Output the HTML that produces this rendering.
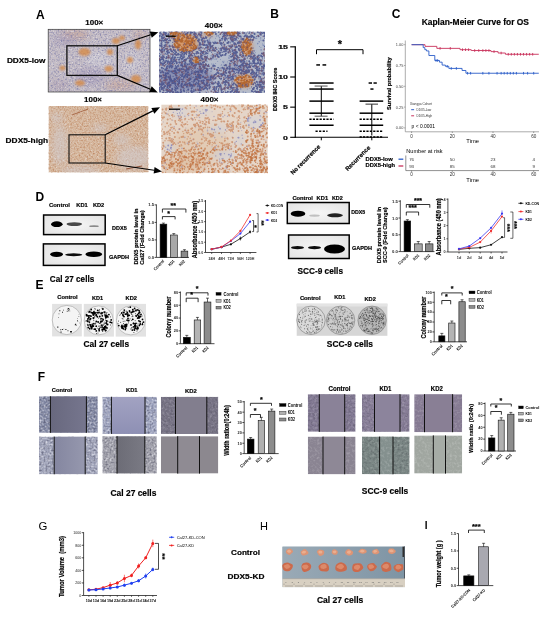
<!DOCTYPE html><html><head><meta charset="utf-8"><style>html,body{margin:0;padding:0;background:#fff;overflow:hidden}svg{display:block;font-family:"Liberation Sans",Arial,sans-serif}</style></head><body><svg width="550" height="617" viewBox="0 0 550 617"><defs><filter id="b05" x="-50%" y="-50%" width="200%" height="200%"><feGaussianBlur stdDeviation="0.5"/></filter><filter id="b1" x="-50%" y="-50%" width="200%" height="200%"><feGaussianBlur stdDeviation="1"/></filter><filter id="b2" x="-50%" y="-50%" width="200%" height="200%"><feGaussianBlur stdDeviation="2"/></filter><filter id="b3" x="-50%" y="-50%" width="200%" height="200%"><feGaussianBlur stdDeviation="3"/></filter><filter id="b07" x="-50%" y="-50%" width="200%" height="200%"><feGaussianBlur stdDeviation="0.7"/></filter><filter id="b04" x="-50%" y="-50%" width="200%" height="200%"><feGaussianBlur stdDeviation="0.4"/></filter><clipPath id="cA1"><rect x="48.2" y="29.3" width="101.8" height="62.7"/></clipPath><filter id="sA1p" x="0" y="0" width="100%" height="100%" color-interpolation-filters="sRGB"><feTurbulence type="fractalNoise" baseFrequency="0.62" numOctaves="2" seed="3"/><feColorMatrix type="matrix" values="0 0 0 0 0.46 0 0 0 0 0.46 0 0 0 0 0.65 1.8 0 0 0 -0.83"/></filter><filter id="sA1w" x="0" y="0" width="100%" height="100%" color-interpolation-filters="sRGB"><feTurbulence type="fractalNoise" baseFrequency="0.55" numOctaves="2" seed="8"/><feColorMatrix type="matrix" values="0 0 0 0 0.93 0 0 0 0 0.92 0 0 0 0 0.94 2.4 0 0 0 -1.39"/></filter><filter id="sA1o" x="0" y="0" width="100%" height="100%" color-interpolation-filters="sRGB"><feTurbulence type="fractalNoise" baseFrequency="0.6" numOctaves="2" seed="5"/><feColorMatrix type="matrix" values="0 0 0 0 0.77 0 0 0 0 0.51 0 0 0 0 0.33 2.2 0 0 0 -0.99"/></filter><mask id="mA1" maskUnits="userSpaceOnUse" x="48.2" y="29.3" width="101.8" height="62.7"><ellipse cx="84.5" cy="52" rx="6" ry="4" fill="#fff" filter="url(#b1)"/><ellipse cx="116" cy="41" rx="4" ry="3" fill="#fff" filter="url(#b1)"/><ellipse cx="122" cy="38" rx="3" ry="2.5" fill="#fff" filter="url(#b1)"/><ellipse cx="138" cy="44.5" rx="3" ry="5" fill="#fff" filter="url(#b1)"/><ellipse cx="110" cy="52" rx="3" ry="3" fill="#fff" filter="url(#b1)"/><ellipse cx="62.5" cy="68" rx="3" ry="2.5" fill="#fff" filter="url(#b1)"/><ellipse cx="108.7" cy="68.7" rx="4" ry="3" fill="#fff" filter="url(#b1)"/><ellipse cx="80" cy="83" rx="5" ry="3" fill="#fff" filter="url(#b1)"/><ellipse cx="136" cy="79" rx="5" ry="4" fill="#fff" filter="url(#b1)"/><ellipse cx="130" cy="60" rx="3" ry="3" fill="#fff" filter="url(#b1)"/></mask><clipPath id="cA2"><rect x="159" y="31.4" width="106" height="61.6"/></clipPath><mask id="mA2" maskUnits="userSpaceOnUse" x="159" y="31.4" width="106" height="61.6"><ellipse cx="186" cy="43" rx="12" ry="8.5" fill="#fff" filter="url(#b2)"/><ellipse cx="177" cy="35" rx="7" ry="3" fill="#fff" filter="url(#b2)"/><ellipse cx="208" cy="34" rx="5" ry="2.5" fill="#fff" filter="url(#b2)"/><ellipse cx="232" cy="33" rx="5" ry="2.5" fill="#fff" filter="url(#b2)"/><ellipse cx="247" cy="47" rx="5.5" ry="8.5" fill="#fff" filter="url(#b2)"/><ellipse cx="244" cy="81" rx="9.5" ry="6.5" fill="#fff" filter="url(#b2)"/><ellipse cx="196" cy="60" rx="3.5" ry="2.5" fill="#fff" filter="url(#b2)"/></mask><clipPath id="cA3"><rect x="48.5" y="106" width="99.9" height="66.6"/></clipPath><filter id="sA3o" x="0" y="0" width="100%" height="100%" color-interpolation-filters="sRGB"><feTurbulence type="fractalNoise" baseFrequency="0.62" numOctaves="2" seed="21"/><feColorMatrix type="matrix" values="0 0 0 0 0.73 0 0 0 0 0.5 0 0 0 0 0.35 1.8 0 0 0 -0.76"/></filter><filter id="sA3w" x="0" y="0" width="100%" height="100%" color-interpolation-filters="sRGB"><feTurbulence type="fractalNoise" baseFrequency="0.55" numOctaves="2" seed="22"/><feColorMatrix type="matrix" values="0 0 0 0 0.93 0 0 0 0 0.91 0 0 0 0 0.91 2.2 0 0 0 -1.28"/></filter><mask id="mA3" maskUnits="userSpaceOnUse" x="48.5" y="106" width="99.9" height="66.6"><ellipse cx="60" cy="145" rx="8" ry="20" fill="#fff" filter="url(#b3)"/><ellipse cx="134" cy="158" rx="18" ry="12" fill="#fff" filter="url(#b3)"/><ellipse cx="122" cy="140" rx="8" ry="6" fill="#fff" filter="url(#b3)"/><ellipse cx="80" cy="171" rx="20" ry="5" fill="#fff" filter="url(#b3)"/><ellipse cx="100" cy="128" rx="8" ry="4" fill="#fff" filter="url(#b3)"/><ellipse cx="57" cy="118" rx="6" ry="6" fill="#fff" filter="url(#b3)"/></mask><clipPath id="cA4"><rect x="161.2" y="104.4" width="106.6" height="68.8"/></clipPath><mask id="mA4" maskUnits="userSpaceOnUse" x="161.2" y="104.4" width="106.6" height="68.8"><ellipse cx="180" cy="112" rx="9" ry="4" fill="#fff" filter="url(#b3)"/><ellipse cx="218" cy="129" rx="9" ry="4" fill="#fff" filter="url(#b3)"/><ellipse cx="255" cy="122" rx="9" ry="6" fill="#fff" filter="url(#b3)"/><ellipse cx="224" cy="155" rx="12" ry="5" fill="#fff" filter="url(#b3)"/><ellipse cx="170" cy="148" rx="6" ry="4" fill="#fff" filter="url(#b3)"/><ellipse cx="205" cy="112" rx="6" ry="3" fill="#fff" filter="url(#b3)"/><ellipse cx="240" cy="140" rx="4" ry="6" fill="#fff" filter="url(#b3)"/></mask><radialGradient id="gBlot" cx="0.5" cy="0.5" r="0.7"><stop offset="0" stop-color="#f6f6f6"/><stop offset="1" stop-color="#e2e2e2"/></radialGradient><filter id="nW" x="0" y="0" width="100%" height="100%" color-interpolation-filters="sRGB"><feTurbulence type="fractalNoise" baseFrequency="0.5" numOctaves="2" seed="31"/><feColorMatrix type="matrix" values="0 0 0 0 0.98 0 0 0 0 0.98 0 0 0 0 1 1.6 0 0 0 -0.66"/></filter><filter id="nWd" x="0" y="0" width="100%" height="100%" color-interpolation-filters="sRGB"><feTurbulence type="fractalNoise" baseFrequency="0.5" numOctaves="2" seed="41"/><feColorMatrix type="matrix" values="0 0 0 0 0.24 0 0 0 0 0.24 0 0 0 0 0.33 1.3 0 0 0 -0.6"/></filter><filter id="nWs" x="0" y="0" width="100%" height="100%" color-interpolation-filters="sRGB"><feTurbulence type="fractalNoise" baseFrequency="0.4" numOctaves="2" seed="37"/><feColorMatrix type="matrix" values="0 0 0 0 1 0 0 0 0 1 0 0 0 0 1 0.5 0 0 0 -0.23"/></filter><filter id="nWsd" x="0" y="0" width="100%" height="100%" color-interpolation-filters="sRGB"><feTurbulence type="fractalNoise" baseFrequency="0.45" numOctaves="2" seed="39"/><feColorMatrix type="matrix" values="0 0 0 0 0.16 0 0 0 0 0.16 0 0 0 0 0.2 0.6 0 0 0 -0.26"/></filter><clipPath id="cw1"><rect x="39" y="396.3" width="58.8" height="36.5"/></clipPath><linearGradient id="g1" x1="0" y1="0" x2="1" y2="0"><stop offset="0" stop-color="#68687e"/><stop offset="1" stop-color="#76768e"/></linearGradient><clipPath id="cw2"><rect x="39" y="436.6" width="58.8" height="37.7"/></clipPath><linearGradient id="g2" x1="0" y1="0" x2="1" y2="0"><stop offset="0" stop-color="#8486a0"/><stop offset="1" stop-color="#9698ae"/></linearGradient><clipPath id="cw3"><rect x="102.4" y="396.8" width="54.4" height="37.1"/></clipPath><linearGradient id="g3" x1="0" y1="0" x2="0" y2="1"><stop offset="0" stop-color="#a2a2c2"/><stop offset="1" stop-color="#8e90b4"/></linearGradient><clipPath id="cw4"><rect x="102.4" y="436.2" width="54.4" height="37.4"/></clipPath><linearGradient id="g4" x1="0" y1="0" x2="1" y2="0"><stop offset="0" stop-color="#6c6c76"/><stop offset="1" stop-color="#7a7a84"/></linearGradient><clipPath id="cw5"><rect x="160.9" y="396.8" width="57.4" height="37.1"/></clipPath><clipPath id="cw6"><rect x="160.9" y="436.2" width="57.4" height="37.4"/></clipPath><clipPath id="cw7"><rect x="307.8" y="394.2" width="47.8" height="37.6"/></clipPath><clipPath id="cw8"><rect x="307.8" y="436.6" width="47.8" height="37.7"/></clipPath><clipPath id="cw9"><rect x="362" y="394.2" width="47.6" height="37.6"/></clipPath><clipPath id="cw10"><rect x="362" y="436.6" width="47.6" height="37.7"/></clipPath><clipPath id="cw11"><rect x="414.2" y="394.2" width="48" height="38"/></clipPath><clipPath id="cw12"><rect x="414.2" y="435.4" width="48" height="38.2"/></clipPath><clipPath id="cH"><rect x="282.3" y="546.4" width="122.7" height="40.9"/></clipPath><linearGradient id="gH" x1="0" y1="0" x2="1" y2="0"><stop offset="0" stop-color="#9aaab6"/><stop offset="1" stop-color="#7e94a4"/></linearGradient><filter id="sTum" x="0" y="0" width="100%" height="100%" color-interpolation-filters="sRGB"><feTurbulence type="fractalNoise" baseFrequency="0.5" numOctaves="2" seed="77"/><feColorMatrix type="matrix" values="0 0 0 0 0.98 0 0 0 0 0.78 0 0 0 0 0.67 2.2 0 0 0 -1.1"/></filter><filter id="sTumD" x="0" y="0" width="100%" height="100%" color-interpolation-filters="sRGB"><feTurbulence type="fractalNoise" baseFrequency="0.6" numOctaves="2" seed="78"/><feColorMatrix type="matrix" values="0 0 0 0 0.67 0 0 0 0 0.24 0 0 0 0 0.16 2.2 0 0 0 -1.21"/></filter></defs><rect width="550" height="617" fill="#fff"/><text x="36" y="18.59" font-size="12" font-weight="bold">A</text>
<text x="94.3" y="24.66" font-size="8" font-weight="bold" text-anchor="middle" fill="#000" textLength="18" lengthAdjust="spacingAndGlyphs" stroke="#000" stroke-width="0.18">100×</text>
<text x="213.8" y="28.16" font-size="8" font-weight="bold" text-anchor="middle" fill="#000" textLength="18" lengthAdjust="spacingAndGlyphs" stroke="#000" stroke-width="0.18">400×</text>
<text x="93" y="102.36" font-size="8" font-weight="bold" text-anchor="middle" fill="#000" textLength="18" lengthAdjust="spacingAndGlyphs" stroke="#000" stroke-width="0.18">100×</text>
<text x="209.5" y="102.06" font-size="8" font-weight="bold" text-anchor="middle" fill="#000" textLength="18" lengthAdjust="spacingAndGlyphs" stroke="#000" stroke-width="0.18">400×</text>
<text x="6.9" y="62.86" font-size="8" font-weight="bold" text-anchor="start" fill="#000" textLength="38.6" lengthAdjust="spacingAndGlyphs" stroke="#000" stroke-width="0.18">DDX5-low</text>
<text x="5.6" y="142.86" font-size="8" font-weight="bold" text-anchor="start" fill="#000" textLength="42.6" lengthAdjust="spacingAndGlyphs" stroke="#000" stroke-width="0.18">DDX5-high</text>
<g clip-path="url(#cA1)">
<rect x="48.2" y="29.3" width="101.8" height="62.7" fill="#c6bec6"/>
<ellipse cx="100" cy="60" rx="14" ry="9" fill="#d0ced8" opacity="0.7" filter="url(#b3)"/>
<ellipse cx="132" cy="62" rx="8" ry="10" fill="#d6d4dc" opacity="0.6" filter="url(#b3)"/>
<ellipse cx="75" cy="35" rx="14" ry="5" fill="#cc9c84" opacity="0.5" filter="url(#b3)"/>
<ellipse cx="120" cy="85" rx="16" ry="5" fill="#c89c88" opacity="0.5" filter="url(#b3)"/>
<ellipse cx="140" cy="35" rx="8" ry="5" fill="#c8a090" opacity="0.5" filter="url(#b3)"/>
<ellipse cx="66" cy="40" rx="12" ry="6" fill="#a89cb8" opacity="0.6" filter="url(#b3)"/>
<ellipse cx="90" cy="76" rx="16" ry="8" fill="#a49ab8" opacity="0.6" filter="url(#b3)"/>
<ellipse cx="60" cy="85" rx="10" ry="5" fill="#b0a0b0" opacity="0.6" filter="url(#b3)"/>
<rect x="48.2" y="29.3" width="101.8" height="62.7" fill="#000" filter="url(#sA1p)"/>
<rect x="48.2" y="29.3" width="101.8" height="62.7" fill="#000" filter="url(#sA1w)"/>
<g mask="url(#mA1)" opacity="0.95">
<rect x="48.2" y="29.3" width="101.8" height="62.7" fill="#d4945c"/>
<rect x="48.2" y="29.3" width="101.8" height="62.7" fill="#000" filter="url(#sA1o)"/>
</g>
</g>
<rect x="48.2" y="29.3" width="101.8" height="62.7" fill="none" stroke="#333" stroke-width="0.7"/>
<g clip-path="url(#cA2)">
<rect x="159" y="31.4" width="106" height="61.6" fill="#b6bdcc"/>
<ellipse cx="185" cy="78" rx="28" ry="14" fill="#6a70a0" opacity="0.6" filter="url(#b3)"/>
<ellipse cx="235" cy="70" rx="14" ry="8" fill="#8088b0" opacity="0.4" filter="url(#b3)"/>
<g mask="url(#mA2)">
<rect x="159" y="31.4" width="106" height="61.6" fill="#d49a6c"/>
</g>
<g opacity="0.8" filter="url(#b04)">
<path d="M199.4 45.6h0M217.6 55.0h0M241.8 72.2h0M205.6 41.0h0M186.3 74.0h0M172.3 72.7h0M169.5 40.2h0M164.7 51.0h0M223.5 42.6h0M200.9 32.7h0M204.1 77.3h0M177.7 81.1h0M235.3 73.4h0M222.7 37.5h0M167.8 72.6h0M205.8 36.4h0M208.7 46.2h0M246.1 33.2h0M227.9 42.3h0M199.2 45.6h0M222.0 45.8h0M164.8 82.3h0M251.5 63.1h0M224.9 65.7h0M165.8 64.5h0M213.3 42.4h0M254.7 91.4h0M219.7 41.3h0M175.5 85.4h0M203.5 45.0h0M165.5 69.0h0M177.3 57.3h0M249.9 69.7h0M167.7 86.4h0M262.0 78.8h0M237.2 67.6h0M254.2 63.4h0M231.8 49.2h0M210.4 76.7h0M185.1 85.2h0M220.9 79.6h0M167.7 65.6h0M241.9 71.3h0M252.4 36.5h0M225.2 50.1h0M183.4 52.7h0M216.3 49.1h0M204.5 56.4h0M241.8 68.0h0M180.3 52.7h0M233.4 84.8h0M173.7 58.0h0M184.3 61.1h0M168.6 40.5h0M165.1 53.4h0M160.0 65.0h0M234.4 76.0h0M211.1 55.8h0M230.0 69.1h0M240.1 41.1h0M177.8 91.7h0M195.7 49.5h0M228.5 78.9h0M231.1 45.0h0M164.4 57.6h0M179.2 80.4h0M230.1 46.2h0M213.8 79.5h0M160.9 54.6h0M159.2 65.9h0M217.8 56.1h0M170.1 71.1h0M260.0 87.4h0M229.2 60.6h0M174.3 40.8h0M240.0 31.4h0M181.3 59.9h0M254.3 65.8h0M225.3 48.1h0M232.9 62.7h0M205.7 45.6h0M167.2 83.4h0M223.2 67.9h0M255.8 74.7h0M215.2 56.7h0M196.5 82.7h0M230.0 75.6h0M167.4 85.4h0M177.8 88.8h0M191.1 84.3h0M171.2 54.7h0M209.2 68.3h0M239.9 42.1h0M224.9 55.0h0M234.3 59.7h0M259.0 32.2h0M168.9 38.5h0M226.6 66.0h0M221.4 52.0h0M176.5 88.9h0M193.8 50.6h0M235.8 36.3h0M235.1 89.3h0M160.9 31.5h0M183.2 81.2h0M203.1 44.1h0M191.5 60.1h0M246.2 34.9h0M199.3 44.0h0M206.0 38.5h0M195.1 34.1h0M203.2 70.9h0M189.4 51.3h0M163.4 34.7h0M244.4 65.8h0M194.8 49.7h0M195.0 78.0h0M240.1 46.6h0M163.4 92.7h0M216.6 43.4h0M232.3 81.0h0M199.3 66.4h0M191.1 76.8h0M194.1 55.5h0M194.4 53.5h0M188.7 72.1h0M241.2 37.9h0M161.8 78.4h0M206.7 92.3h0M161.8 41.7h0M231.8 71.6h0M164.9 45.4h0M216.6 88.8h0M206.2 60.2h0M222.0 40.6h0M168.9 31.6h0M240.2 41.9h0M197.7 37.0h0M180.7 77.7h0M170.0 74.9h0M207.9 53.7h0M215.5 82.8h0M200.6 50.1h0M249.6 70.9h0M212.6 49.6h0M206.6 73.0h0M264.8 91.1h0M214.7 50.8h0M258.9 85.2h0M189.2 63.4h0M232.0 82.1h0M253.8 53.6h0M202.7 82.2h0M240.0 45.9h0M196.2 57.3h0M248.9 33.3h0M225.1 76.8h0M174.4 73.4h0M259.1 86.4h0M186.3 53.9h0M161.1 76.3h0M226.5 50.9h0M181.4 63.8h0M249.0 67.7h0M202.4 44.8h0M226.5 82.3h0M262.4 33.4h0M233.7 39.3h0M163.0 40.2h0M191.4 71.2h0M187.0 52.6h0M250.2 56.2h0M193.2 35.0h0M211.6 52.2h0M214.4 69.2h0M173.1 76.3h0M237.9 32.4h0M174.7 57.5h0M203.2 44.3h0M218.2 90.4h0M170.4 91.2h0M184.5 70.1h0M172.5 92.3h0M189.2 74.0h0M174.2 47.3h0M191.7 57.9h0M195.3 89.5h0M242.0 66.2h0M160.4 45.7h0M252.7 77.7h0M217.8 42.8h0M242.2 73.7h0M187.4 76.6h0M226.7 77.7h0M217.7 42.4h0M233.4 52.7h0M178.3 57.3h0M218.6 92.0h0M235.2 55.5h0M181.7 86.1h0M196.8 46.8h0M208.6 64.4h0M170.6 48.8h0M186.7 33.6h0M197.5 52.0h0M218.2 51.0h0M219.2 68.9h0M244.5 57.1h0M235.6 55.0h0M223.5 91.6h0M176.1 77.3h0M207.0 80.8h0M230.3 42.8h0M263.3 65.7h0M210.3 86.6h0M174.6 82.7h0M240.6 55.0h0M199.4 76.3h0M258.9 73.2h0M193.3 57.5h0M205.7 73.8h0M242.9 31.7h0M185.1 65.0h0M228.0 43.0h0M254.7 63.6h0M187.9 73.0h0M235.7 76.8h0M257.9 55.5h0M224.2 65.2h0M260.8 31.5h0M250.7 36.9h0M249.8 65.0h0M219.0 88.1h0M196.6 38.0h0M254.9 75.8h0M234.1 63.2h0M188.5 92.8h0M164.9 88.7h0M210.5 76.8h0M220.4 34.2h0M174.7 59.6h0M187.5 77.5h0M263.7 78.4h0M216.2 42.3h0M177.1 85.8h0M202.6 71.5h0M159.1 49.2h0M221.0 76.2h0M206.7 44.9h0M264.8 38.2h0M206.6 69.6h0M226.4 38.2h0M188.3 83.5h0M205.8 84.9h0M255.4 77.8h0M244.8 36.4h0M197.1 78.0h0M190.9 34.6h0M260.0 63.6h0M172.7 61.3h0M236.7 44.2h0M247.0 56.0h0M178.3 32.0h0M261.3 71.0h0M190.8 67.4h0M182.6 64.0h0M257.6 74.9h0M170.0 90.0h0M168.8 91.4h0M184.9 83.9h0M232.8 46.1h0M248.0 38.3h0M257.0 92.2h0M231.2 68.8h0M175.2 46.8h0M165.8 60.4h0M162.9 68.2h0M195.8 84.6h0M159.7 53.7h0M204.0 54.7h0M210.8 58.4h0M168.4 88.6h0M201.9 39.4h0M259.5 87.3h0M207.4 53.4h0M215.0 53.8h0M166.1 90.4h0M164.1 62.9h0M237.1 87.7h0M177.2 81.7h0M252.1 63.6h0M182.0 79.4h0M226.3 87.5h0M262.2 73.7h0M176.3 86.8h0M244.7 61.1h0M233.2 85.2h0M241.2 42.6h0M236.2 51.5h0M174.3 89.7h0M170.2 56.1h0M160.5 84.1h0M242.3 52.1h0M171.3 37.8h0M176.5 72.1h0M193.2 82.1h0M253.1 58.8h0M160.9 34.3h0M252.4 66.5h0M163.6 84.4h0M217.8 67.7h0M207.0 66.0h0M218.8 81.4h0M161.2 46.6h0M249.2 67.2h0M164.7 78.0h0M163.9 34.8h0M244.4 36.8h0M252.9 89.7h0M223.7 72.5h0M190.1 34.2h0M188.4 58.1h0M223.7 71.2h0M258.7 58.9h0M181.9 65.3h0M220.8 86.3h0M247.1 72.9h0M174.7 58.5h0M202.4 58.1h0M236.8 51.3h0M182.0 75.8h0M205.7 37.2h0M187.4 74.6h0M263.7 55.8h0M199.4 78.3h0M190.3 66.0h0M237.0 40.7h0M191.0 51.4h0M197.9 71.9h0M194.4 90.9h0M241.9 70.4h0M185.7 85.1h0M180.5 75.2h0M184.2 55.0h0M174.1 53.2h0M172.4 80.3h0M233.4 79.6h0M169.7 84.7h0M209.8 44.6h0M183.7 78.5h0M213.6 43.2h0M164.3 65.3h0M199.4 44.8h0M218.6 67.6h0M171.2 50.6h0M166.7 51.2h0M174.1 73.5h0M181.8 58.1h0M216.4 69.8h0M186.1 58.9h0M256.8 74.8h0M183.4 85.3h0M262.8 90.4h0M251.1 56.1h0M176.7 80.3h0M166.5 33.5h0M166.7 40.2h0M261.2 34.3h0M254.0 57.1h0M215.4 81.9h0M230.1 52.8h0M216.4 74.5h0M263.5 55.6h0M199.2 50.4h0M162.9 61.6h0M195.0 63.6h0M237.3 90.7h0M196.9 63.8h0M236.4 56.5h0M260.2 70.5h0M196.5 51.9h0M200.5 77.2h0M180.9 62.5h0M236.7 90.8h0M193.8 89.3h0M216.9 73.4h0M196.4 79.4h0M219.8 48.8h0M232.9 50.6h0M264.9 57.9h0M167.9 62.9h0M221.8 89.4h0M172.7 42.3h0M250.0 36.7h0M232.3 37.5h0M245.6 70.6h0M162.7 63.8h0M198.7 38.9h0M198.1 77.7h0M164.0 84.7h0M202.7 55.4h0M217.2 52.8h0M239.3 69.5h0M234.9 63.9h0M162.3 64.1h0M190.0 52.6h0M215.5 66.0h0M193.6 82.1h0M223.6 70.5h0M184.2 63.5h0M247.7 31.8h0M212.0 50.2h0M240.4 69.3h0M231.6 87.4h0M181.6 64.7h0M251.6 86.9h0M177.8 78.1h0M193.1 72.9h0M179.1 51.1h0M258.0 85.6h0M218.9 50.9h0M244.5 36.3h0M258.1 63.3h0M191.5 89.0h0M244.0 36.7h0M188.1 58.3h0M189.3 60.1h0M218.7 89.6h0M260.7 55.2h0M232.3 78.7h0M199.0 69.7h0M221.5 45.1h0M171.8 60.9h0M190.5 54.2h0M212.9 58.7h0M251.1 75.2h0M167.3 62.5h0M254.6 82.9h0M252.5 91.4h0M193.2 85.1h0M241.4 56.6h0M162.4 55.5h0M166.1 54.4h0M164.9 49.3h0M186.5 54.6h0M167.1 70.7h0M230.1 89.6h0M179.5 83.3h0M255.6 58.8h0M230.6 74.6h0M226.8 84.9h0M251.9 51.3h0M172.4 62.5h0M226.4 46.8h0M241.3 69.7h0M165.6 44.5h0M183.7 55.3h0M180.9 58.5h0M200.3 74.7h0M172.2 66.3h0M204.4 68.7h0M242.8 55.4h0M241.1 38.3h0M254.6 74.8h0M228.3 38.2h0M252.8 74.6h0M228.9 66.3h0M197.6 63.9h0M199.7 58.1h0M176.1 32.0h0M159.7 50.0h0M194.8 32.1h0M210.2 82.5h0M236.7 72.3h0M205.0 78.4h0M195.8 90.7h0M201.5 87.9h0M182.8 61.7h0M250.7 39.3h0M259.7 65.8h0M165.6 38.9h0M218.6 92.0h0M229.2 81.0h0M161.4 38.3h0M220.9 55.6h0M244.3 67.5h0M264.7 86.3h0M255.4 86.0h0M182.2 76.5h0M228.1 51.7h0M210.1 48.3h0M252.7 72.9h0M202.1 77.1h0M166.1 32.3h0M227.3 39.9h0M229.6 49.5h0M230.0 80.3h0M199.8 39.0h0M167.7 54.1h0M169.4 89.3h0M168.7 55.9h0M169.1 78.9h0M235.7 49.4h0M207.8 86.0h0M204.6 45.3h0M218.6 88.9h0M213.3 78.3h0M254.9 76.8h0M202.6 52.7h0M203.2 86.7h0M222.5 36.3h0M238.1 71.0h0M221.4 87.9h0M183.1 57.0h0M174.9 59.6h0M264.6 33.9h0M250.6 73.4h0M255.3 83.7h0M188.2 88.0h0M235.1 40.6h0M235.7 75.6h0M219.6 70.3h0M224.4 68.8h0M200.2 75.2h0M175.4 52.9h0M165.5 80.9h0M201.0 90.5h0M198.5 82.5h0M234.0 40.2h0M165.6 38.5h0M240.6 47.8h0M187.8 83.7h0M163.1 80.8h0M223.0 34.2h0M238.3 38.2h0M234.6 69.1h0M183.2 71.4h0M240.9 67.6h0M263.3 53.7h0M186.2 33.6h0M171.5 61.3h0M205.4 86.9h0M216.3 89.7h0M243.6 40.2h0M258.4 36.5h0M259.1 78.9h0M172.5 45.1h0M173.3 73.5h0M236.3 37.2h0M165.5 73.8h0M175.7 70.9h0M174.5 87.1h0M179.9 71.1h0M193.3 73.0h0M231.8 36.2h0M234.3 72.7h0M242.3 65.6h0M257.5 89.1h0M182.7 84.0h0M207.7 70.4h0M249.6 61.6h0M263.3 36.2h0M210.1 42.1h0M160.1 80.3h0M234.2 58.5h0M212.0 81.7h0M220.3 55.3h0M180.0 74.9h0M256.4 36.3h0M226.0 46.9h0M175.5 65.6h0M193.1 86.7h0M172.2 57.9h0M201.1 37.4h0M159.2 50.0h0M159.9 39.5h0M198.8 76.4h0M253.1 70.3h0M220.3 74.1h0M171.7 32.5h0M238.3 41.7h0M192.7 32.3h0M264.0 63.1h0M159.6 36.7h0M259.7 33.0h0M199.6 43.9h0M166.1 64.8h0M232.6 75.9h0M213.3 32.6h0M228.0 86.4h0M213.2 45.2h0M172.0 58.9h0M191.5 61.5h0M232.5 49.1h0M261.0 35.2h0M221.1 87.3h0M189.4 69.8h0M194.5 54.6h0M256.3 70.3h0M255.9 91.9h0M210.9 76.1h0M258.8 72.0h0M189.1 51.8h0M208.3 59.1h0M228.0 75.4h0M222.2 43.8h0M218.9 31.6h0M192.4 86.9h0M164.3 40.6h0M171.5 65.6h0M255.9 57.9h0M218.7 51.4h0M196.6 36.7h0M186.5 92.9h0M181.4 54.0h0M188.8 31.7h0M161.5 49.6h0M206.4 71.5h0M221.9 42.8h0M178.7 92.4h0M186.1 63.6h0M164.5 86.9h0M251.1 72.9h0M230.5 54.6h0M208.3 77.8h0M183.5 61.1h0M225.7 78.2h0M258.1 69.4h0M260.8 88.0h0M234.5 35.3h0M189.7 57.6h0M222.7 92.3h0M201.7 33.4h0M246.8 60.9h0M236.1 76.2h0M238.6 68.4h0M168.3 60.1h0M169.8 79.4h0M178.9 62.1h0M237.1 37.6h0M159.7 49.6h0M206.0 44.4h0M178.1 77.7h0M165.9 61.3h0M188.0 86.0h0M165.3 53.3h0M169.6 61.9h0M205.1 56.5h0M177.2 79.1h0M198.7 40.9h0M226.2 36.5h0M253.5 91.9h0M220.8 50.2h0M173.2 92.0h0M241.5 73.9h0M254.5 60.3h0M198.6 47.0h0M199.7 66.4h0M229.5 64.1h0M198.8 73.3h0M227.4 88.3h0M233.2 37.5h0M253.6 38.1h0M262.9 32.2h0M252.8 52.8h0M223.2 89.4h0M239.7 57.7h0M215.4 91.4h0M171.1 59.6h0M205.2 52.9h0M205.1 54.1h0M207.3 65.5h0M197.5 68.6h0M246.2 73.4h0M234.2 50.1h0M189.5 64.3h0M240.1 33.6h0M207.4 81.9h0M171.8 58.6h0M170.4 75.5h0M177.0 62.2h0M167.5 63.6h0M177.3 31.7h0M186.9 73.5h0M181.9 58.9h0M215.0 57.0h0M205.2 85.9h0M256.1 84.3h0M188.9 53.9h0M262.6 86.9h0M162.0 42.2h0M181.3 79.4h0M256.6 72.3h0M261.2 92.1h0M207.1 68.3h0M216.5 88.4h0M220.6 44.2h0M239.7 59.5h0M238.9 75.2h0M221.5 32.4h0M220.3 54.8h0M201.7 60.9h0M254.0 80.4h0M232.4 55.9h0M186.8 90.8h0M259.6 92.4h0M191.9 81.5h0M163.7 68.6h0M242.1 72.5h0M194.4 86.0h0M232.0 76.4h0M211.8 31.9h0M234.0 51.6h0M258.7 74.8h0M207.4 75.0h0M203.0 44.6h0M162.1 84.6h0M216.2 31.5h0M159.1 82.0h0M245.8 66.8h0M228.7 49.0h0M169.1 45.2h0M196.3 77.2h0M183.2 79.7h0M204.5 85.2h0M193.3 77.2h0M180.7 54.4h0M168.0 55.1h0M177.0 59.2h0M187.9 70.5h0M203.0 47.8h0M255.3 83.1h0M253.7 36.5h0M171.0 60.6h0M189.5 75.5h0M232.2 36.7h0M190.9 91.2h0M244.4 63.1h0M199.8 87.8h0M230.8 51.8h0M222.4 52.2h0M163.7 38.5h0M258.8 32.7h0M164.2 84.9h0M208.1 51.9h0M253.3 39.8h0M196.7 64.3h0M186.2 65.4h0M167.5 48.5h0M254.2 82.3h0M220.8 84.1h0M162.1 70.2h0M162.2 85.1h0M257.2 82.6h0M167.2 39.6h0M243.1 56.5h0M176.4 86.7h0M229.7 63.2h0M229.0 66.2h0M187.4 80.0h0M259.2 57.7h0M252.0 65.1h0M215.7 55.7h0M212.8 32.9h0M169.3 72.0h0M255.4 68.4h0M251.9 64.5h0M196.2 77.8h0M187.0 77.5h0M256.1 73.6h0M197.4 83.2h0M219.2 83.1h0M176.0 61.5h0M173.6 52.3h0M208.4 49.3h0M258.2 61.4h0M263.2 67.1h0M253.1 31.8h0M196.1 51.8h0M195.6 70.9h0M239.3 42.7h0M224.4 74.5h0M180.5 57.1h0M247.2 38.4h0M209.0 80.1h0M262.4 58.8h0M169.8 77.1h0M210.1 87.3h0M223.4 49.1h0M247.5 35.8h0M195.3 90.5h0M214.0 50.4h0M253.4 77.8h0M234.2 69.4h0M231.2 41.7h0M195.2 33.8h0M227.2 79.9h0M176.1 92.0h0M161.5 33.9h0M230.9 63.4h0M181.7 65.3h0M246.5 65.3h0M205.3 51.4h0M211.0 91.0h0M230.8 76.3h0M187.6 58.3h0M159.6 87.5h0M165.4 62.5h0M180.8 55.9h0M212.9 42.2h0M217.9 90.8h0M220.9 68.1h0M214.2 49.4h0M187.3 64.4h0M203.2 69.3h0M164.4 50.2h0M179.8 86.0h0M226.1 70.3h0M200.1 84.3h0M249.4 71.7h0M251.5 32.5h0M223.8 47.8h0M194.3 71.7h0M232.7 38.5h0M241.0 42.9h0M201.0 75.2h0M188.7 51.6h0M219.5 78.3h0M219.5 86.1h0M186.2 31.6h0M210.4 76.1h0M197.6 85.8h0M207.3 72.1h0M224.3 44.4h0M254.2 76.2h0M239.8 65.5h0M180.9 88.0h0M234.1 36.6h0M224.1 55.0h0M192.6 70.8h0M184.3 81.6h0M234.4 52.0h0M261.8 63.5h0M233.4 38.0h0M204.1 58.7h0M260.9 89.4h0M207.3 83.4h0M193.6 84.2h0M240.5 67.6h0M203.6 37.8h0M228.5 84.3h0M194.7 64.7h0M239.8 68.7h0M204.2 80.4h0M234.2 71.4h0M246.3 71.2h0M172.5 46.5h0M249.7 33.2h0M217.0 49.3h0M218.0 81.5h0M189.4 53.3h0M166.4 67.6h0M247.5 57.9h0M228.7 88.8h0M226.2 37.9h0M202.5 72.9h0M195.3 66.4h0M217.9 54.4h0M175.5 87.2h0M193.2 50.5h0M225.5 91.0h0M174.5 63.6h0M261.9 74.7h0M188.7 55.7h0M201.9 56.7h0M223.9 82.8h0M245.9 58.0h0M207.0 75.1h0M195.9 65.2h0M169.4 45.7h0M188.2 72.9h0M238.0 61.8h0M229.5 77.1h0M254.0 33.2h0M184.1 88.5h0M168.0 65.1h0M252.9 52.3h0M240.1 70.5h0M176.4 68.6h0M218.0 90.9h0M191.1 69.1h0M182.3 56.1h0M232.8 40.7h0M249.3 72.2h0M178.7 86.1h0M214.0 68.1h0M218.8 32.4h0M216.3 43.5h0M197.3 78.0h0M223.2 89.0h0M192.3 51.9h0M169.5 37.7h0M175.1 73.8h0M260.3 81.3h0M243.8 61.3h0M228.7 43.1h0M227.0 92.4h0M207.4 55.8h0M238.9 60.1h0M214.2 88.0h0M182.5 53.8h0M187.8 57.6h0M193.6 53.6h0M228.4 80.6h0M251.9 57.2h0M160.1 63.0h0M178.7 59.8h0M261.1 73.0h0M224.1 88.4h0M195.5 74.4h0M239.9 60.8h0M232.6 70.1h0M200.4 36.8h0M190.8 74.7h0M162.1 77.4h0M251.9 51.5h0M209.4 66.2h0M205.1 60.5h0M199.1 48.8h0M164.0 34.3h0M263.9 65.1h0M235.7 44.3h0M201.2 63.7h0M185.8 82.4h0M220.5 84.8h0M197.4 86.3h0M166.7 60.7h0M184.6 91.6h0" stroke="#404a88" stroke-width="1.2" stroke-linecap="round"/>
<path d="M254.6 55.2h0M171.7 67.6h0M181.9 76.1h0M167.3 89.7h0M252.3 71.8h0M263.6 74.8h0M228.5 77.6h0M182.4 53.8h0M231.1 56.7h0M199.0 74.8h0M217.1 69.8h0M230.7 38.7h0M222.5 75.3h0M200.6 53.4h0M163.4 72.5h0M181.7 56.0h0M221.3 50.1h0M232.3 46.1h0M185.2 60.4h0M239.3 70.2h0M161.8 67.8h0M161.9 82.1h0M199.9 42.9h0M221.2 73.9h0M210.4 77.9h0M160.8 50.5h0M200.2 35.5h0M230.0 77.8h0M198.3 53.0h0M168.5 83.3h0M191.7 88.3h0M254.0 87.7h0M214.8 89.0h0M254.4 60.5h0M210.3 47.0h0M244.1 33.0h0M214.4 43.3h0M168.8 83.5h0M198.6 90.0h0M257.5 56.9h0M213.1 66.0h0M168.2 73.4h0M206.9 57.9h0M242.9 71.0h0M199.8 60.4h0M259.0 70.6h0M246.9 36.4h0M263.4 40.5h0M238.2 42.9h0M209.7 49.4h0M213.0 57.0h0M206.2 87.5h0M161.4 40.7h0M209.4 84.4h0M159.6 70.6h0M238.4 72.7h0M257.0 68.0h0M202.3 82.9h0M184.0 57.0h0M189.8 55.8h0M162.6 51.6h0M203.6 89.2h0M221.9 92.6h0M168.8 90.9h0M170.3 78.6h0M194.3 65.4h0M251.2 53.0h0M172.2 89.4h0M166.2 58.3h0M161.2 87.8h0M160.0 76.2h0M225.0 40.5h0M239.4 42.8h0M166.2 35.4h0M175.2 70.8h0M239.0 71.0h0M208.2 42.0h0M262.8 88.8h0M230.9 87.7h0M160.9 84.6h0M232.0 76.7h0M235.8 52.0h0M200.4 78.0h0M263.6 66.9h0M189.8 61.6h0M242.5 63.9h0M225.9 93.0h0M186.9 86.8h0M183.1 87.4h0M254.0 61.8h0M234.4 35.6h0M239.3 33.2h0M247.2 71.9h0M227.4 67.7h0M249.9 66.1h0M233.7 57.4h0M182.8 58.0h0M199.3 89.9h0M206.9 57.2h0M181.9 72.3h0M161.4 50.5h0M183.7 90.2h0M181.2 55.5h0M162.2 49.2h0M182.6 58.8h0M257.4 87.2h0M165.2 69.8h0M176.5 62.3h0M223.8 82.1h0M221.1 89.0h0M198.8 77.3h0M197.9 71.5h0M198.8 75.7h0M185.3 34.3h0M205.9 71.4h0M241.6 49.5h0M209.3 85.7h0M225.2 37.7h0M167.6 84.0h0M203.2 64.7h0M216.2 93.0h0M205.1 72.6h0M182.4 61.7h0M257.9 60.2h0M231.2 86.5h0M251.6 37.0h0M220.1 43.1h0M258.9 55.6h0M189.3 51.7h0M178.1 50.0h0M187.0 68.4h0M191.3 54.6h0M166.4 89.7h0M209.1 44.6h0M243.1 65.5h0M202.2 58.7h0M171.3 59.5h0M166.3 76.1h0M190.8 31.7h0M262.2 56.7h0M165.1 62.1h0M215.0 78.6h0M187.4 84.8h0M180.9 90.0h0M263.5 68.4h0M205.9 59.3h0M224.2 79.3h0M241.2 61.7h0M175.0 71.7h0M256.9 69.3h0M199.6 92.5h0M254.3 62.9h0M169.4 82.5h0M209.9 50.8h0M256.9 63.7h0M161.1 86.6h0M235.9 69.6h0M221.1 78.6h0M221.0 48.6h0M189.0 80.3h0M196.6 78.7h0M256.9 75.5h0M234.3 44.3h0M175.8 72.3h0M184.3 54.6h0M221.5 90.7h0M247.0 37.7h0M170.5 79.6h0M176.5 67.8h0M235.9 58.2h0M240.6 36.6h0M200.4 90.2h0M199.6 89.7h0M252.3 71.9h0M176.3 55.0h0M226.5 33.6h0M176.1 67.1h0M233.0 76.4h0M261.3 32.7h0M201.0 56.1h0M182.5 51.2h0M174.3 71.1h0M228.8 72.3h0M234.8 91.3h0M163.8 37.8h0M240.4 66.1h0M210.8 79.8h0M170.7 49.8h0M232.7 69.2h0M214.7 90.3h0M203.7 51.6h0M238.8 49.7h0M168.6 52.5h0M253.9 73.8h0M195.1 72.8h0M246.8 67.0h0M227.2 32.3h0M202.3 59.1h0M172.1 83.1h0M199.8 43.7h0M232.5 84.6h0M243.0 53.6h0M173.2 92.1h0M184.0 90.9h0M184.8 64.2h0M237.6 31.6h0M203.0 76.4h0M167.8 85.6h0M257.7 32.1h0M246.4 70.6h0M242.2 51.8h0M195.3 36.9h0M263.3 84.1h0M178.9 54.5h0M207.3 46.3h0M193.4 91.2h0M238.5 33.8h0M257.3 67.3h0M175.7 74.7h0M251.1 56.4h0M216.7 87.0h0M242.2 39.5h0M248.0 72.2h0M224.8 88.2h0M260.3 60.8h0M175.1 79.2h0M171.1 61.2h0M238.0 35.6h0M206.1 37.8h0M253.6 88.9h0M207.2 50.5h0M219.1 76.8h0M201.6 40.0h0M187.7 72.2h0M191.9 62.6h0M233.6 68.7h0M165.5 42.6h0M172.7 57.1h0M184.1 60.5h0M231.5 40.1h0M189.0 68.0h0M193.5 84.8h0M224.9 49.2h0M229.7 69.0h0M229.7 66.4h0M165.7 92.9h0M241.5 64.8h0M162.3 71.5h0M173.5 83.1h0M253.4 66.5h0M236.1 39.1h0M200.6 44.8h0M248.0 37.1h0M159.9 59.9h0M244.3 58.8h0M245.7 55.7h0M231.7 91.4h0M223.9 74.1h0M182.3 31.4h0M205.4 65.0h0M206.1 57.5h0M233.6 35.9h0M261.9 53.6h0M261.5 79.9h0M197.1 57.2h0M160.1 91.2h0M257.0 88.4h0M166.6 79.8h0M198.1 76.7h0M248.1 70.1h0M218.3 76.2h0M198.9 57.9h0M200.0 86.5h0M251.9 72.7h0M225.8 92.9h0M262.3 70.7h0M225.4 54.7h0M198.5 62.8h0M195.4 56.5h0M219.6 86.0h0M187.2 76.4h0M178.1 53.7h0M159.6 89.7h0M159.5 59.1h0M255.1 58.1h0M230.9 61.0h0M199.3 48.2h0M169.8 46.5h0M245.5 72.9h0M179.3 81.9h0M201.3 51.7h0M162.1 84.7h0M200.9 68.4h0M236.7 58.9h0M198.7 72.2h0M162.7 63.4h0M233.2 53.3h0M231.3 60.6h0M175.4 60.8h0M260.3 77.1h0M205.9 64.2h0M191.9 92.6h0M263.9 32.7h0M237.6 89.6h0M187.8 64.4h0M234.3 49.9h0M213.7 50.3h0M167.3 91.8h0M186.2 84.3h0M174.4 79.6h0M206.1 53.4h0M209.4 88.0h0M160.0 60.7h0M170.2 77.1h0M222.9 31.9h0M215.1 50.7h0M215.6 42.8h0M215.0 32.0h0M223.8 68.9h0M161.1 75.9h0M222.5 55.1h0M236.9 65.5h0M181.4 68.9h0M225.1 38.5h0M225.0 49.3h0M225.4 32.9h0M203.1 66.8h0M252.2 40.0h0M167.5 86.7h0M196.7 71.7h0M164.5 45.5h0M199.9 75.5h0M189.9 84.5h0M209.6 42.6h0M254.7 79.3h0M221.6 43.6h0M169.5 85.4h0M230.3 37.9h0M201.0 71.8h0M224.2 48.0h0M177.9 54.5h0M172.4 66.3h0M175.6 60.9h0M204.4 68.1h0M178.1 84.7h0M192.4 59.4h0M235.6 51.3h0M256.3 66.4h0M213.6 76.5h0M162.9 92.8h0M218.4 85.7h0M203.7 44.9h0M188.3 69.6h0M260.7 60.2h0M217.4 72.5h0M257.7 84.4h0M232.2 88.0h0M238.8 48.8h0M229.5 46.3h0M189.4 78.6h0M163.9 32.0h0M260.3 82.6h0M203.4 82.5h0M160.1 45.4h0M249.2 64.8h0M176.7 63.3h0M256.6 92.2h0M219.3 53.2h0M233.5 71.2h0M224.9 35.2h0M173.0 47.3h0M168.7 70.8h0M260.7 86.5h0M163.8 40.7h0M201.4 81.0h0M251.2 73.7h0M257.1 58.9h0M163.0 65.0h0M181.8 86.7h0M227.3 35.4h0M228.1 87.7h0M229.4 85.0h0M227.6 76.2h0M229.6 50.6h0M161.7 45.0h0M177.4 69.7h0M240.7 73.2h0M254.6 58.9h0M167.5 53.1h0M226.0 49.0h0M262.5 82.0h0M181.3 85.7h0M192.0 85.7h0M245.9 71.4h0M230.4 91.9h0M195.0 67.9h0M203.0 76.8h0M167.0 51.4h0M190.6 78.5h0M207.8 47.4h0M171.6 58.2h0M200.9 57.1h0M233.9 87.8h0M212.3 46.0h0M198.5 41.6h0M196.8 37.9h0M205.5 77.7h0M210.2 44.4h0M187.5 69.3h0M200.9 44.6h0M159.1 75.8h0M176.1 31.8h0M224.8 32.5h0M261.9 66.7h0M215.9 34.0h0M223.3 82.5h0M220.1 40.4h0M243.5 39.0h0M170.3 66.0h0M238.9 66.4h0M252.8 89.1h0M171.4 71.6h0M261.0 81.6h0M228.7 83.2h0M240.5 47.1h0M186.3 59.5h0M164.7 80.3h0M165.8 77.7h0M259.0 92.0h0M237.0 88.8h0M179.3 70.7h0M256.0 86.1h0M234.2 43.2h0M207.3 88.9h0M171.5 63.4h0M261.2 63.4h0M211.8 77.3h0M224.9 32.3h0M207.5 69.4h0M159.3 84.1h0M170.3 80.7h0M223.1 74.0h0M182.3 65.8h0M219.8 53.7h0M202.2 87.6h0M179.4 79.2h0M237.8 43.0h0M223.4 48.2h0M163.9 47.8h0M264.8 91.4h0M188.2 75.0h0M182.8 66.4h0M161.8 36.6h0M236.8 85.7h0M202.9 53.4h0M202.1 70.8h0M172.2 51.5h0M251.8 91.0h0M174.0 59.6h0M261.1 56.1h0M234.7 38.4h0M207.0 79.7h0M225.4 84.0h0M226.7 68.4h0M264.9 46.6h0M167.4 61.4h0M244.8 59.0h0M177.4 87.9h0M237.2 69.8h0M197.4 79.5h0M215.4 91.8h0M165.7 73.2h0M237.8 33.7h0M163.0 88.5h0M227.9 91.7h0M218.8 57.1h0M235.2 64.4h0M162.4 58.6h0M173.6 59.5h0M173.8 49.9h0M253.1 84.2h0M241.8 61.8h0M241.7 70.3h0M169.7 63.8h0M253.2 56.6h0M161.8 40.6h0M198.7 71.6h0M217.4 92.7h0M237.4 86.3h0M171.8 80.9h0M191.4 91.0h0M229.8 73.0h0M172.7 92.2h0M218.0 84.6h0M173.5 38.7h0M225.1 35.5h0M184.8 59.8h0M239.7 36.3h0M237.3 56.3h0M165.3 77.6h0M201.0 47.4h0M225.1 72.1h0M249.1 70.9h0M206.0 47.7h0M186.5 51.8h0M208.1 66.1h0M166.8 68.3h0M209.7 43.2h0M179.3 59.5h0M260.0 64.2h0M198.5 56.6h0M167.4 87.3h0M254.8 65.5h0M169.8 62.6h0M228.2 77.3h0M175.0 83.0h0M255.1 63.6h0M195.5 65.2h0M238.6 92.4h0M237.7 89.6h0M238.4 33.1h0M261.0 85.0h0M168.3 76.9h0M192.6 63.7h0M185.3 62.6h0M232.4 39.9h0M194.2 33.9h0M217.5 55.9h0M261.0 79.1h0M175.0 57.7h0M166.8 57.1h0M190.7 32.9h0M225.7 51.0h0M167.0 66.8h0M225.9 53.4h0M243.7 69.1h0M244.3 61.7h0M192.1 55.8h0M257.6 70.5h0M236.5 92.1h0M201.4 58.4h0M182.3 74.3h0M200.5 63.2h0M184.0 77.2h0M168.3 35.2h0M212.0 83.5h0M254.0 37.5h0M224.0 51.4h0M222.1 75.6h0M201.1 64.5h0M193.2 66.1h0M237.8 57.2h0M243.2 55.5h0M260.3 85.1h0M205.5 71.1h0M184.9 84.7h0M225.8 64.9h0M162.6 35.0h0M184.7 31.8h0M207.3 85.4h0M222.6 47.5h0M199.0 40.0h0M238.9 45.8h0M233.0 78.6h0M246.2 72.1h0M222.5 38.8h0M256.1 76.6h0M160.6 62.6h0M258.3 63.1h0M264.7 33.5h0M189.6 55.2h0M252.0 69.9h0M263.2 73.0h0M204.7 66.3h0M170.0 92.0h0M243.5 63.1h0M251.3 35.4h0M259.3 68.6h0M259.2 84.5h0M162.2 87.7h0M249.4 36.8h0M161.6 57.3h0M201.3 55.4h0M248.9 67.1h0M170.7 85.0h0M252.9 71.5h0M198.0 40.5h0M167.2 39.3h0M170.1 40.4h0M171.5 51.2h0M227.3 49.3h0M229.0 85.2h0M245.5 65.6h0M232.3 90.2h0M169.4 77.7h0M176.8 78.0h0M259.4 81.9h0M180.2 57.6h0M165.9 76.1h0M244.7 71.7h0M170.9 91.3h0M164.0 37.2h0M165.7 75.2h0M178.1 70.2h0M163.5 83.2h0M165.5 34.4h0M261.3 89.9h0M214.5 87.1h0M223.7 36.1h0M258.5 58.9h0M206.6 68.8h0M204.1 62.0h0M243.9 73.9h0M226.5 81.6h0M182.3 81.5h0M179.9 62.6h0M173.1 81.1h0M198.9 34.3h0M184.2 76.3h0M215.8 74.3h0M218.8 83.0h0M184.4 52.4h0M188.2 89.7h0M264.2 65.3h0M196.3 53.6h0M246.6 36.5h0M235.1 43.7h0M165.5 75.3h0M195.6 79.3h0M190.9 62.7h0M190.3 85.7h0M256.8 67.5h0M247.7 64.2h0M174.8 39.0h0M257.3 63.3h0M187.3 33.8h0M162.4 51.4h0M264.6 66.0h0M202.9 62.7h0M167.9 50.4h0M233.9 83.2h0M196.5 37.6h0M166.2 48.8h0M245.3 35.5h0M202.3 38.8h0M235.6 84.5h0M259.1 76.6h0M234.8 58.3h0M205.5 56.7h0M213.4 83.8h0M200.9 31.5h0M169.1 52.4h0M207.4 40.4h0M245.9 63.6h0M261.5 70.2h0M204.1 38.4h0M199.9 89.2h0M198.3 84.1h0M252.8 58.0h0M237.0 52.4h0M240.8 61.7h0M254.0 76.2h0M159.8 70.5h0M225.9 80.8h0M222.0 38.7h0M220.8 86.1h0M250.1 40.0h0M161.4 43.3h0M174.9 54.0h0M167.5 42.7h0M216.8 54.6h0M189.8 83.1h0M213.8 83.2h0M171.6 90.8h0M175.0 68.7h0M225.2 75.5h0M166.5 69.9h0M211.5 76.8h0M201.3 72.3h0M212.9 31.9h0M260.5 62.0h0M222.4 67.8h0M262.8 70.8h0M178.9 83.1h0M217.5 83.6h0M165.1 45.9h0M185.9 74.3h0M225.1 84.8h0M161.5 59.3h0M237.7 91.8h0M259.9 90.0h0M254.6 34.1h0M228.4 52.5h0M232.4 90.8h0M194.5 80.1h0M174.4 79.1h0M213.1 48.1h0M199.1 85.9h0M252.4 36.0h0M196.0 76.6h0M196.5 48.3h0M214.5 75.1h0M228.6 41.9h0M236.4 46.6h0M207.0 82.9h0M179.4 69.2h0M260.8 91.9h0M255.4 91.2h0M163.6 60.4h0M187.7 32.6h0M213.5 55.5h0M250.0 66.4h0M195.5 84.1h0M212.2 77.7h0M193.0 63.3h0M224.0 33.8h0M261.7 87.0h0M243.6 66.4h0M237.1 33.3h0M181.7 52.0h0M246.8 64.5h0M207.1 45.3h0M174.8 81.3h0M226.1 38.8h0M162.3 38.6h0M213.7 88.9h0M263.4 53.4h0M254.8 55.8h0M181.4 84.9h0M173.2 71.6h0M200.2 70.0h0M234.1 68.4h0M231.8 79.1h0M164.2 63.3h0M190.0 60.5h0M218.7 73.2h0M252.9 61.1h0M208.2 42.8h0M175.6 93.0h0M163.1 59.2h0M227.7 68.5h0M165.3 78.4h0M234.0 92.7h0M211.3 68.5h0M181.3 91.8h0M194.2 81.1h0M243.6 63.1h0M213.1 77.2h0M183.7 51.4h0M161.1 63.2h0M235.8 53.7h0M175.5 90.7h0M166.9 89.3h0M215.4 78.1h0M208.9 80.1h0M162.0 37.5h0M159.8 35.8h0M164.2 50.0h0M159.4 40.6h0M180.5 92.2h0M240.1 55.3h0M236.5 55.2h0M254.2 62.4h0M190.4 60.5h0M242.9 64.1h0M247.5 68.0h0M229.8 35.5h0M181.8 83.7h0M186.0 70.3h0M211.0 58.5h0M177.3 92.3h0M232.9 41.6h0M223.3 74.1h0M251.6 53.7h0M178.0 66.0h0M170.7 65.4h0M232.6 55.9h0M163.3 57.0h0M257.7 91.7h0M219.4 85.6h0M195.0 72.4h0M250.8 56.9h0M200.0 66.6h0M195.0 35.7h0M199.7 88.2h0M206.3 52.9h0M235.5 39.4h0M264.0 82.2h0M189.4 83.2h0M233.7 54.7h0M194.6 33.4h0M191.9 63.1h0M171.4 59.9h0M194.2 31.7h0M248.9 55.9h0M234.6 61.8h0M176.2 52.6h0M239.6 50.3h0M185.6 75.6h0M253.6 59.6h0M199.4 77.0h0M174.9 57.2h0M175.4 83.7h0M240.2 60.5h0M236.3 90.3h0M175.2 57.5h0M202.2 52.1h0M163.9 75.3h0M206.6 84.4h0M200.0 77.3h0M262.3 88.3h0M183.1 69.3h0M230.3 35.4h0M175.2 84.1h0M197.4 51.9h0M253.2 63.1h0M172.6 62.9h0M185.9 71.6h0M200.1 75.6h0M179.2 80.9h0M168.4 42.4h0M163.6 90.4h0M250.0 63.3h0M256.4 72.4h0M218.3 85.9h0M221.9 92.8h0M186.3 67.0h0M210.3 46.1h0M233.3 59.6h0M258.6 36.3h0M200.8 34.8h0M159.4 55.9h0M232.4 68.4h0M190.4 58.5h0M197.8 74.5h0M256.8 81.7h0M237.0 47.0h0M191.5 64.8h0M252.9 77.1h0M203.3 80.4h0M192.1 32.4h0M204.9 88.2h0M179.5 62.6h0M202.5 41.7h0M226.9 49.3h0M242.6 38.9h0M206.2 85.1h0M206.2 64.8h0M210.5 43.0h0M188.9 56.2h0M224.1 82.1h0M171.7 32.1h0M169.2 66.2h0M257.8 84.5h0M178.1 84.2h0M232.5 50.9h0M161.6 51.3h0M161.7 52.6h0M181.6 64.2h0M185.0 66.2h0M169.8 86.9h0M214.4 65.8h0M232.2 77.2h0M164.1 32.7h0M220.0 52.4h0M249.6 31.7h0M224.1 48.8h0M168.5 34.2h0M223.4 48.2h0M202.9 59.2h0M199.1 64.5h0M221.2 55.8h0M243.7 60.0h0M231.4 37.0h0M171.1 79.6h0M200.0 35.1h0M190.5 79.3h0M204.7 41.2h0M236.9 59.7h0M235.5 47.5h0M231.2 79.6h0M173.0 54.9h0M195.5 33.4h0M204.3 44.6h0M184.5 76.5h0M176.8 73.0h0M164.1 87.1h0M168.7 57.4h0M175.5 88.7h0M256.0 73.5h0M229.8 71.4h0M159.3 88.1h0M198.8 81.1h0M233.2 59.9h0M215.7 47.7h0M231.1 47.0h0M163.4 37.7h0M263.0 86.6h0M181.1 65.3h0M260.6 64.6h0M243.9 71.8h0M234.2 52.9h0M161.9 84.0h0M263.7 66.9h0M168.3 61.8h0M227.9 82.6h0M251.0 56.8h0M165.2 85.9h0M191.3 63.2h0M175.0 50.9h0M264.3 32.8h0M171.0 79.3h0M230.0 68.2h0M227.3 43.1h0M161.8 89.3h0M231.8 35.8h0M173.8 61.5h0M169.4 67.6h0M225.8 70.6h0M191.4 84.9h0M234.7 65.4h0M163.6 56.2h0M204.7 41.9h0M176.2 75.6h0M195.4 79.5h0M241.1 73.2h0M185.6 53.1h0M168.4 82.6h0M218.6 31.5h0M232.7 77.8h0M260.3 34.3h0M224.9 39.3h0M189.4 53.1h0M166.0 40.1h0M242.3 60.5h0M191.7 73.2h0M210.9 46.9h0M160.7 72.5h0M257.0 69.4h0M264.7 36.0h0M262.1 82.8h0M264.9 73.6h0M226.6 33.0h0M204.2 83.9h0M164.6 40.0h0M160.2 32.9h0M250.1 67.2h0M253.1 61.1h0M167.1 73.5h0M172.2 88.8h0M249.2 61.2h0M200.3 87.0h0M221.5 43.4h0M165.2 33.0h0M225.2 82.3h0M161.8 46.8h0M201.5 32.1h0M226.1 73.1h0M254.1 72.5h0M224.5 44.7h0M209.5 42.9h0M257.3 57.1h0" stroke="#404a88" stroke-width="2" stroke-linecap="round"/>
</g>
<g opacity="0.7" filter="url(#b04)">
<path d="M169.9 77.0h0M221.6 33.4h0M182.2 62.5h0M182.4 67.7h0M220.2 74.8h0M229.1 79.0h0M196.7 72.7h0M223.6 41.9h0M176.3 54.8h0M231.6 83.3h0M197.4 92.8h0M164.0 38.2h0M243.0 57.4h0M215.1 91.2h0M262.0 78.3h0M226.7 68.9h0M198.6 41.4h0M262.7 64.2h0M172.6 60.7h0M261.2 88.6h0M205.4 63.3h0M161.2 65.5h0M159.8 75.0h0M250.6 34.7h0M165.4 76.3h0M208.0 85.3h0M206.0 84.5h0M164.4 93.0h0M261.7 88.5h0M176.6 61.3h0M175.4 49.7h0M212.3 83.9h0M165.0 62.7h0M166.3 35.6h0M201.8 89.4h0M220.4 33.8h0M192.5 77.7h0M160.0 69.7h0M173.0 52.9h0M252.2 54.2h0M223.8 92.2h0M229.8 65.6h0M171.2 38.0h0M212.6 46.9h0M163.7 51.9h0M217.5 57.7h0M170.9 89.6h0M216.8 82.8h0M197.7 88.9h0M202.1 69.6h0M176.2 80.7h0M241.9 56.8h0M187.3 79.9h0M196.1 81.9h0M205.3 92.0h0M163.7 58.3h0M225.1 72.3h0M208.3 58.6h0M213.2 80.3h0M168.9 90.0h0M230.3 45.2h0M263.3 69.1h0M207.3 86.0h0M184.9 71.8h0M253.6 84.4h0M164.3 46.8h0M247.0 65.1h0M225.4 48.3h0M192.9 64.7h0M175.0 55.0h0M254.9 67.4h0M216.1 76.7h0M256.5 91.8h0M255.1 67.9h0M260.5 33.9h0M161.2 40.8h0M240.3 41.7h0M201.0 75.4h0M221.8 82.6h0M169.8 79.0h0M243.4 66.3h0M202.1 65.6h0M190.2 56.3h0M235.5 50.8h0M208.8 58.5h0M250.3 38.4h0M201.5 36.0h0M223.3 80.1h0M191.4 69.7h0M181.4 72.1h0M184.4 65.4h0M242.5 69.9h0M204.1 64.9h0M255.3 82.3h0M236.9 68.6h0M168.7 90.7h0M220.1 78.4h0M194.3 72.7h0M239.6 33.7h0M171.9 91.3h0M234.2 50.5h0M259.4 71.3h0M179.2 68.3h0M207.3 51.2h0M199.9 72.3h0M212.2 67.8h0M160.6 40.3h0M194.9 74.1h0M251.5 33.6h0M262.7 78.2h0M206.0 74.2h0M184.9 56.8h0M251.3 69.6h0M211.8 67.3h0M254.5 73.1h0M185.5 83.5h0M264.9 84.0h0M188.1 66.3h0M185.6 77.9h0M225.6 87.0h0M193.6 57.0h0M215.3 87.7h0M170.5 45.8h0M227.8 38.6h0M259.8 84.1h0M165.4 48.4h0M259.6 82.2h0M229.3 70.9h0M164.4 51.9h0M247.0 65.5h0M222.2 48.5h0M263.7 64.7h0M170.7 84.8h0M160.6 80.1h0M164.6 77.1h0M212.4 89.6h0M207.6 90.8h0M166.8 36.4h0M207.1 68.7h0M243.1 38.4h0M166.1 82.6h0M203.8 87.8h0M170.0 62.7h0M228.6 45.2h0M196.1 65.7h0M245.8 69.2h0M228.7 35.7h0M192.0 51.4h0M252.6 41.0h0M214.9 50.4h0M200.9 68.3h0M180.7 89.6h0M240.0 49.2h0M159.8 77.4h0M172.7 64.2h0M166.6 84.5h0M205.2 59.7h0M234.2 57.1h0M201.9 90.9h0M168.3 83.4h0M205.2 56.1h0M182.5 79.4h0M196.2 90.4h0M179.9 68.5h0M250.6 70.0h0M167.1 84.6h0M208.0 65.5h0M206.7 81.3h0M263.1 36.6h0M241.1 73.2h0M242.7 71.3h0M189.1 76.0h0M194.3 67.3h0M228.5 72.2h0M245.2 72.7h0M197.4 53.7h0M240.2 43.2h0M175.4 49.6h0M232.4 69.9h0M261.4 79.7h0M212.3 57.2h0M251.7 65.6h0M234.4 63.2h0M247.1 37.0h0M212.2 45.9h0M198.7 33.1h0M248.0 71.4h0M167.4 47.2h0M222.3 32.4h0M235.2 49.3h0M166.2 63.8h0M184.6 71.9h0M226.0 81.4h0M234.9 89.5h0M190.1 34.1h0M185.9 77.8h0M189.3 84.5h0M167.4 68.5h0M216.8 51.2h0M232.1 53.1h0M188.1 91.8h0M213.4 77.6h0M223.4 79.5h0M197.4 89.9h0M198.4 78.4h0M241.1 74.8h0M253.5 83.8h0M243.1 62.7h0M263.4 80.2h0M208.5 92.0h0M214.7 78.8h0M172.3 50.9h0M172.6 82.5h0M240.4 39.3h0M176.5 51.3h0M226.3 65.3h0M225.3 69.2h0M248.3 66.1h0M227.0 50.0h0M207.1 73.8h0M205.6 61.2h0M172.9 54.2h0M250.6 57.2h0M235.4 43.1h0M211.9 50.4h0M189.3 31.9h0M246.5 69.8h0M258.5 77.9h0M244.2 63.4h0M193.8 69.2h0M160.8 51.8h0M262.9 67.4h0M222.3 47.8h0M235.5 67.3h0M174.7 73.3h0M219.7 74.6h0M161.0 50.7h0M251.5 76.7h0M223.7 43.2h0M163.5 90.2h0M186.2 60.9h0M218.6 48.1h0M224.3 67.5h0M164.4 87.2h0M231.2 39.9h0M193.0 71.2h0M228.1 45.7h0M252.5 42.2h0M251.9 32.0h0M194.7 49.6h0M246.7 63.1h0M201.5 37.3h0M209.6 89.0h0M191.0 75.9h0M186.7 53.5h0M198.0 45.0h0M231.1 68.1h0M197.3 87.9h0M165.5 65.1h0M249.6 58.6h0M208.0 81.1h0M201.0 81.7h0M233.2 64.7h0M162.4 56.6h0M198.8 73.5h0M228.3 52.8h0M264.2 55.6h0M236.2 45.1h0M195.7 48.4h0M162.4 72.1h0M230.2 85.1h0M237.5 56.2h0M216.2 77.9h0M173.9 92.6h0M184.1 85.4h0M202.8 48.3h0M178.5 64.5h0M234.0 81.0h0M218.6 91.0h0M168.8 76.0h0M164.5 54.6h0M260.4 32.3h0M265.0 60.9h0M239.7 51.1h0M198.3 56.9h0M183.4 66.5h0M178.5 86.2h0M214.5 83.1h0M259.2 72.6h0M202.7 83.3h0M166.2 40.7h0M215.4 56.7h0M170.3 37.3h0" stroke="#7a5468" stroke-width="1" stroke-linecap="round"/>
<path d="M226.8 32.9h0M218.5 75.5h0M239.4 41.2h0M168.8 37.4h0M223.0 81.1h0M215.8 91.3h0M167.4 49.5h0M183.3 33.4h0M201.5 35.5h0M181.5 62.2h0M174.1 40.0h0M238.2 57.8h0M199.8 68.1h0M231.1 38.5h0M240.5 52.4h0M205.1 59.3h0M170.9 53.8h0M187.1 85.1h0M234.6 56.0h0M183.3 87.2h0M166.5 46.1h0M258.2 66.6h0M184.8 60.5h0M204.7 57.5h0M206.6 57.4h0M176.5 31.5h0M187.1 79.7h0M189.2 74.3h0M238.3 34.9h0M203.4 67.4h0M234.9 46.1h0M172.9 71.2h0M166.8 44.5h0M205.4 64.9h0M187.9 68.7h0M180.6 70.5h0M168.8 57.5h0M226.5 47.5h0M252.4 32.9h0M199.5 33.8h0M182.6 81.7h0M182.6 72.1h0M193.8 84.6h0M196.2 62.8h0M170.5 58.2h0M199.8 66.9h0M197.6 35.7h0M235.3 49.9h0M229.7 51.5h0M217.8 43.2h0M230.8 87.0h0M202.0 82.8h0M189.4 57.9h0M228.8 48.9h0M235.1 55.1h0M241.5 44.9h0M207.4 80.8h0M259.7 86.3h0M237.8 60.6h0M188.4 79.3h0M234.6 45.8h0M233.9 35.4h0M165.6 82.7h0M199.3 31.8h0M190.7 55.4h0M210.8 48.2h0M162.1 52.1h0M167.9 57.8h0M194.8 85.6h0M161.1 64.6h0M259.5 60.0h0M241.4 41.5h0M170.5 33.0h0M220.0 87.3h0M198.3 62.6h0M160.3 57.3h0M170.2 90.6h0M234.0 58.2h0M224.3 88.0h0M208.3 82.3h0M206.8 77.6h0M196.6 47.3h0M252.3 74.6h0M232.2 71.2h0M191.5 67.2h0M217.7 52.6h0M179.3 76.9h0M235.8 91.6h0M262.9 82.7h0M160.5 64.3h0M163.8 34.8h0M232.9 39.2h0M169.9 32.2h0M175.1 81.4h0M168.0 46.7h0M241.2 54.8h0M190.5 67.7h0M159.3 59.2h0M233.9 74.7h0M166.5 45.8h0M165.3 80.2h0M205.6 60.3h0M233.2 89.5h0M205.4 68.2h0M265.0 72.8h0M221.0 70.5h0M261.7 60.4h0M194.0 74.1h0M192.3 51.3h0M159.1 85.0h0M202.8 43.0h0M189.5 85.7h0M264.2 87.6h0M211.8 75.5h0M203.0 61.1h0M184.8 65.4h0M242.7 57.0h0M190.6 67.6h0M250.7 58.9h0M195.6 65.4h0M199.6 84.1h0M163.6 77.3h0M251.7 58.5h0M166.9 79.5h0M250.1 54.8h0M225.4 86.1h0M183.9 73.6h0M264.7 77.4h0M163.9 80.4h0M207.9 47.0h0M229.7 86.8h0M166.8 89.6h0M184.1 66.6h0M264.2 49.6h0M255.5 77.3h0M241.2 45.6h0M191.7 58.6h0M236.6 37.0h0M173.0 64.6h0M186.2 82.2h0M238.9 45.3h0M261.5 81.0h0M168.6 55.7h0M230.3 72.8h0M224.7 89.5h0M165.7 82.1h0M253.0 39.8h0M198.3 89.9h0M221.3 76.2h0M228.4 82.8h0M232.2 44.8h0M263.0 54.0h0M221.4 32.4h0M238.0 60.7h0M236.1 87.4h0M264.9 83.6h0M231.7 61.6h0M166.0 48.3h0M199.4 68.2h0M204.6 86.1h0M203.1 37.3h0M260.1 73.7h0M204.8 77.3h0M245.0 65.7h0M261.7 68.4h0M239.8 66.8h0M223.6 71.9h0M162.1 48.2h0M168.7 64.1h0M203.5 52.4h0M230.4 48.2h0M210.5 58.6h0M181.9 63.0h0M204.6 48.8h0M212.0 82.7h0M250.4 66.9h0M243.9 69.5h0M201.0 50.5h0M213.1 87.2h0M177.8 79.0h0M208.2 66.1h0M231.2 85.7h0M205.6 60.3h0M243.4 67.8h0M212.8 50.5h0M163.0 54.1h0M170.0 86.8h0M163.1 75.0h0M214.6 69.0h0M198.5 48.8h0M193.9 65.8h0M222.1 89.2h0M218.2 71.0h0M237.3 63.8h0M251.9 69.5h0M197.6 75.7h0M223.7 77.7h0M198.0 89.7h0M207.9 48.8h0M173.7 46.8h0M189.2 78.4h0M257.6 57.0h0M173.6 49.1h0M232.8 39.9h0M217.2 76.2h0M170.8 49.1h0M171.9 46.1h0M165.7 82.9h0M224.2 46.2h0M178.9 72.6h0M200.4 60.4h0M160.7 80.0h0M194.2 34.1h0M241.6 60.0h0M252.9 50.8h0M213.6 92.3h0M172.2 54.1h0M237.8 86.5h0M232.4 54.0h0M193.8 49.6h0M236.0 87.6h0M167.0 70.7h0M172.4 45.9h0M223.1 73.2h0M215.1 55.9h0M237.0 62.1h0M264.6 49.0h0M166.8 42.0h0M264.7 81.3h0M229.8 75.1h0M242.8 33.0h0M223.9 36.7h0M201.2 75.6h0M206.7 73.3h0M247.1 63.3h0M195.7 89.4h0M228.8 75.8h0M167.6 89.8h0M228.0 78.6h0M224.5 33.3h0M244.3 73.6h0M263.7 52.7h0M169.3 49.3h0M168.5 55.6h0M196.4 34.5h0M222.3 83.3h0M204.7 85.8h0M240.0 53.9h0M164.4 66.0h0M212.5 78.5h0M172.6 37.4h0M163.3 33.8h0M200.7 69.4h0M214.6 75.8h0M202.8 44.0h0M233.8 63.4h0M264.8 60.9h0M196.6 79.0h0M258.8 91.9h0M233.7 73.9h0M192.6 52.9h0M189.5 66.7h0M254.0 55.7h0M260.2 81.0h0M226.6 34.6h0M202.1 89.0h0M209.6 43.7h0M264.7 55.9h0M178.7 77.5h0M207.2 70.9h0M253.3 39.7h0M187.9 81.2h0M176.2 59.7h0M177.6 84.1h0M165.6 38.7h0M175.9 73.7h0M232.2 70.7h0M209.7 59.4h0M203.1 65.2h0M219.7 40.6h0M235.0 61.5h0M244.7 59.3h0M220.3 34.2h0M258.1 35.7h0M264.2 55.0h0M239.2 91.7h0M230.4 64.9h0M192.8 68.2h0M211.5 91.3h0M203.1 40.6h0M200.2 47.1h0M227.6 88.2h0M232.7 74.8h0M256.0 65.4h0M199.4 64.3h0M191.7 53.6h0M208.4 80.9h0M237.6 32.4h0M231.6 47.3h0M261.4 70.9h0M207.8 76.5h0M176.9 75.8h0M212.6 54.4h0M215.1 48.3h0M160.8 81.5h0M184.5 69.6h0M201.1 54.4h0" stroke="#7a5468" stroke-width="1.8" stroke-linecap="round"/>
</g>
<g opacity="0.9" filter="url(#b04)">
<path d="M178.3 35.3h0M178.8 35.2h0M251.9 47.9h0M246.8 39.2h0M246.2 55.4h0M207.6 35.2h0M248.8 86.1h0M186.7 39.6h0M182.2 37.8h0M175.4 33.4h0M236.5 33.2h0M241.8 84.3h0M185.5 50.7h0M194.6 40.5h0M190.4 41.3h0M247.5 46.1h0M244.0 80.7h0M184.8 47.3h0M181.4 32.9h0M250.0 50.8h0M246.8 83.0h0M172.0 36.5h0M193.4 36.7h0M238.1 82.4h0M249.2 79.3h0M180.7 34.8h0M236.6 77.8h0M232.1 35.1h0M242.9 86.3h0M205.9 31.9h0M182.6 38.3h0M190.9 35.7h0M197.1 45.8h0M241.4 85.1h0M244.5 77.3h0M190.5 36.1h0M228.4 33.9h0M184.6 47.9h0M179.2 36.5h0M236.6 80.0h0M196.1 39.0h0M211.7 34.2h0M248.8 39.5h0M245.4 53.4h0M192.7 41.9h0M229.9 34.9h0M175.4 39.7h0M242.4 78.1h0M209.3 32.3h0M243.3 83.2h0M242.7 50.6h0M194.8 41.5h0M245.6 46.9h0M184.0 42.6h0M247.1 41.2h0M240.1 86.5h0M194.0 44.8h0M242.2 82.7h0M190.6 43.9h0M247.8 44.7h0M190.9 46.7h0M247.1 74.9h0M195.2 59.0h0M246.5 53.0h0M177.0 42.6h0M198.9 60.1h0M188.0 40.1h0M191.8 42.3h0M194.2 36.9h0M170.2 34.3h0M181.7 46.6h0M233.4 33.5h0M238.5 84.8h0M176.9 46.5h0M243.7 77.5h0M187.8 42.2h0M184.9 50.7h0M190.0 50.6h0M248.2 75.5h0M251.3 83.1h0M251.1 77.7h0M193.7 43.2h0M227.6 32.6h0M232.1 32.4h0M253.1 79.9h0M246.2 78.0h0M229.8 32.8h0M248.8 53.9h0M188.7 46.9h0M191.7 41.1h0M192.4 42.7h0M252.5 81.0h0M185.6 41.5h0M211.5 32.5h0M195.8 39.8h0M186.8 47.4h0M176.9 33.4h0M174.6 44.4h0M206.5 34.2h0M192.9 39.6h0M170.6 34.1h0M242.5 50.9h0M186.6 40.2h0M177.6 40.4h0M179.6 49.9h0M189.3 50.7h0M243.1 80.2h0M176.4 41.3h0M182.7 34.3h0M246.8 84.6h0M183.8 47.8h0M174.9 41.7h0M235.0 81.0h0M244.1 53.2h0M192.4 45.7h0M249.3 40.5h0M192.1 50.0h0M247.6 83.1h0M227.8 34.2h0M243.4 50.7h0M248.9 83.0h0M189.8 35.4h0M193.1 60.1h0M234.6 33.7h0M243.1 83.4h0M189.7 41.5h0M250.8 41.9h0M245.2 87.2h0M181.5 38.6h0M249.9 77.3h0M204.5 32.4h0M177.3 32.9h0M196.1 47.0h0M248.3 40.0h0M249.6 46.6h0M187.2 50.9h0M240.4 83.0h0M244.6 46.0h0M190.2 35.4h0M240.2 85.4h0M187.2 43.3h0M233.4 32.8h0M236.0 79.3h0M208.9 36.0h0M249.8 53.4h0M189.7 40.5h0M207.7 31.6h0M242.3 85.1h0M238.6 78.3h0M205.6 32.6h0M208.9 31.8h0M241.4 82.8h0M189.5 45.4h0M244.4 81.1h0M239.0 77.7h0M184.0 45.2h0M248.8 81.7h0M251.5 84.3h0M193.4 60.9h0M249.0 39.5h0M231.2 32.4h0M248.4 45.5h0M184.0 35.2h0M186.7 49.7h0M194.8 42.0h0M182.1 39.5h0M185.7 49.0h0M184.6 37.3h0M193.4 61.0h0M197.2 58.9h0M238.9 75.8h0M176.8 41.1h0M235.4 80.0h0M248.7 39.7h0M246.3 81.9h0M182.8 38.1h0M196.6 58.6h0M248.7 77.5h0M190.9 35.4h0M231.9 35.2h0M181.7 41.6h0M183.3 36.4h0M241.3 82.5h0M183.4 44.5h0M181.3 50.7h0M186.2 42.5h0M242.9 84.1h0M243.2 42.5h0M187.9 40.8h0M175.6 33.8h0M241.7 78.5h0M176.1 34.6h0M192.0 48.1h0M186.0 48.1h0M212.8 33.6h0M193.9 43.8h0M243.0 48.7h0" stroke="#b0622c" stroke-width="1.2" stroke-linecap="round"/>
<path d="M249.2 81.9h0M175.3 41.3h0M242.4 86.8h0M248.4 84.2h0M183.7 49.9h0M178.9 44.7h0M243.4 46.0h0M193.0 48.8h0M191.5 39.1h0M191.1 48.1h0M178.8 38.1h0M247.1 80.5h0M176.9 43.1h0M187.2 42.0h0M192.8 38.4h0M193.7 48.8h0M235.1 79.9h0M244.1 51.7h0M245.6 76.1h0M236.1 79.8h0M208.1 32.1h0M196.3 61.0h0M171.3 33.3h0M238.1 77.7h0M170.9 33.8h0M183.1 48.4h0M190.6 38.1h0M206.6 33.5h0M249.5 51.2h0M239.9 85.9h0M244.0 47.5h0M193.5 47.5h0M197.6 61.9h0M244.7 85.9h0M237.0 78.1h0M178.3 46.5h0M238.1 77.7h0M248.4 51.7h0M194.0 44.5h0M249.7 45.3h0M177.7 37.0h0M241.0 85.6h0M240.5 83.4h0M241.9 84.4h0M189.3 43.8h0M251.4 48.4h0M176.0 40.4h0M248.1 47.0h0M197.7 59.1h0M251.8 82.7h0M242.5 84.1h0M228.0 33.0h0M240.1 77.1h0M247.1 45.0h0M179.3 39.7h0M234.5 33.6h0M177.7 38.8h0M247.7 49.3h0M209.4 34.7h0M190.7 50.5h0M189.6 35.5h0M175.9 42.1h0M210.3 34.4h0M244.4 41.6h0M246.2 39.5h0M195.3 60.6h0M195.4 62.0h0M188.5 37.9h0M235.6 32.3h0M174.6 44.5h0M181.3 40.1h0M248.5 51.6h0M240.6 87.0h0M250.1 80.1h0M186.5 37.4h0M183.8 35.2h0M195.2 57.6h0M175.3 34.1h0M172.8 35.6h0M196.9 57.8h0M175.1 45.3h0M209.8 32.4h0M175.4 39.6h0M186.4 43.8h0M187.5 50.0h0M191.4 41.0h0M186.7 38.0h0M234.4 31.9h0M190.1 35.2h0M244.8 83.7h0M241.7 47.1h0M235.5 32.4h0M180.2 49.8h0M237.2 81.9h0M177.6 38.7h0M177.2 40.6h0M243.6 47.6h0M187.4 37.9h0M178.6 46.3h0M188.4 42.9h0M247.0 38.5h0M182.7 49.9h0M246.7 47.0h0M196.8 61.3h0M193.0 40.8h0M249.7 44.1h0M174.8 32.5h0M237.6 79.1h0M247.6 41.7h0M186.4 50.1h0M229.9 34.1h0M196.9 62.1h0M182.2 35.3h0M245.6 83.9h0M241.7 78.0h0M179.4 33.5h0M249.6 76.4h0M243.2 82.9h0M185.2 41.3h0M178.5 35.5h0M181.9 41.7h0M250.6 48.8h0M239.0 86.1h0M250.2 52.3h0M247.8 86.3h0M178.4 44.8h0M242.9 42.8h0M184.4 47.0h0M244.8 85.2h0M183.8 51.2h0M243.3 45.1h0M185.5 47.9h0M246.0 50.1h0M190.7 44.5h0M173.1 33.1h0M182.6 40.8h0M243.5 77.0h0M177.6 43.3h0M242.7 47.4h0M241.7 80.6h0M189.8 43.7h0M176.4 32.7h0M252.1 80.1h0M188.6 41.5h0M233.1 34.5h0M245.3 40.6h0M181.9 48.9h0M195.3 48.3h0M243.9 42.6h0M248.5 42.7h0M174.2 37.0h0M191.1 43.1h0M250.5 50.3h0M191.9 39.8h0M247.6 81.5h0M242.2 85.6h0M187.0 34.7h0M180.6 41.6h0M188.3 41.2h0M228.8 33.0h0M251.5 82.8h0M187.4 46.4h0M179.9 45.3h0M241.2 80.6h0M237.2 78.3h0M240.1 85.4h0M182.2 48.3h0M182.5 38.6h0M246.4 86.2h0M195.3 45.7h0M240.2 83.2h0M245.8 42.2h0M192.9 38.5h0M185.9 44.8h0M174.9 45.7h0M232.3 32.8h0M173.4 34.5h0M240.7 77.0h0M178.7 40.7h0M197.4 58.9h0M248.3 53.2h0M244.7 79.4h0M174.5 44.0h0M244.0 82.5h0M211.7 33.1h0M178.7 47.0h0M238.6 83.3h0M177.1 46.4h0M248.4 85.0h0M196.4 60.1h0M179.6 39.9h0M246.4 42.6h0M176.3 40.6h0M246.1 75.3h0M246.0 48.3h0M242.1 47.7h0M198.0 62.0h0M196.0 47.6h0M183.5 49.8h0M248.0 43.0h0M246.1 82.0h0M196.5 57.8h0M176.0 47.2h0M229.0 32.1h0M182.8 50.3h0M177.1 47.5h0M245.9 85.0h0M184.2 36.4h0M174.8 32.5h0M245.6 76.5h0M189.6 45.3h0M177.5 47.5h0M186.0 40.6h0M246.6 54.7h0M244.9 82.2h0M178.3 34.4h0M212.5 33.6h0M193.7 47.0h0M247.8 48.9h0M179.6 44.8h0M187.8 36.6h0M243.5 49.7h0M251.0 44.2h0" stroke="#b0622c" stroke-width="2" stroke-linecap="round"/>
</g>
<g opacity="0.6" filter="url(#b04)">
<path d="M192.7 41.8h0M183.3 45.3h0M184.0 37.3h0M177.5 41.4h0M231.9 31.5h0M245.3 39.8h0M188.0 36.7h0M251.2 47.5h0M176.0 41.6h0M248.5 76.4h0M178.8 48.2h0M243.7 51.4h0M246.6 80.4h0M242.4 84.7h0M175.2 41.6h0M243.4 84.9h0M194.8 43.9h0M179.7 47.7h0M244.1 51.5h0M243.1 87.3h0M210.4 35.8h0M194.4 40.8h0M247.3 49.2h0M187.9 44.5h0M232.9 35.3h0M237.5 84.0h0M251.9 48.5h0M204.9 33.7h0M189.4 45.4h0M247.8 83.9h0M244.0 46.0h0M241.7 48.3h0M250.8 84.3h0M187.6 47.4h0M189.1 38.4h0M252.1 81.2h0M250.4 51.4h0M177.6 35.2h0M180.3 36.7h0M247.9 46.2h0M180.7 36.3h0" stroke="#5a4a7a" stroke-width="1" stroke-linecap="round"/>
<path d="M189.1 38.7h0M247.8 40.5h0M251.2 81.3h0M240.2 83.7h0M239.2 83.9h0M187.3 37.0h0M241.9 78.5h0M179.4 39.4h0M185.7 49.7h0M238.7 79.9h0M183.5 49.0h0M247.1 47.6h0M209.5 34.8h0M247.3 86.1h0M246.5 43.1h0M248.5 40.1h0M249.8 42.0h0M180.6 33.7h0M193.2 38.1h0M190.1 45.2h0M245.8 84.8h0M184.5 43.5h0M192.3 42.8h0M245.9 43.6h0M244.1 42.2h0M184.7 44.3h0M186.4 35.0h0M177.7 48.0h0M209.9 34.2h0M246.2 84.0h0M174.3 41.7h0M238.5 83.3h0M242.1 75.8h0M187.4 47.5h0M242.4 85.5h0M176.6 35.9h0M208.5 35.2h0M210.3 35.2h0M191.7 45.1h0" stroke="#5a4a7a" stroke-width="1.6" stroke-linecap="round"/>
</g>
<g opacity="0.6" filter="url(#b04)">
<path d="M221.5 64.7h0M209.2 40.2h0M260.9 47.6h0M216.6 36.2h0M249.9 88.4h0M215.5 38.3h0M262.0 40.4h0M227.5 61.9h0M214.8 59.2h0M212.0 70.0h0M215.7 63.5h0M224.0 61.3h0M254.4 51.3h0M210.4 37.6h0M221.1 65.4h0M255.3 52.7h0M211.4 64.0h0M220.4 59.6h0M259.1 41.7h0M222.5 61.4h0M216.9 35.7h0M262.4 44.0h0M259.4 46.5h0M244.7 86.4h0M247.3 89.2h0M260.4 40.0h0M207.6 37.0h0M217.7 61.4h0" stroke="#6070a8" stroke-width="1" stroke-linecap="round"/>
<path d="M260.6 38.0h0M220.1 39.6h0M218.4 35.9h0M261.1 49.9h0M209.9 38.3h0M216.2 59.1h0M211.0 71.2h0M257.7 43.6h0M228.8 58.0h0M243.2 92.1h0M243.0 85.9h0M206.9 61.4h0M245.6 92.5h0M259.3 41.8h0M209.6 40.7h0M211.4 59.7h0M223.4 62.4h0M209.2 39.8h0M253.2 48.1h0M255.3 38.1h0M211.9 36.6h0M254.4 50.7h0M229.3 55.9h0M263.3 45.4h0M247.0 85.4h0M240.6 88.9h0M229.1 58.1h0M213.3 64.4h0M256.6 38.3h0M240.8 89.0h0M219.5 37.6h0M215.0 41.6h0" stroke="#6070a8" stroke-width="1.6" stroke-linecap="round"/>
</g>
</g>
<line x1="165.8" y1="36.2" x2="175.8" y2="36.2" stroke="#000" stroke-width="1.3"/>
<g clip-path="url(#cA3)">
<rect x="48.5" y="106" width="99.9" height="66.6" fill="#d8bca4"/>
<rect x="48.5" y="106" width="99.9" height="66.6" fill="#000" filter="url(#sA3o)"/>
<rect x="48.5" y="106" width="99.9" height="66.6" fill="#000" filter="url(#sA3w)"/>
<g mask="url(#mA3)">
<rect x="48.5" y="106" width="99.9" height="66.6" fill="#d0ccd2" opacity="0.55"/>
</g>
<line x1="72" y1="115" x2="88" y2="109" stroke="#a05a38" stroke-width="0.8"/>
<line x1="126" y1="169" x2="142" y2="166" stroke="#8a4a30" stroke-width="0.9"/>
</g>
<g clip-path="url(#cA4)">
<rect x="161.2" y="104.4" width="106.6" height="68.8" fill="#e6d6c8"/>
<ellipse cx="200" cy="145" rx="30" ry="18" fill="#e0c4a8" opacity="0.6" filter="url(#b3)"/>
<ellipse cx="185" cy="165" rx="24" ry="8" fill="#dcb898" opacity="0.6" filter="url(#b3)"/>
<g mask="url(#mA4)">
<rect x="161.2" y="104.4" width="106.6" height="68.8" fill="#ccd0dc" opacity="0.6"/>
</g>
<g opacity="0.7" filter="url(#b05)">
<path d="M187.2 139.0h0M202.4 123.5h0M164.7 150.9h0M245.0 168.1h0M242.7 106.4h0M211.3 166.8h0M249.1 161.2h0M173.1 166.6h0M173.7 156.9h0M265.9 161.5h0M267.5 168.5h0M221.0 163.4h0M183.9 171.7h0M193.0 164.8h0M240.4 126.7h0M161.8 113.4h0M202.9 143.0h0M168.9 137.7h0M198.3 167.0h0M239.9 168.2h0M186.9 157.4h0M239.1 158.4h0M255.3 169.0h0M226.6 146.7h0M205.7 138.0h0M251.4 136.0h0M215.2 143.3h0M231.1 145.9h0M181.8 119.8h0M171.3 105.0h0M211.8 158.1h0M196.1 153.1h0M207.8 127.2h0M229.3 126.7h0M213.2 165.7h0M229.4 169.2h0M214.5 150.4h0M247.2 165.6h0M230.3 108.5h0M242.8 168.5h0M251.2 160.4h0M250.8 172.6h0M184.9 119.7h0M196.0 111.6h0M187.6 114.3h0M267.6 162.2h0M238.6 123.2h0M175.4 130.1h0M173.8 172.1h0M165.4 108.9h0M209.5 123.2h0M228.1 112.8h0M187.1 105.9h0M217.5 163.2h0M182.2 126.2h0M194.7 126.3h0M208.8 123.1h0M260.6 142.1h0M261.5 139.2h0M192.7 130.7h0M254.0 172.0h0M196.8 123.4h0M262.8 117.6h0M199.0 120.5h0M263.6 153.5h0M185.1 144.0h0M226.8 131.1h0M185.5 156.8h0M187.6 124.6h0M230.7 124.5h0M232.0 105.2h0M240.0 154.8h0M190.0 161.8h0M228.9 173.0h0M204.9 123.7h0M204.0 124.0h0M169.2 138.9h0M254.0 112.3h0M203.1 136.7h0M250.2 106.6h0M192.7 173.1h0M213.5 132.7h0M205.2 117.6h0M186.3 156.7h0M244.1 121.2h0M199.4 114.8h0M244.8 108.0h0M223.6 145.4h0M171.8 138.8h0M187.6 166.8h0M241.7 112.5h0M178.1 143.0h0M210.4 104.5h0M249.9 152.7h0M222.6 143.3h0M227.8 163.5h0M189.5 141.6h0M245.6 109.6h0M165.6 172.2h0M250.5 151.3h0M209.4 162.3h0M264.8 152.5h0M164.6 167.0h0M223.0 173.1h0M262.4 136.7h0M236.5 125.6h0M222.5 111.8h0M224.8 132.9h0M161.8 123.9h0M182.3 169.8h0M189.9 134.2h0M193.5 152.7h0M205.4 127.3h0M192.2 169.3h0M199.7 142.7h0M259.6 113.1h0M177.4 170.3h0M240.5 155.5h0M203.4 121.9h0M208.9 121.0h0M224.6 140.6h0M258.6 131.8h0M167.3 134.3h0M210.7 136.8h0M201.8 151.7h0M190.1 140.4h0M182.7 142.0h0M196.9 117.1h0M227.1 169.1h0M223.2 121.3h0M266.0 154.0h0M224.2 172.6h0M215.8 140.0h0M168.5 154.2h0M196.4 172.6h0M248.9 108.7h0M244.6 122.8h0M183.0 137.3h0M205.2 159.8h0M228.9 169.6h0M166.6 164.3h0M194.7 117.7h0M194.2 147.6h0M250.9 134.7h0M165.2 126.8h0M173.4 139.5h0M234.8 144.0h0M188.7 113.5h0M175.7 144.2h0M239.3 155.4h0M213.8 143.2h0M238.2 128.1h0M198.9 151.8h0M222.6 143.5h0M249.5 106.2h0M213.0 120.4h0M189.9 150.3h0M209.5 127.5h0M172.1 131.4h0M170.2 168.0h0M243.9 166.6h0M199.1 160.9h0M227.5 147.1h0M195.4 119.8h0M168.1 140.6h0M198.6 115.2h0M162.8 118.7h0M239.8 157.7h0M178.1 164.4h0M224.6 144.8h0M264.6 161.3h0M231.0 110.2h0M240.6 124.3h0M196.4 171.3h0M247.3 171.3h0M201.5 156.4h0M241.8 154.2h0M237.3 122.0h0M229.4 105.9h0M194.7 151.3h0M194.0 111.1h0M171.3 107.4h0M189.0 142.2h0M202.4 121.5h0M227.9 143.5h0M178.8 116.5h0M217.9 115.0h0M245.3 147.8h0M216.7 124.2h0M264.4 163.3h0M237.1 117.9h0M234.6 158.0h0M172.7 165.5h0M264.8 128.6h0M165.0 140.7h0M187.2 121.9h0M204.6 141.0h0M214.3 150.2h0M207.2 145.7h0M224.6 145.4h0M239.7 118.2h0M243.5 105.1h0M194.4 107.7h0M207.5 155.8h0M250.6 136.4h0M179.1 158.5h0M230.9 106.9h0M240.4 158.2h0M246.0 164.3h0M161.7 162.0h0M233.2 167.9h0M232.5 131.4h0M180.3 168.4h0M230.9 146.8h0M219.7 162.8h0M168.7 125.9h0M257.5 163.4h0M230.6 131.6h0M256.2 140.3h0M255.9 151.1h0M237.5 124.1h0M237.7 163.1h0M194.4 132.8h0M229.5 124.0h0M181.2 144.6h0M181.2 161.7h0M257.2 133.4h0M259.9 151.6h0M196.5 159.0h0M167.5 155.3h0M180.1 172.8h0M171.0 159.3h0M185.1 167.6h0M198.7 115.7h0M193.2 146.4h0M170.8 163.2h0M232.5 142.6h0M266.9 106.4h0M250.9 114.5h0M266.9 130.0h0M233.3 151.5h0M263.7 162.4h0M207.7 166.3h0M200.7 121.1h0M228.5 165.9h0M253.4 107.8h0M239.2 115.7h0M205.1 127.6h0M175.3 122.7h0M198.2 163.0h0M256.7 155.0h0M232.6 162.9h0M213.7 147.6h0M174.4 116.1h0M239.9 162.9h0M161.5 131.0h0M267.0 171.0h0M265.7 134.7h0M202.9 131.8h0M166.0 169.8h0M229.5 115.8h0M206.1 105.8h0M217.4 149.7h0M225.4 147.1h0M222.8 106.8h0M261.2 165.2h0M190.9 167.0h0M216.2 163.0h0M204.5 158.5h0M172.0 154.0h0M245.0 116.9h0M247.1 106.8h0M179.2 157.7h0M247.1 153.2h0M162.0 138.4h0M234.1 116.8h0M204.4 137.9h0M188.6 160.3h0M172.8 116.8h0M239.1 104.6h0M180.2 118.9h0M224.0 162.8h0M183.0 126.9h0M164.2 156.1h0M216.8 120.6h0M162.4 129.1h0M195.7 165.4h0M250.4 156.5h0M222.5 113.6h0M258.1 110.1h0M263.9 139.5h0M190.2 138.3h0M191.3 129.0h0M195.6 146.6h0M249.0 145.7h0M188.9 119.4h0M232.5 124.0h0M210.1 161.9h0M166.1 152.8h0M168.1 114.2h0M263.1 171.6h0M198.8 161.1h0M264.0 153.4h0M184.4 148.2h0M244.6 147.9h0M263.2 166.2h0M215.4 106.2h0M253.1 141.5h0M172.3 127.3h0M182.1 125.5h0M171.2 139.2h0M210.9 135.8h0M253.8 150.6h0M229.6 143.6h0M248.0 139.8h0M255.4 112.4h0M179.8 169.9h0M161.3 147.1h0M190.4 108.1h0M253.8 156.5h0M161.3 120.3h0M220.6 114.9h0M212.2 158.0h0M179.0 148.6h0M205.2 118.5h0M212.2 144.9h0M245.2 167.6h0M171.9 120.0h0M224.9 138.4h0M226.3 124.6h0M239.7 167.6h0M182.9 131.5h0M264.3 167.2h0M261.5 151.3h0M235.8 107.9h0M232.6 160.3h0M236.3 152.5h0M256.7 156.7h0M178.5 120.3h0M242.3 164.5h0M188.7 132.4h0M212.6 168.4h0M254.9 157.2h0M179.5 145.5h0M210.2 142.4h0M206.0 115.3h0M169.1 107.1h0M257.3 146.6h0M232.3 122.8h0M200.8 106.4h0M227.1 127.9h0M161.4 124.8h0M207.6 143.3h0M183.0 160.5h0M222.5 146.5h0M221.2 169.4h0M209.6 135.0h0M208.1 117.5h0M188.5 171.1h0M209.0 157.1h0M237.5 158.7h0M216.9 149.4h0M179.3 138.0h0M245.4 152.3h0M243.3 109.2h0M228.5 166.3h0M249.6 153.6h0M224.5 141.1h0M214.5 142.2h0M187.7 133.2h0M198.0 156.9h0M257.2 135.0h0M206.9 138.4h0M169.9 135.3h0M212.3 142.5h0M174.2 128.6h0M254.0 109.0h0M227.4 105.1h0M233.2 171.7h0M219.1 149.8h0M204.9 120.3h0M237.1 151.2h0M242.7 151.6h0M207.0 154.8h0M164.2 112.0h0M171.8 152.7h0M169.2 115.7h0M162.0 112.9h0M183.7 133.6h0M214.3 165.2h0M246.4 132.4h0M255.8 145.6h0M186.7 108.8h0M212.1 158.6h0M202.5 162.4h0M199.8 128.0h0M254.1 157.7h0M231.1 123.3h0M263.1 146.9h0M219.7 142.4h0M161.5 115.4h0M217.9 117.0h0M248.2 113.9h0M170.2 118.7h0M180.4 170.7h0M247.5 107.3h0M211.5 150.4h0M171.6 115.4h0M255.0 128.4h0M235.1 172.9h0M188.2 136.8h0M264.7 156.3h0M227.9 139.0h0M220.1 150.3h0M266.0 129.4h0M250.8 167.5h0M181.7 145.7h0M197.7 115.3h0M267.7 167.2h0M181.3 152.0h0M232.1 106.2h0" stroke="#c8845c" stroke-width="1.4" stroke-linecap="round"/>
<path d="M187.4 172.8h0M259.9 131.7h0M228.2 144.7h0M252.1 106.4h0M198.2 125.0h0M179.8 172.3h0M260.5 151.4h0M258.4 171.7h0M224.0 172.5h0M217.0 160.4h0M250.7 106.3h0M217.5 164.9h0M257.8 136.7h0M195.6 125.6h0M265.9 142.3h0M188.1 158.0h0M232.5 115.2h0M214.6 170.4h0M222.9 145.2h0M163.0 157.8h0M176.1 151.6h0M204.1 163.4h0M195.0 132.0h0M217.6 106.7h0M241.7 104.6h0M266.8 157.3h0M229.0 115.0h0M220.0 107.6h0M265.5 160.8h0M185.1 159.9h0M185.8 150.5h0M264.3 118.7h0M256.7 142.9h0M163.0 117.5h0M170.1 140.6h0M171.4 163.4h0M191.9 148.0h0M196.2 144.9h0M178.9 105.7h0M264.2 168.3h0M233.7 106.2h0M242.2 155.8h0M164.0 131.9h0M238.4 120.2h0M243.9 148.9h0M179.1 152.1h0M227.9 125.6h0M227.2 124.0h0M250.3 162.4h0M205.5 163.3h0M185.6 157.1h0M220.3 165.5h0M191.2 153.8h0M202.6 153.7h0M231.0 127.5h0M179.6 118.8h0M233.0 125.5h0M233.1 128.9h0M169.5 133.4h0M193.2 162.8h0M176.2 152.1h0M242.7 126.9h0M180.2 120.7h0M211.8 134.6h0M264.8 147.4h0M250.8 167.3h0M245.9 141.1h0M264.4 120.4h0M161.9 136.1h0M163.2 142.7h0M185.5 107.8h0M265.9 172.0h0M260.5 167.2h0M252.2 154.2h0M199.2 160.9h0M169.8 137.9h0M197.3 162.5h0M228.4 126.8h0M205.7 124.4h0M182.9 165.7h0M238.1 123.8h0M167.1 123.3h0M201.0 129.2h0M170.8 157.2h0M258.8 113.3h0M227.1 105.5h0M168.7 152.7h0M181.3 164.5h0M232.1 142.0h0M209.2 119.6h0M171.7 142.0h0M215.5 168.7h0M207.3 162.8h0M207.5 118.3h0M187.9 166.9h0M220.9 119.0h0M204.8 149.3h0M237.3 171.1h0M162.6 109.6h0M166.8 132.6h0M197.4 153.7h0M218.2 119.1h0M196.6 159.5h0M178.3 153.3h0M217.9 166.6h0M186.5 151.4h0M192.4 115.1h0M188.2 130.6h0M243.2 104.8h0M181.8 159.5h0M243.9 128.1h0M175.2 121.0h0M236.2 145.7h0M166.4 108.6h0M255.7 136.9h0M232.4 159.8h0M261.5 139.1h0M201.6 134.2h0M267.1 116.7h0M171.0 106.5h0M214.9 124.9h0M184.4 142.6h0M191.2 140.7h0M236.6 126.8h0M163.1 166.5h0M211.6 107.4h0M181.1 117.0h0M161.3 117.2h0M257.1 169.3h0M192.5 111.5h0M164.8 133.8h0M247.7 108.7h0M190.1 105.0h0M251.6 145.8h0M247.8 136.5h0M210.2 134.0h0M169.9 106.6h0M189.8 164.8h0M222.0 164.0h0M162.8 172.6h0M241.5 164.0h0M219.1 133.3h0M243.4 156.2h0M200.2 122.4h0M197.4 166.3h0M207.9 133.5h0M164.1 134.2h0M185.2 130.3h0M246.4 162.5h0M267.6 109.9h0M211.4 104.7h0M260.7 161.1h0M265.1 128.6h0M251.2 139.7h0M258.7 144.0h0M171.4 157.5h0M203.4 128.1h0M194.2 111.8h0M245.8 151.3h0M201.8 139.2h0M203.5 162.2h0M209.1 141.1h0M214.0 171.5h0M165.0 162.7h0M191.4 118.6h0M186.7 163.8h0M208.5 141.4h0M207.0 105.4h0M257.8 142.9h0M235.4 147.1h0M229.2 129.7h0M244.2 117.6h0M230.4 109.2h0M250.3 159.6h0M221.4 121.4h0M191.3 128.7h0M233.2 122.0h0M169.9 109.3h0M163.8 146.5h0M224.0 171.3h0M186.8 132.4h0M213.6 148.4h0M169.8 160.3h0M220.3 116.0h0M214.7 109.0h0M206.1 140.1h0M242.1 106.4h0M179.6 145.9h0M248.3 116.3h0M257.1 171.3h0M247.0 161.6h0M262.9 107.9h0M238.8 124.2h0M193.8 158.6h0M211.4 158.7h0M161.6 161.6h0M263.6 124.7h0M191.7 111.8h0M207.2 152.5h0M177.6 169.6h0M254.9 113.8h0M198.1 149.6h0M176.2 123.9h0M253.3 130.1h0M181.4 124.9h0M215.0 146.9h0M178.1 132.6h0M208.7 122.0h0M262.9 154.0h0M204.5 159.4h0M252.9 165.3h0M215.7 125.0h0M171.9 107.4h0M193.9 149.7h0M220.7 115.1h0M229.0 145.2h0M261.4 170.8h0M192.6 143.6h0M227.4 138.2h0M265.0 121.2h0M206.5 153.7h0M179.9 156.5h0M252.3 143.2h0M166.2 138.4h0M246.2 125.4h0M260.4 127.0h0M193.9 124.8h0M178.0 155.2h0M219.6 168.7h0M266.2 169.6h0M179.3 154.4h0M200.8 167.2h0M266.9 132.5h0M170.1 130.1h0M232.8 160.7h0M192.7 162.0h0M194.4 125.1h0M168.8 152.7h0M240.2 149.0h0M185.2 118.8h0M203.7 171.0h0M190.4 166.2h0M231.2 129.9h0M248.1 131.9h0M237.1 157.0h0M215.5 120.2h0M168.9 164.8h0M195.9 166.9h0M194.3 142.9h0M177.9 159.9h0M171.7 141.4h0M181.5 136.9h0M188.8 153.7h0M164.0 117.2h0M227.8 121.2h0M267.3 160.2h0M232.8 137.7h0M182.2 122.4h0M206.3 118.5h0M195.2 124.5h0M174.9 137.0h0M243.8 170.0h0M167.7 119.6h0M231.3 163.2h0M174.2 143.0h0M173.0 144.2h0M245.2 171.5h0M224.9 140.5h0M188.8 141.9h0M256.4 150.6h0M192.1 128.3h0M217.7 164.4h0M234.7 107.6h0M227.0 125.9h0M238.5 131.0h0M224.2 121.6h0M192.0 147.5h0M237.6 164.1h0M264.0 113.5h0M167.1 159.6h0M237.3 165.7h0M192.0 134.1h0M206.2 122.0h0M239.4 111.6h0M172.4 114.9h0M182.7 156.5h0M243.8 109.6h0M267.7 107.7h0M202.2 105.8h0M219.0 114.7h0M222.3 149.8h0M192.7 119.7h0M238.8 117.1h0M183.1 136.4h0M188.5 144.2h0M212.8 153.0h0M182.5 161.4h0M177.6 132.2h0M232.0 130.6h0M257.1 151.1h0M163.4 145.6h0M266.5 162.7h0M242.6 163.1h0M200.0 156.3h0M236.3 157.3h0M196.9 146.4h0M209.4 144.1h0M185.6 124.0h0M219.7 118.9h0M200.9 126.2h0M238.7 163.6h0M228.3 125.4h0M231.2 149.1h0M259.7 134.0h0M260.0 164.1h0M267.1 145.3h0M182.6 173.1h0M254.5 169.3h0M248.4 145.4h0M231.5 129.8h0M261.6 131.7h0M184.1 124.4h0M228.1 146.4h0M232.3 125.5h0M262.1 126.1h0M218.3 146.4h0M192.8 157.1h0M172.1 140.8h0M253.0 139.5h0M172.7 141.5h0M208.6 172.0h0M173.8 128.6h0M193.5 139.3h0M165.2 160.1h0M232.8 116.0h0M163.9 167.7h0M181.8 151.5h0M162.2 159.7h0M258.0 140.2h0M248.6 107.6h0M245.9 121.0h0M174.0 163.2h0M256.7 131.2h0M189.0 156.7h0M209.7 140.7h0M227.3 172.0h0M258.7 108.5h0M248.1 157.6h0M250.4 112.6h0M257.4 136.3h0M246.4 155.5h0M184.2 150.4h0M224.5 109.2h0M208.7 122.4h0M240.7 150.3h0M252.2 131.3h0M233.1 126.9h0M244.7 159.0h0M193.2 169.8h0M203.9 158.0h0M211.8 136.4h0M209.1 161.6h0M202.1 159.2h0M180.4 155.9h0M246.7 163.1h0M249.6 161.4h0M213.2 135.4h0M262.5 150.9h0M234.7 112.9h0M199.2 152.6h0M262.7 148.9h0M259.6 157.7h0M165.7 113.3h0M215.0 124.6h0M255.6 159.9h0M199.4 145.7h0M253.4 147.5h0M209.6 143.2h0M226.2 166.6h0M242.0 158.4h0M248.9 115.8h0M258.3 132.6h0M251.5 128.5h0M174.4 168.7h0M202.2 130.1h0M243.4 125.9h0M238.4 111.0h0M171.7 156.2h0M168.4 131.6h0M252.1 160.2h0M265.0 119.9h0M174.1 132.9h0M213.7 105.6h0M180.0 141.9h0M165.4 155.2h0M242.6 144.9h0M215.5 105.1h0M232.2 125.4h0M196.3 161.2h0M226.7 172.9h0M179.5 129.0h0M249.2 154.6h0M235.3 157.0h0M226.3 144.6h0M201.4 143.6h0M170.6 124.5h0M221.4 143.2h0M205.1 148.5h0M251.7 154.1h0M197.1 123.2h0M190.2 151.2h0M169.3 108.4h0M198.9 126.5h0M241.4 157.1h0M258.2 145.4h0M198.9 129.6h0M222.8 147.7h0M166.1 109.7h0M209.5 159.1h0M218.2 118.6h0M236.0 108.8h0M195.0 126.2h0M194.6 155.0h0M263.6 130.6h0M171.1 127.8h0M249.3 145.6h0M229.8 130.1h0M265.1 104.5h0M197.5 171.7h0" stroke="#c8845c" stroke-width="2" stroke-linecap="round"/>
</g>
<g opacity="0.7" filter="url(#b05)">
<path d="M180.4 110.8h0M221.2 153.6h0M238.0 137.6h0M179.5 112.9h0M170.5 147.8h0M169.3 150.1h0M165.7 147.2h0M219.6 159.0h0M170.9 151.4h0M230.1 157.1h0M180.2 115.2h0M218.6 127.0h0M178.1 115.7h0M248.8 121.1h0M231.3 153.9h0M211.8 128.4h0M248.4 118.3h0M223.0 158.4h0M231.1 155.2h0M224.4 153.7h0M215.8 155.9h0M173.3 112.3h0M250.7 117.8h0M200.9 113.4h0M182.3 109.5h0M221.9 158.8h0M254.8 120.9h0M236.3 141.4h0M225.4 129.9h0M182.7 108.8h0M241.3 143.9h0M177.4 113.6h0M180.7 108.8h0" stroke="#7a7ab8" stroke-width="1.2" stroke-linecap="round"/>
<path d="M238.6 137.7h0M247.8 120.8h0M206.9 110.0h0M205.6 109.9h0M203.5 113.2h0M212.0 129.3h0M220.2 154.0h0M248.6 118.5h0M228.9 154.6h0M171.1 147.5h0M176.8 109.9h0M168.2 145.5h0M220.7 154.8h0M248.9 125.1h0M167.6 149.4h0M255.5 122.0h0M262.8 123.1h0M171.6 145.2h0M230.8 155.9h0M253.7 122.4h0M220.0 128.7h0M247.6 119.1h0M214.3 129.6h0M260.0 119.9h0M259.6 126.9h0M261.3 124.9h0M253.5 127.7h0" stroke="#7a7ab8" stroke-width="1.8" stroke-linecap="round"/>
</g>
<g opacity="0.55" filter="url(#b05)">
<path d="M239.4 154.5h0M240.8 122.4h0M215.7 132.1h0M202.5 172.5h0M185.8 128.1h0M256.4 109.9h0M186.2 130.8h0M171.5 149.3h0M202.8 109.7h0M224.9 168.2h0M213.1 120.2h0M221.0 113.6h0M256.3 169.7h0M262.6 136.2h0M231.7 148.4h0M225.5 129.7h0M189.2 142.6h0M214.8 172.4h0M235.6 144.9h0M266.0 140.3h0M232.2 137.1h0M232.2 104.7h0M204.8 167.6h0M215.0 141.7h0M204.5 124.4h0M241.7 130.6h0M212.0 146.8h0M209.5 160.6h0M209.4 133.8h0M225.1 137.1h0M195.7 127.7h0M168.6 110.9h0M172.6 163.5h0M200.1 125.8h0M242.1 149.6h0M246.2 168.0h0M193.1 139.6h0M163.3 122.0h0M203.0 150.0h0M266.6 145.8h0M215.9 148.1h0M199.5 171.8h0M207.4 129.1h0M172.1 129.8h0M258.3 140.8h0M164.5 159.8h0M227.8 127.8h0M260.8 116.6h0M252.9 143.0h0M251.6 165.1h0M212.1 111.7h0M208.9 172.7h0M172.5 139.0h0M222.1 168.0h0M254.3 151.6h0M229.9 171.1h0M172.8 120.4h0M178.6 117.2h0M235.1 160.6h0M244.7 150.3h0M225.0 146.7h0M265.4 163.7h0M178.6 143.3h0M197.1 142.1h0M181.3 118.0h0M215.1 132.2h0M198.5 130.6h0M209.9 106.9h0M185.5 154.0h0M264.2 112.5h0" stroke="#8a86b8" stroke-width="1" stroke-linecap="round"/>
<path d="M227.0 165.6h0M214.7 137.6h0M258.3 171.7h0M179.2 129.2h0M182.3 113.1h0M215.3 148.9h0M196.6 114.9h0M242.1 135.2h0M248.7 108.0h0M259.0 142.1h0M248.7 117.2h0M229.5 149.6h0M184.8 137.4h0M179.7 118.2h0M259.6 131.9h0M181.6 166.9h0M191.0 134.6h0M187.4 143.2h0M199.5 117.5h0M221.9 136.9h0M224.7 115.3h0M170.7 148.6h0M207.2 162.9h0M197.1 109.9h0M200.0 111.6h0M235.6 160.2h0M192.6 118.8h0M200.7 152.0h0M184.8 116.3h0M254.0 132.1h0M231.8 163.6h0M227.6 116.3h0M230.4 111.5h0M203.3 134.9h0M226.6 168.1h0M265.4 153.0h0M260.1 115.8h0M214.0 116.5h0M256.3 107.9h0M165.3 162.7h0M265.5 111.8h0M166.1 168.0h0M174.2 126.8h0M247.4 146.6h0M258.4 104.5h0M226.3 167.3h0M188.5 115.4h0M242.6 138.2h0M166.9 113.9h0M233.2 132.4h0M219.6 161.3h0M240.5 128.1h0M223.0 116.8h0M260.7 125.5h0M231.4 125.9h0M197.8 143.9h0M195.8 147.1h0M207.5 130.7h0M196.1 106.0h0M216.3 145.5h0M258.6 146.1h0M266.7 112.5h0M259.8 110.9h0M206.0 111.6h0M162.6 165.5h0M182.0 148.4h0M261.5 136.8h0M221.7 162.7h0M235.0 142.8h0M199.0 172.9h0" stroke="#8a86b8" stroke-width="1.6" stroke-linecap="round"/>
</g>
<g opacity="0.8" filter="url(#b05)">
<path d="M254.6 172.7h0M260.4 154.9h0M266.1 162.8h0M161.2 166.3h0M256.3 166.5h0M201.6 171.8h0M235.9 159.3h0M266.0 154.0h0M256.5 157.2h0M190.4 167.7h0M200.2 160.2h0M247.1 169.1h0M206.0 155.0h0M235.7 150.7h0M266.9 162.9h0M188.9 150.2h0M161.7 163.8h0M208.6 168.7h0M208.8 171.2h0M202.7 162.6h0M193.2 157.3h0M256.3 158.8h0M179.4 166.9h0M202.6 164.8h0M250.7 148.9h0M233.9 167.2h0M242.8 165.6h0M212.4 170.9h0M261.8 161.3h0M202.9 154.9h0M265.4 150.7h0M227.3 160.9h0M260.3 162.1h0M250.8 162.8h0M169.0 165.3h0M184.4 169.0h0M184.6 166.5h0M250.7 162.0h0M252.0 155.8h0M239.2 148.1h0M262.6 169.0h0M198.8 149.0h0M210.9 165.1h0M200.3 152.7h0M267.2 162.5h0M192.4 163.2h0M207.4 156.2h0M238.6 154.1h0M166.1 154.1h0M232.1 165.8h0M178.9 151.6h0M229.5 166.3h0M191.3 161.6h0M198.6 171.5h0M247.8 149.7h0M266.5 167.1h0M197.2 169.3h0M259.2 169.9h0M164.4 168.5h0M257.0 168.0h0M238.3 154.3h0M182.7 172.6h0M230.7 164.4h0M262.3 170.5h0M192.1 156.8h0M228.9 162.0h0M265.8 170.9h0M211.5 172.5h0M190.7 163.6h0M244.9 150.6h0M167.6 169.4h0M259.3 170.3h0M260.7 164.6h0M192.3 164.1h0M172.1 154.7h0M228.4 172.0h0M267.3 168.7h0M199.5 152.8h0M243.8 160.0h0M162.7 148.3h0M193.0 152.8h0M191.8 169.2h0M206.3 157.9h0M256.0 157.3h0M163.0 163.0h0M243.2 150.5h0M261.8 162.1h0M173.1 152.5h0M194.0 153.6h0M171.0 163.5h0M246.7 159.8h0M208.4 163.4h0M243.7 156.9h0M198.8 159.1h0M216.3 149.7h0M171.9 163.0h0M169.4 165.8h0M255.5 172.6h0M213.3 164.5h0M161.5 157.1h0M174.4 156.7h0M227.7 165.6h0M195.2 149.2h0M260.3 157.7h0M237.9 154.7h0M162.2 149.2h0M183.6 148.5h0M246.4 170.7h0M245.6 160.8h0M243.9 165.9h0M266.9 166.8h0M179.5 151.6h0M254.0 170.9h0M246.6 153.2h0M200.7 153.9h0M225.8 149.7h0M260.6 159.5h0M172.0 161.4h0M264.8 167.9h0M181.1 158.3h0M242.1 151.7h0" stroke="#c0703e" stroke-width="1.4" stroke-linecap="round"/>
<path d="M258.6 151.5h0M212.7 172.2h0M184.5 156.3h0M238.4 149.4h0M224.9 161.7h0M171.5 164.3h0M201.3 148.3h0M230.2 162.0h0M264.2 158.6h0M251.7 159.9h0M192.6 156.9h0M210.6 152.0h0M224.2 160.7h0M260.5 163.2h0M203.9 158.1h0M176.2 162.1h0M243.6 162.0h0M180.2 165.6h0M174.9 153.1h0M195.0 153.4h0M193.2 159.6h0M165.0 160.7h0M255.3 153.4h0M202.6 158.3h0M267.7 172.8h0M173.3 164.1h0M209.7 163.2h0M213.0 149.5h0M264.4 159.4h0M180.0 170.6h0M207.6 153.2h0M254.9 152.7h0M251.1 158.8h0M199.0 155.7h0M225.2 170.6h0M201.7 156.0h0M258.7 166.1h0M240.3 162.5h0M248.4 155.7h0M213.2 168.9h0M235.7 151.9h0M169.2 154.1h0M225.2 172.0h0M170.7 154.8h0M180.4 152.0h0M203.1 154.1h0M211.0 158.7h0M178.1 160.0h0M241.5 155.0h0M228.3 148.3h0M222.9 168.5h0M186.1 157.4h0M222.2 149.0h0M260.7 167.5h0M175.9 159.1h0M250.6 148.2h0M252.1 151.7h0M265.9 169.8h0M262.3 164.6h0M248.0 170.2h0M237.2 168.9h0M252.6 158.0h0M198.8 152.9h0M236.1 161.0h0M204.6 164.6h0M197.1 172.6h0M241.6 164.6h0M237.1 166.2h0M239.2 169.2h0M164.1 160.9h0M261.6 170.0h0M234.8 168.2h0M260.7 155.5h0M181.6 153.4h0M255.3 157.1h0M177.4 149.9h0M222.8 160.3h0M235.6 169.8h0M245.1 168.2h0M177.3 165.7h0M241.9 151.6h0M204.5 169.2h0M198.5 168.3h0M243.2 160.7h0M211.9 169.2h0M257.2 169.9h0M178.0 163.5h0M261.1 154.0h0M218.8 172.1h0M250.8 156.9h0M203.8 150.8h0M196.0 164.2h0M190.2 166.5h0M171.6 166.4h0M218.2 170.7h0M179.7 163.0h0M162.5 158.5h0M246.6 155.5h0M191.0 165.0h0M263.6 167.5h0M169.5 167.8h0M192.1 159.9h0M265.5 161.8h0M253.1 168.2h0M191.3 156.0h0M233.0 163.1h0M261.2 172.2h0M214.6 150.5h0M164.2 158.4h0M248.8 153.0h0M163.6 157.2h0M191.2 149.5h0M229.3 159.6h0M227.3 166.9h0M180.7 161.6h0M169.8 165.8h0M199.8 162.7h0M239.6 169.4h0M170.5 162.9h0M199.0 169.1h0M200.7 159.4h0M243.8 152.8h0M193.1 162.4h0M256.3 171.7h0M167.1 152.0h0M214.4 163.8h0M197.5 164.7h0M200.3 173.1h0M174.4 170.4h0M260.8 167.0h0M255.2 166.3h0M244.9 171.3h0M182.4 168.5h0M261.2 170.1h0M174.6 155.2h0M161.6 161.7h0M176.4 173.1h0M184.1 157.6h0M189.3 168.9h0" stroke="#c0703e" stroke-width="2" stroke-linecap="round"/>
</g>
<g opacity="0.8" filter="url(#b05)">
<path d="M247.1 169.8h0M267.8 125.2h0M252.3 169.9h0M259.4 107.2h0M264.1 108.0h0M248.9 127.1h0M252.4 147.0h0M255.7 162.3h0M252.0 115.5h0M263.8 144.7h0M254.1 149.6h0M257.5 113.0h0M253.9 133.5h0M259.5 108.3h0M257.8 148.5h0M251.1 138.1h0M245.2 172.2h0M264.9 118.5h0M263.4 137.1h0M246.7 162.1h0M254.9 106.1h0M261.9 152.7h0M264.6 173.1h0M254.6 155.0h0M256.5 158.4h0M247.8 172.4h0M246.6 167.3h0M254.5 112.2h0M246.5 146.1h0M261.6 163.4h0M266.1 111.2h0M264.5 120.3h0M263.9 168.7h0M256.8 150.2h0M246.4 118.5h0M262.0 131.5h0M251.3 158.5h0M252.2 109.6h0M257.0 154.1h0M262.3 128.6h0M265.1 157.0h0M255.3 137.4h0M259.2 112.9h0M266.9 146.7h0M248.9 152.2h0M262.1 172.0h0M259.3 142.2h0M263.1 128.2h0M252.0 115.3h0M257.4 152.0h0M248.1 172.2h0M250.2 148.0h0" stroke="#c0703e" stroke-width="1.4" stroke-linecap="round"/>
<path d="M253.0 154.1h0M257.3 131.1h0M256.7 105.4h0M247.0 148.7h0M249.4 157.0h0M247.4 168.6h0M251.9 113.4h0M250.8 160.5h0M246.9 132.9h0M256.3 109.1h0M263.2 154.4h0M264.0 126.6h0M253.1 150.3h0M252.5 140.9h0M267.6 128.2h0M255.9 148.6h0M266.7 133.5h0M262.9 106.2h0M251.2 133.7h0M257.5 172.8h0M259.9 160.8h0M256.5 110.0h0M254.8 160.7h0M250.9 113.7h0M257.3 150.7h0M257.4 108.7h0M260.5 107.2h0M256.0 153.3h0M250.8 109.9h0M246.4 142.1h0M255.8 171.9h0M249.9 167.3h0M267.3 137.6h0M255.9 157.3h0M261.5 145.0h0M257.9 146.6h0M260.0 135.8h0M255.9 111.3h0M248.1 104.9h0M256.9 172.7h0M247.5 159.3h0M259.9 104.6h0M257.6 129.6h0M256.6 142.4h0M245.2 153.5h0M267.3 168.5h0M251.5 170.3h0M247.2 140.2h0M252.0 155.1h0M259.3 130.9h0M251.2 157.2h0M245.9 132.3h0M250.8 111.0h0M260.2 149.6h0M263.9 144.5h0M252.4 145.1h0M263.2 136.1h0M263.6 146.1h0M246.7 140.4h0M255.0 135.8h0M258.2 146.0h0M252.7 143.2h0M263.1 170.0h0M259.6 132.7h0M265.3 123.5h0M253.5 146.2h0M263.7 116.6h0M246.9 130.4h0" stroke="#c0703e" stroke-width="2" stroke-linecap="round"/>
</g>
</g>
<line x1="169" y1="109.2" x2="180" y2="109.2" stroke="#000" stroke-width="1.3"/>
<rect x="66.9" y="45.8" width="50.4" height="29.6" fill="none" stroke="#111" stroke-width="1.3"/>
<rect x="69" y="134.8" width="36.2" height="28.2" fill="none" stroke="#111" stroke-width="1.1"/>
<line x1="117.3" y1="45.8" x2="150.71" y2="34.72" stroke="#000" stroke-width="1.2"/>
<polygon points="158.3,32.2 151.75,37.85 149.67,31.59" fill="#000"/>
<line x1="117.3" y1="75.4" x2="150.42" y2="89.3" stroke="#000" stroke-width="1.2"/>
<polygon points="157.8,92.4 149.15,92.35 151.7,86.26" fill="#000"/>
<line x1="105.2" y1="134.8" x2="152.85" y2="110.89" stroke="#000" stroke-width="1.2"/>
<polygon points="160,107.3 154.33,113.84 151.37,107.94" fill="#000"/>
<line x1="105.2" y1="163" x2="154.09" y2="170.23" stroke="#000" stroke-width="1.2"/>
<polygon points="162,171.4 153.6,173.49 154.57,166.97" fill="#000"/>
<text x="270.2" y="17.79" font-size="12" font-weight="bold">B</text>
<line x1="295.3" y1="46.3" x2="295.3" y2="137.8" stroke="#000" stroke-width="1.2"/>
<line x1="294.8" y1="137.3" x2="388" y2="137.3" stroke="#000" stroke-width="1.1"/>
<line x1="290.2" y1="137.3" x2="295.3" y2="137.3" stroke="#000" stroke-width="1.1"/>
<text x="288" y="139.52" font-size="6.2" font-weight="bold" text-anchor="end" fill="#000" textLength="4.9" lengthAdjust="spacingAndGlyphs" stroke="#000" stroke-width="0.18">0</text>
<line x1="290.2" y1="107.15" x2="295.3" y2="107.15" stroke="#000" stroke-width="1.1"/>
<text x="288" y="109.37" font-size="6.2" font-weight="bold" text-anchor="end" fill="#000" textLength="4.9" lengthAdjust="spacingAndGlyphs" stroke="#000" stroke-width="0.18">5</text>
<line x1="290.2" y1="77" x2="295.3" y2="77" stroke="#000" stroke-width="1.1"/>
<text x="288" y="79.22" font-size="6.2" font-weight="bold" text-anchor="end" fill="#000" textLength="9.8" lengthAdjust="spacingAndGlyphs" stroke="#000" stroke-width="0.18">10</text>
<line x1="290.2" y1="46.85" x2="295.3" y2="46.85" stroke="#000" stroke-width="1.1"/>
<text x="288" y="49.07" font-size="6.2" font-weight="bold" text-anchor="end" fill="#000" textLength="9.8" lengthAdjust="spacingAndGlyphs" stroke="#000" stroke-width="0.18">15</text>
<line x1="321.3" y1="137.2" x2="321.3" y2="140.3" stroke="#000" stroke-width="1"/>
<line x1="371.8" y1="137.2" x2="371.8" y2="140.3" stroke="#000" stroke-width="1"/>
<line x1="309.4" y1="83.03" x2="333.6" y2="83.03" stroke="#000" stroke-width="1.5"/>
<line x1="309.4" y1="89.06" x2="333.6" y2="89.06" stroke="#000" stroke-width="1.5"/>
<line x1="309.4" y1="101.12" x2="333.6" y2="101.12" stroke="#000" stroke-width="1.5"/>
<line x1="309.4" y1="113.18" x2="333.6" y2="113.18" stroke="#000" stroke-width="1.5"/>
<line x1="309.4" y1="125.24" x2="333.6" y2="125.24" stroke="#000" stroke-width="1.5"/>
<line x1="309.4" y1="119.21" x2="333.6" y2="119.21" stroke="#000" stroke-width="1.5" stroke-dasharray="2.2,1.2"/>
<line x1="315.5" y1="131.27" x2="327.5" y2="131.27" stroke="#000" stroke-width="1.5" stroke-dasharray="2.2,1.4"/>
<line x1="316.3" y1="64.94" x2="320" y2="64.94" stroke="#000" stroke-width="1.5"/>
<line x1="322.5" y1="64.94" x2="326.2" y2="64.94" stroke="#000" stroke-width="1.5"/>
<line x1="321.3" y1="86.05" x2="321.3" y2="116.2" stroke="#000" stroke-width="1"/>
<line x1="314.6" y1="86.05" x2="327.6" y2="86.05" stroke="#555" stroke-width="1"/>
<line x1="314.6" y1="116.2" x2="327.6" y2="116.2" stroke="#555" stroke-width="1"/>
<line x1="359.6" y1="101.12" x2="383.2" y2="101.12" stroke="#000" stroke-width="1.5"/>
<line x1="359.6" y1="113.18" x2="383.2" y2="113.18" stroke="#000" stroke-width="1.5"/>
<line x1="359.6" y1="125.24" x2="383.2" y2="125.24" stroke="#000" stroke-width="1.5"/>
<line x1="359.6" y1="119.21" x2="383.2" y2="119.21" stroke="#000" stroke-width="1.5" stroke-dasharray="2.2,1.2"/>
<line x1="359.6" y1="131.27" x2="383.2" y2="131.27" stroke="#000" stroke-width="1.5" stroke-dasharray="2.2,1.2"/>
<line x1="359.6" y1="137" x2="383.2" y2="137" stroke="#000" stroke-width="1.5" stroke-dasharray="2.2,1.2"/>
<line x1="368.6" y1="83.03" x2="372" y2="83.03" stroke="#000" stroke-width="1.5"/>
<line x1="373.5" y1="83.03" x2="376.8" y2="83.03" stroke="#000" stroke-width="1.5"/>
<line x1="370.4" y1="89.06" x2="373.5" y2="89.06" stroke="#000" stroke-width="1.5"/>
<line x1="371.8" y1="104.14" x2="371.8" y2="135.49" stroke="#000" stroke-width="1"/>
<line x1="365.5" y1="104.14" x2="378" y2="104.14" stroke="#333" stroke-width="1"/>
<path d="M316.5 54.2 V49.7 H363 V54.2" fill="none" stroke="#000" stroke-width="1"/>
<text x="340" y="43.5" font-size="11" font-weight="bold" text-anchor="middle" fill="#000" dy="4" stroke="#000" stroke-width="0.18">*</text>
<text x="320.87" y="147.17" font-size="6.2" font-weight="bold" text-anchor="end" fill="#000" transform="rotate(-45 320.87 147.17)" textLength="39.5" lengthAdjust="spacingAndGlyphs" stroke="#000" stroke-width="0.18">No recurrence</text>
<text x="370.77" y="148.17" font-size="6.2" font-weight="bold" text-anchor="end" fill="#000" transform="rotate(-45 370.77 148.17)" textLength="32.5" lengthAdjust="spacingAndGlyphs" stroke="#000" stroke-width="0.18">Recurrence</text>
<text x="277.22" y="89.3" font-size="6.2" font-weight="bold" text-anchor="middle" fill="#000" transform="rotate(-90 277.22 89.3)" textLength="43.3" lengthAdjust="spacingAndGlyphs" stroke="#000" stroke-width="0.18">DDX5 IHC Score</text>
<text x="391.7" y="17.89" font-size="12" font-weight="bold">C</text>
<text x="421.7" y="25.45" font-size="8.8" font-weight="bold" text-anchor="start" fill="#000" textLength="107.3" lengthAdjust="spacingAndGlyphs" stroke="#000" stroke-width="0.18">Kaplan-Meier Curve for OS</text>
<line x1="405.3" y1="40.5" x2="405.3" y2="131.8" stroke="#888" stroke-width="0.7"/>
<line x1="405.3" y1="131.8" x2="539" y2="131.8" stroke="#888" stroke-width="0.7"/>
<line x1="404" y1="127.9" x2="405.3" y2="127.9" stroke="#666" stroke-width="0.5"/>
<text x="403.4" y="129.4" font-size="4.2" font-weight="normal" text-anchor="end" fill="#444" textLength="7.6" lengthAdjust="spacingAndGlyphs">0.00</text>
<line x1="404" y1="107.1" x2="405.3" y2="107.1" stroke="#666" stroke-width="0.5"/>
<text x="403.4" y="108.6" font-size="4.2" font-weight="normal" text-anchor="end" fill="#444" textLength="7.6" lengthAdjust="spacingAndGlyphs">0.25</text>
<line x1="404" y1="86.3" x2="405.3" y2="86.3" stroke="#666" stroke-width="0.5"/>
<text x="403.4" y="87.8" font-size="4.2" font-weight="normal" text-anchor="end" fill="#444" textLength="7.6" lengthAdjust="spacingAndGlyphs">0.50</text>
<line x1="404" y1="65.5" x2="405.3" y2="65.5" stroke="#666" stroke-width="0.5"/>
<text x="403.4" y="67" font-size="4.2" font-weight="normal" text-anchor="end" fill="#444" textLength="7.6" lengthAdjust="spacingAndGlyphs">0.75</text>
<line x1="404" y1="44.7" x2="405.3" y2="44.7" stroke="#666" stroke-width="0.5"/>
<text x="403.4" y="46.2" font-size="4.2" font-weight="normal" text-anchor="end" fill="#444" textLength="7.6" lengthAdjust="spacingAndGlyphs">1.00</text>
<line x1="411.6" y1="131.6" x2="411.6" y2="133" stroke="#444" stroke-width="0.5"/>
<text x="411.6" y="137.65" font-size="4.6" font-weight="normal" text-anchor="middle" fill="#333">0</text>
<line x1="452.3" y1="131.6" x2="452.3" y2="133" stroke="#444" stroke-width="0.5"/>
<text x="452.3" y="137.65" font-size="4.6" font-weight="normal" text-anchor="middle" fill="#333">20</text>
<line x1="493" y1="131.6" x2="493" y2="133" stroke="#444" stroke-width="0.5"/>
<text x="493" y="137.65" font-size="4.6" font-weight="normal" text-anchor="middle" fill="#333">40</text>
<line x1="533.7" y1="131.6" x2="533.7" y2="133" stroke="#444" stroke-width="0.5"/>
<text x="533.7" y="137.65" font-size="4.6" font-weight="normal" text-anchor="middle" fill="#333">60</text>
<text x="472.7" y="143.38" font-size="5.8" font-weight="normal" text-anchor="middle" fill="#000">Time</text>
<text x="390.82" y="83.6" font-size="6.2" font-weight="bold" text-anchor="middle" fill="#000" transform="rotate(-90 390.82 83.6)" textLength="52.8" lengthAdjust="spacingAndGlyphs" stroke="#000" stroke-width="0.18">Survival probability</text>
<path d="M411.6 44.7 H425.03 V46.36 H436.83 V48.36 H460.03 V49.69 H471.23 V50.52 H490.97 V51.61 H498.09 V53.02 H505.41 V54.27 H538.79" fill="none" stroke="#c8305a" stroke-width="0.9"/>
<line x1="440.09" y1="47.06" x2="440.09" y2="49.66" stroke="#c8305a" stroke-width="0.9"/>
<line x1="450.27" y1="47.06" x2="450.27" y2="49.66" stroke="#c8305a" stroke-width="0.9"/>
<line x1="462.48" y1="48.39" x2="462.48" y2="50.99" stroke="#c8305a" stroke-width="0.9"/>
<line x1="465.53" y1="48.39" x2="465.53" y2="50.99" stroke="#c8305a" stroke-width="0.9"/>
<line x1="468.58" y1="48.39" x2="468.58" y2="50.99" stroke="#c8305a" stroke-width="0.9"/>
<line x1="474.69" y1="49.22" x2="474.69" y2="51.82" stroke="#c8305a" stroke-width="0.9"/>
<line x1="478.75" y1="49.22" x2="478.75" y2="51.82" stroke="#c8305a" stroke-width="0.9"/>
<line x1="482.83" y1="49.22" x2="482.83" y2="51.82" stroke="#c8305a" stroke-width="0.9"/>
<line x1="485.88" y1="49.22" x2="485.88" y2="51.82" stroke="#c8305a" stroke-width="0.9"/>
<line x1="488.93" y1="49.22" x2="488.93" y2="51.82" stroke="#c8305a" stroke-width="0.9"/>
<line x1="494.02" y1="50.31" x2="494.02" y2="52.91" stroke="#c8305a" stroke-width="0.9"/>
<line x1="501.14" y1="51.72" x2="501.14" y2="54.32" stroke="#c8305a" stroke-width="0.9"/>
<line x1="508.26" y1="52.97" x2="508.26" y2="55.57" stroke="#c8305a" stroke-width="0.9"/>
<line x1="511.32" y1="52.97" x2="511.32" y2="55.57" stroke="#c8305a" stroke-width="0.9"/>
<line x1="514.37" y1="52.97" x2="514.37" y2="55.57" stroke="#c8305a" stroke-width="0.9"/>
<line x1="517.42" y1="52.97" x2="517.42" y2="55.57" stroke="#c8305a" stroke-width="0.9"/>
<line x1="520.47" y1="52.97" x2="520.47" y2="55.57" stroke="#c8305a" stroke-width="0.9"/>
<line x1="523.53" y1="52.97" x2="523.53" y2="55.57" stroke="#c8305a" stroke-width="0.9"/>
<line x1="526.58" y1="52.97" x2="526.58" y2="55.57" stroke="#c8305a" stroke-width="0.9"/>
<line x1="529.63" y1="52.97" x2="529.63" y2="55.57" stroke="#c8305a" stroke-width="0.9"/>
<line x1="532.68" y1="52.97" x2="532.68" y2="55.57" stroke="#c8305a" stroke-width="0.9"/>
<path d="M411.6 44.7 H423.2 V47.61 H424.83 V49.69 H426.46 V50.94 H428.9 V55.52 H434.8 V60.51 H439.48 V62.17 H442.12 V65.08 H445.38 V66.33 H448.84 V68.41 H462.07 V70.49 H465.93 V73.24 H538.79" fill="none" stroke="#2a5cc8" stroke-width="0.9"/>
<line x1="436.02" y1="59.21" x2="436.02" y2="61.81" stroke="#2a5cc8" stroke-width="0.9"/>
<line x1="437.65" y1="59.21" x2="437.65" y2="61.81" stroke="#2a5cc8" stroke-width="0.9"/>
<line x1="447.21" y1="65.03" x2="447.21" y2="67.63" stroke="#2a5cc8" stroke-width="0.9"/>
<line x1="451.28" y1="67.11" x2="451.28" y2="69.71" stroke="#2a5cc8" stroke-width="0.9"/>
<line x1="456.37" y1="67.11" x2="456.37" y2="69.71" stroke="#2a5cc8" stroke-width="0.9"/>
<line x1="467.56" y1="71.94" x2="467.56" y2="74.54" stroke="#2a5cc8" stroke-width="0.9"/>
<line x1="470.62" y1="71.94" x2="470.62" y2="74.54" stroke="#2a5cc8" stroke-width="0.9"/>
<line x1="482.83" y1="71.94" x2="482.83" y2="74.54" stroke="#2a5cc8" stroke-width="0.9"/>
<line x1="488.93" y1="71.94" x2="488.93" y2="74.54" stroke="#2a5cc8" stroke-width="0.9"/>
<line x1="497.07" y1="71.94" x2="497.07" y2="74.54" stroke="#2a5cc8" stroke-width="0.9"/>
<line x1="501.14" y1="71.94" x2="501.14" y2="74.54" stroke="#2a5cc8" stroke-width="0.9"/>
<line x1="504.19" y1="71.94" x2="504.19" y2="74.54" stroke="#2a5cc8" stroke-width="0.9"/>
<line x1="507.25" y1="71.94" x2="507.25" y2="74.54" stroke="#2a5cc8" stroke-width="0.9"/>
<line x1="510.3" y1="71.94" x2="510.3" y2="74.54" stroke="#2a5cc8" stroke-width="0.9"/>
<line x1="513.35" y1="71.94" x2="513.35" y2="74.54" stroke="#2a5cc8" stroke-width="0.9"/>
<line x1="516.4" y1="71.94" x2="516.4" y2="74.54" stroke="#2a5cc8" stroke-width="0.9"/>
<line x1="523.53" y1="71.94" x2="523.53" y2="74.54" stroke="#2a5cc8" stroke-width="0.9"/>
<line x1="527.6" y1="71.94" x2="527.6" y2="74.54" stroke="#2a5cc8" stroke-width="0.9"/>
<line x1="533.7" y1="71.94" x2="533.7" y2="74.54" stroke="#2a5cc8" stroke-width="0.9"/>
<text x="410" y="104.56" font-size="3.8" font-weight="normal" text-anchor="start" fill="#333" textLength="22" lengthAdjust="spacingAndGlyphs">Xiangya Cohort</text>
<line x1="411.2" y1="109.7" x2="414.1" y2="109.7" stroke="#2a5cc8" stroke-width="1"/>
<text x="416.6" y="110.99" font-size="3.6" font-weight="normal" text-anchor="start" fill="#333" textLength="14.7" lengthAdjust="spacingAndGlyphs">DDX5-Low</text>
<line x1="411.2" y1="115.8" x2="414.1" y2="115.8" stroke="#c8305a" stroke-width="1"/>
<text x="416.6" y="117.09" font-size="3.6" font-weight="normal" text-anchor="start" fill="#333" textLength="15.5" lengthAdjust="spacingAndGlyphs">DDX5-High</text>
<text x="411.6" y="128.4" font-size="5.6" font-weight="normal" text-anchor="start" fill="#000" textLength="23.4" lengthAdjust="spacingAndGlyphs">p &lt; 0.0001</text>
<text x="406.3" y="152.5" font-size="5.6" font-weight="normal" text-anchor="start" fill="#000">Number at risk</text>
<line x1="405.8" y1="155.5" x2="405.8" y2="170.6" stroke="#444" stroke-width="0.6"/>
<line x1="405.8" y1="170.6" x2="539" y2="170.6" stroke="#444" stroke-width="0.6"/>
<text x="411.6" y="160.98" font-size="4.4" font-weight="normal" text-anchor="middle" fill="#333">76</text>
<text x="411.6" y="167.58" font-size="4.4" font-weight="normal" text-anchor="middle" fill="#333">93</text>
<line x1="411.6" y1="170.6" x2="411.6" y2="172" stroke="#444" stroke-width="0.5"/>
<text x="411.6" y="175.95" font-size="4.6" font-weight="normal" text-anchor="middle" fill="#333">0</text>
<text x="452.3" y="160.98" font-size="4.4" font-weight="normal" text-anchor="middle" fill="#333">50</text>
<text x="452.3" y="167.58" font-size="4.4" font-weight="normal" text-anchor="middle" fill="#333">85</text>
<line x1="452.3" y1="170.6" x2="452.3" y2="172" stroke="#444" stroke-width="0.5"/>
<text x="452.3" y="175.95" font-size="4.6" font-weight="normal" text-anchor="middle" fill="#333">20</text>
<text x="493" y="160.98" font-size="4.4" font-weight="normal" text-anchor="middle" fill="#333">23</text>
<text x="493" y="167.58" font-size="4.4" font-weight="normal" text-anchor="middle" fill="#333">68</text>
<line x1="493" y1="170.6" x2="493" y2="172" stroke="#444" stroke-width="0.5"/>
<text x="493" y="175.95" font-size="4.6" font-weight="normal" text-anchor="middle" fill="#333">40</text>
<text x="533.7" y="160.98" font-size="4.4" font-weight="normal" text-anchor="middle" fill="#333">4</text>
<text x="533.7" y="167.58" font-size="4.4" font-weight="normal" text-anchor="middle" fill="#333">9</text>
<line x1="533.7" y1="170.6" x2="533.7" y2="172" stroke="#444" stroke-width="0.5"/>
<text x="533.7" y="175.95" font-size="4.6" font-weight="normal" text-anchor="middle" fill="#333">60</text>
<text x="472.7" y="182.28" font-size="5.8" font-weight="normal" text-anchor="middle" fill="#000">Time</text>
<text x="365.5" y="161.15" font-size="6" font-weight="bold" text-anchor="start" fill="#000" textLength="27.2" lengthAdjust="spacingAndGlyphs" stroke="#000" stroke-width="0.18">DDX5-low</text>
<text x="365.5" y="167.45" font-size="6" font-weight="bold" text-anchor="start" fill="#000" textLength="29.5" lengthAdjust="spacingAndGlyphs" stroke="#000" stroke-width="0.18">DDX5-high</text>
<line x1="398.5" y1="159.2" x2="403.3" y2="159.2" stroke="#2a5cc8" stroke-width="1.3"/>
<line x1="398.5" y1="166" x2="403.3" y2="166" stroke="#c8305a" stroke-width="1.3"/>
<text x="35.6" y="200.79" font-size="12" font-weight="bold">D</text>
<text x="49" y="206.92" font-size="6.2" font-weight="bold" text-anchor="start" fill="#000" textLength="21" lengthAdjust="spacingAndGlyphs" stroke="#000" stroke-width="0.18">Control</text>
<text x="76.3" y="206.92" font-size="6.2" font-weight="bold" text-anchor="start" fill="#000" textLength="11.5" lengthAdjust="spacingAndGlyphs" stroke="#000" stroke-width="0.18">KD1</text>
<text x="92.9" y="206.92" font-size="6.2" font-weight="bold" text-anchor="start" fill="#000" textLength="11.4" lengthAdjust="spacingAndGlyphs" stroke="#000" stroke-width="0.18">KD2</text>
<rect x="43.6" y="215" width="61.6" height="19.6" fill="url(#gBlot)"/>
<ellipse cx="56.8" cy="224.2" rx="5.8" ry="2.9" fill="#000" filter="url(#b07)"/>
<ellipse cx="74.3" cy="224.1" rx="7.8" ry="1.9" fill="#4a4a4a" filter="url(#b07)"/>
<ellipse cx="94" cy="226.2" rx="4.8" ry="0.9" fill="#8a8a8a" filter="url(#b07)"/>
<rect x="43.6" y="215" width="61.6" height="19.6" fill="none" stroke="#000" stroke-width="1.5"/>
<rect x="43.4" y="243.9" width="61.6" height="21.5" fill="url(#gBlot)"/>
<ellipse cx="56.6" cy="254.3" rx="6.4" ry="2.6" fill="#000" filter="url(#b07)"/>
<ellipse cx="73.7" cy="254.8" rx="8.6" ry="1.5" fill="#111" filter="url(#b07)"/>
<ellipse cx="93.8" cy="254.3" rx="8.4" ry="2.8" fill="#000" filter="url(#b07)"/>
<rect x="43.4" y="243.9" width="61.6" height="21.5" fill="none" stroke="#000" stroke-width="1.5"/>
<text x="112" y="230.42" font-size="6.2" font-weight="bold" text-anchor="start" fill="#000" textLength="14.7" lengthAdjust="spacingAndGlyphs" stroke="#000" stroke-width="0.18">DDX5</text>
<text x="108.9" y="259.42" font-size="6.2" font-weight="bold" text-anchor="start" fill="#000" textLength="20.3" lengthAdjust="spacingAndGlyphs" stroke="#000" stroke-width="0.18">GAPDH</text>
<text x="49.8" y="281.62" font-size="9" font-weight="bold" text-anchor="start" fill="#000" textLength="44.4" lengthAdjust="spacingAndGlyphs" stroke="#000" stroke-width="0.18">Cal 27 cells</text>
<line x1="156.4" y1="204.4" x2="156.4" y2="257.4" stroke="#000" stroke-width="0.7"/>
<line x1="154.6" y1="257.4" x2="156.4" y2="257.4" stroke="#000" stroke-width="0.7"/>
<text x="154" y="258.9" font-size="4.2" font-weight="bold" text-anchor="end" fill="#222">0.0</text>
<line x1="154.6" y1="239.9" x2="156.4" y2="239.9" stroke="#000" stroke-width="0.7"/>
<text x="154" y="241.4" font-size="4.2" font-weight="bold" text-anchor="end" fill="#222">0.5</text>
<line x1="154.6" y1="222.4" x2="156.4" y2="222.4" stroke="#000" stroke-width="0.7"/>
<text x="154" y="223.9" font-size="4.2" font-weight="bold" text-anchor="end" fill="#222">1.0</text>
<line x1="154.6" y1="204.9" x2="156.4" y2="204.9" stroke="#000" stroke-width="0.7"/>
<text x="154" y="206.4" font-size="4.2" font-weight="bold" text-anchor="end" fill="#222">1.5</text>
<line x1="156.4" y1="257.4" x2="189" y2="257.4" stroke="#000" stroke-width="0.7"/>
<rect x="160.1" y="224.15" width="6.7" height="33.25" fill="#000" stroke="#111" stroke-width="0.6"/>
<line x1="163.45" y1="224.15" x2="163.45" y2="223.1" stroke="#000" stroke-width="0.6"/>
<line x1="161.95" y1="223.1" x2="164.95" y2="223.1" stroke="#000" stroke-width="0.6"/>
<rect x="170.3" y="235" width="7" height="22.4" fill="#a8a8a8" stroke="#111" stroke-width="0.6"/>
<line x1="173.8" y1="235" x2="173.8" y2="233.6" stroke="#000" stroke-width="0.6"/>
<line x1="172.3" y1="233.6" x2="175.3" y2="233.6" stroke="#000" stroke-width="0.6"/>
<rect x="181.1" y="251.1" width="6.7" height="6.3" fill="#8a8a8a" stroke="#111" stroke-width="0.6"/>
<line x1="184.45" y1="251.1" x2="184.45" y2="249.7" stroke="#000" stroke-width="0.6"/>
<line x1="182.95" y1="249.7" x2="185.95" y2="249.7" stroke="#000" stroke-width="0.6"/>
<path d="M162.4 212.6 V209 H185.9 V212.6" fill="none" stroke="#000" stroke-width="0.8"/>
<text x="173.2" y="203.4" font-size="7" font-weight="bold" text-anchor="middle" fill="#000" dy="4.34" stroke="#000" stroke-width="0.18">**</text>
<path d="M162.4 219.4 V216.6 H175.1 V219.4" fill="none" stroke="#000" stroke-width="0.8"/>
<text x="168.7" y="211.5" font-size="7" font-weight="bold" text-anchor="middle" fill="#000" dy="4.34" stroke="#000" stroke-width="0.18">*</text>
<text x="164.56" y="261.56" font-size="4.2" font-weight="bold" text-anchor="end" fill="#000" transform="rotate(-45 164.56 261.56)" textLength="13" lengthAdjust="spacingAndGlyphs">Control</text>
<text x="174.86" y="261.56" font-size="4.2" font-weight="bold" text-anchor="end" fill="#000" transform="rotate(-45 174.86 261.56)" textLength="7" lengthAdjust="spacingAndGlyphs">KD1</text>
<text x="185.46" y="261.56" font-size="4.2" font-weight="bold" text-anchor="end" fill="#000" transform="rotate(-45 185.46 261.56)" textLength="7" lengthAdjust="spacingAndGlyphs">KD2</text>
<text x="138.2" y="236.6" font-size="5.6" font-weight="bold" text-anchor="middle" fill="#000" transform="rotate(-90 138.2 236.6)" textLength="56" lengthAdjust="spacingAndGlyphs" stroke="#000" stroke-width="0.18">DDX5 protein level in</text>
<text x="144.3" y="237.5" font-size="5.6" font-weight="bold" text-anchor="middle" fill="#000" transform="rotate(-90 144.3 237.5)" textLength="54.4" lengthAdjust="spacingAndGlyphs" stroke="#000" stroke-width="0.18">Cal27 (Fold Change)</text>
<line x1="205.5" y1="200" x2="205.5" y2="252.5" stroke="#000" stroke-width="0.7"/>
<line x1="205.5" y1="252.5" x2="256.4" y2="252.5" stroke="#000" stroke-width="0.7"/>
<line x1="204" y1="252.5" x2="205.5" y2="252.5" stroke="#000" stroke-width="0.6"/>
<text x="203.2" y="253.79" font-size="3.6" font-weight="bold" text-anchor="end" fill="#333">0.0</text>
<line x1="204" y1="242.22" x2="205.5" y2="242.22" stroke="#000" stroke-width="0.6"/>
<text x="203.2" y="243.51" font-size="3.6" font-weight="bold" text-anchor="end" fill="#333">0.5</text>
<line x1="204" y1="231.94" x2="205.5" y2="231.94" stroke="#000" stroke-width="0.6"/>
<text x="203.2" y="233.23" font-size="3.6" font-weight="bold" text-anchor="end" fill="#333">1.0</text>
<line x1="204" y1="221.66" x2="205.5" y2="221.66" stroke="#000" stroke-width="0.6"/>
<text x="203.2" y="222.95" font-size="3.6" font-weight="bold" text-anchor="end" fill="#333">1.5</text>
<line x1="204" y1="211.38" x2="205.5" y2="211.38" stroke="#000" stroke-width="0.6"/>
<text x="203.2" y="212.67" font-size="3.6" font-weight="bold" text-anchor="end" fill="#333">2.0</text>
<line x1="204" y1="201.1" x2="205.5" y2="201.1" stroke="#000" stroke-width="0.6"/>
<text x="203.2" y="202.39" font-size="3.6" font-weight="bold" text-anchor="end" fill="#333">2.5</text>
<line x1="211.7" y1="252.5" x2="211.7" y2="254" stroke="#000" stroke-width="0.6"/>
<text x="211.7" y="259.89" font-size="3.6" font-weight="bold" text-anchor="middle" fill="#333">24H</text>
<line x1="221.5" y1="252.5" x2="221.5" y2="254" stroke="#000" stroke-width="0.6"/>
<text x="221.5" y="259.89" font-size="3.6" font-weight="bold" text-anchor="middle" fill="#333">48H</text>
<line x1="230.9" y1="252.5" x2="230.9" y2="254" stroke="#000" stroke-width="0.6"/>
<text x="230.9" y="259.89" font-size="3.6" font-weight="bold" text-anchor="middle" fill="#333">72H</text>
<line x1="240.4" y1="252.5" x2="240.4" y2="254" stroke="#000" stroke-width="0.6"/>
<text x="240.4" y="259.89" font-size="3.6" font-weight="bold" text-anchor="middle" fill="#333">96H</text>
<line x1="250.1" y1="252.5" x2="250.1" y2="254" stroke="#000" stroke-width="0.6"/>
<text x="250.1" y="259.89" font-size="3.6" font-weight="bold" text-anchor="middle" fill="#333">120H</text>
<polyline points="211.7,249.21 221.5,247.15 230.9,244.28 240.4,238.52 250.1,231.94" fill="none" stroke="#111" stroke-width="0.8"/>
<circle cx="211.7" cy="249.21" r="1.1" fill="#111"/>
<circle cx="221.5" cy="247.15" r="1.1" fill="#111"/>
<circle cx="230.9" cy="244.28" r="1.1" fill="#111"/>
<circle cx="240.4" cy="238.52" r="1.1" fill="#111"/>
<circle cx="250.1" cy="231.94" r="1.1" fill="#111"/>
<polyline points="211.7,249.21 221.5,247.15 230.9,240.99 240.4,233.58 250.1,221.66" fill="none" stroke="#3a3af0" stroke-width="0.8"/>
<circle cx="211.7" cy="249.21" r="1.1" fill="#3a3af0"/>
<circle cx="221.5" cy="247.15" r="1.1" fill="#3a3af0"/>
<circle cx="230.9" cy="240.99" r="1.1" fill="#3a3af0"/>
<circle cx="240.4" cy="233.58" r="1.1" fill="#3a3af0"/>
<circle cx="250.1" cy="221.66" r="1.1" fill="#3a3af0"/>
<polyline points="211.7,249.21 221.5,246.95 230.9,240.58 240.4,230.91 250.1,214.88" fill="none" stroke="#f03030" stroke-width="0.8"/>
<circle cx="211.7" cy="249.21" r="1.1" fill="#f03030"/>
<circle cx="221.5" cy="246.95" r="1.1" fill="#f03030"/>
<circle cx="230.9" cy="240.58" r="1.1" fill="#f03030"/>
<circle cx="240.4" cy="230.91" r="1.1" fill="#f03030"/>
<circle cx="250.1" cy="214.88" r="1.1" fill="#f03030"/>
<line x1="240.4" y1="240.58" x2="240.4" y2="236.46" stroke="#000" stroke-width="0.5"/>
<line x1="250.1" y1="234" x2="250.1" y2="229.88" stroke="#666" stroke-width="0.5"/>
<path d="M252.2 220.5 H253.6 V231.6 H252.2" fill="none" stroke="#000" stroke-width="0.7"/>
<text x="255.4" y="226.3" font-size="6.5" font-weight="bold" text-anchor="middle" fill="#000" dy="4" stroke="#000" stroke-width="0.18">*</text>
<path d="M256.5 213.6 H258.1 V232 H256.5" fill="none" stroke="#444" stroke-width="0.8"/>
<text x="261" y="223" font-size="6.5" font-weight="bold" text-anchor="middle" fill="#000" transform="rotate(90 261 223)" dy="2.4" stroke="#000" stroke-width="0.18">**</text>
<text x="196.66" y="229.5" font-size="6.6" font-weight="bold" text-anchor="middle" fill="#000" transform="rotate(-90 196.66 229.5)" textLength="57.5" lengthAdjust="spacingAndGlyphs" stroke="#000" stroke-width="0.18">Absorbance (450 nm)</text>
<line x1="265.5" y1="205.5" x2="269.2" y2="205.5" stroke="#111" stroke-width="0.8"/>
<circle cx="267.3" cy="205.5" r="1" fill="#111"/>
<text x="271.1" y="207" font-size="4.2" font-weight="bold" text-anchor="start" fill="#000" textLength="12" lengthAdjust="spacingAndGlyphs">KD-CON</text>
<line x1="265.5" y1="212.9" x2="269.2" y2="212.9" stroke="#f03030" stroke-width="0.8"/>
<circle cx="267.3" cy="212.9" r="1" fill="#f03030"/>
<text x="271.1" y="214.4" font-size="4.2" font-weight="bold" text-anchor="start" fill="#000" textLength="6" lengthAdjust="spacingAndGlyphs">KD1</text>
<line x1="265.5" y1="220.1" x2="269.2" y2="220.1" stroke="#3a3af0" stroke-width="0.8"/>
<circle cx="267.3" cy="220.1" r="1" fill="#3a3af0"/>
<text x="271.1" y="221.6" font-size="4.2" font-weight="bold" text-anchor="start" fill="#000" textLength="6" lengthAdjust="spacingAndGlyphs">KD2</text>
<text x="292.4" y="199.98" font-size="5.8" font-weight="bold" text-anchor="start" fill="#000" textLength="20.4" lengthAdjust="spacingAndGlyphs" stroke="#000" stroke-width="0.18">Control</text>
<text x="316.6" y="199.98" font-size="5.8" font-weight="bold" text-anchor="start" fill="#000" textLength="11.5" lengthAdjust="spacingAndGlyphs" stroke="#000" stroke-width="0.18">KD1</text>
<text x="331.9" y="199.98" font-size="5.8" font-weight="bold" text-anchor="start" fill="#000" textLength="10.9" lengthAdjust="spacingAndGlyphs" stroke="#000" stroke-width="0.18">KD2</text>
<rect x="287.3" y="202.5" width="61.9" height="21" fill="url(#gBlot)"/>
<ellipse cx="298" cy="213.7" rx="7.3" ry="3" fill="#000" filter="url(#b07)"/>
<ellipse cx="314.5" cy="215.6" rx="5.4" ry="1.2" fill="#c0c0c0" filter="url(#b07)"/>
<ellipse cx="335" cy="215.3" rx="7.9" ry="2" fill="#222" filter="url(#b07)"/>
<rect x="287.3" y="202.5" width="61.9" height="21" fill="none" stroke="#000" stroke-width="1.5"/>
<rect x="288.6" y="235" width="60.6" height="23.5" fill="url(#gBlot)"/>
<ellipse cx="297.5" cy="247.6" rx="6.5" ry="1.7" fill="#111" filter="url(#b07)"/>
<ellipse cx="314.5" cy="247.6" rx="6.5" ry="1.7" fill="#111" filter="url(#b07)"/>
<ellipse cx="334.5" cy="249" rx="10.5" ry="4.5" fill="#000" filter="url(#b07)"/>
<rect x="288.6" y="235" width="60.6" height="23.5" fill="none" stroke="#000" stroke-width="1.5"/>
<text x="351.2" y="213.88" font-size="5.8" font-weight="bold" text-anchor="start" fill="#000" textLength="14" lengthAdjust="spacingAndGlyphs" stroke="#000" stroke-width="0.18">DDX5</text>
<text x="352" y="250.08" font-size="5.8" font-weight="bold" text-anchor="start" fill="#000" textLength="20" lengthAdjust="spacingAndGlyphs" stroke="#000" stroke-width="0.18">GAPDH</text>
<text x="297.4" y="273.79" font-size="9.2" font-weight="bold" text-anchor="start" fill="#000" textLength="45.6" lengthAdjust="spacingAndGlyphs" stroke="#000" stroke-width="0.18">SCC-9 cells</text>
<line x1="400.3" y1="200.2" x2="400.3" y2="251.6" stroke="#000" stroke-width="0.7"/>
<line x1="398.5" y1="251.6" x2="400.3" y2="251.6" stroke="#000" stroke-width="0.7"/>
<text x="397.9" y="253.1" font-size="4.2" font-weight="bold" text-anchor="end" fill="#222">0.0</text>
<line x1="398.5" y1="234.8" x2="400.3" y2="234.8" stroke="#000" stroke-width="0.7"/>
<text x="397.9" y="236.3" font-size="4.2" font-weight="bold" text-anchor="end" fill="#222">0.5</text>
<line x1="398.5" y1="218" x2="400.3" y2="218" stroke="#000" stroke-width="0.7"/>
<text x="397.9" y="219.5" font-size="4.2" font-weight="bold" text-anchor="end" fill="#222">1.0</text>
<line x1="398.5" y1="201.2" x2="400.3" y2="201.2" stroke="#000" stroke-width="0.7"/>
<text x="397.9" y="202.7" font-size="4.2" font-weight="bold" text-anchor="end" fill="#222">1.5</text>
<line x1="400.3" y1="251.6" x2="434.5" y2="251.6" stroke="#000" stroke-width="0.7"/>
<rect x="404.1" y="221.02" width="6.6" height="30.58" fill="#000" stroke="#111" stroke-width="0.6"/>
<line x1="407.4" y1="221.02" x2="407.4" y2="219.68" stroke="#000" stroke-width="0.6"/>
<line x1="405.9" y1="219.68" x2="408.9" y2="219.68" stroke="#000" stroke-width="0.6"/>
<rect x="414.3" y="243.87" width="7.9" height="7.73" fill="#a8a8a8" stroke="#111" stroke-width="0.6"/>
<line x1="418.25" y1="243.87" x2="418.25" y2="241.52" stroke="#000" stroke-width="0.6"/>
<line x1="416.75" y1="241.52" x2="419.75" y2="241.52" stroke="#000" stroke-width="0.6"/>
<rect x="425.4" y="243.87" width="7.6" height="7.73" fill="#8a8a8a" stroke="#111" stroke-width="0.6"/>
<line x1="429.2" y1="243.87" x2="429.2" y2="241.52" stroke="#000" stroke-width="0.6"/>
<line x1="427.7" y1="241.52" x2="430.7" y2="241.52" stroke="#000" stroke-width="0.6"/>
<path d="M406.3 207.7 V204.5 H429.8 V207.7" fill="none" stroke="#000" stroke-width="0.8"/>
<text x="418" y="198.5" font-size="7" font-weight="bold" text-anchor="middle" fill="#000" dy="4.34" stroke="#000" stroke-width="0.18">***</text>
<path d="M406.3 215.5 V212 H418.6 V215.5" fill="none" stroke="#000" stroke-width="0.8"/>
<text x="412.6" y="206" font-size="7" font-weight="bold" text-anchor="middle" fill="#000" dy="4.34" stroke="#000" stroke-width="0.18">***</text>
<text x="409.06" y="255.86" font-size="4.2" font-weight="bold" text-anchor="end" fill="#000" transform="rotate(-45 409.06 255.86)" textLength="13" lengthAdjust="spacingAndGlyphs">Control</text>
<text x="419.56" y="255.86" font-size="4.2" font-weight="bold" text-anchor="end" fill="#000" transform="rotate(-45 419.56 255.86)" textLength="7" lengthAdjust="spacingAndGlyphs">KD1</text>
<text x="430.56" y="255.86" font-size="4.2" font-weight="bold" text-anchor="end" fill="#000" transform="rotate(-45 430.56 255.86)" textLength="7" lengthAdjust="spacingAndGlyphs">KD2</text>
<text x="380.75" y="235" font-size="6" font-weight="bold" text-anchor="middle" fill="#000" transform="rotate(-90 380.75 235)" textLength="56.4" lengthAdjust="spacingAndGlyphs" stroke="#000" stroke-width="0.18">DDX5 protein level in</text>
<text x="386.95" y="235.2" font-size="6" font-weight="bold" text-anchor="middle" fill="#000" transform="rotate(-90 386.95 235.2)" textLength="55.6" lengthAdjust="spacingAndGlyphs" stroke="#000" stroke-width="0.18">SCC-9 (Fold Change)</text>
<line x1="447.9" y1="198.5" x2="447.9" y2="252" stroke="#000" stroke-width="0.7"/>
<line x1="447.9" y1="252" x2="507.5" y2="252" stroke="#000" stroke-width="0.7"/>
<line x1="446.4" y1="252" x2="447.9" y2="252" stroke="#000" stroke-width="0.6"/>
<text x="445.5" y="253.36" font-size="3.8" font-weight="bold" text-anchor="end" fill="#333">0</text>
<line x1="446.4" y1="238.8" x2="447.9" y2="238.8" stroke="#000" stroke-width="0.6"/>
<text x="445.5" y="240.16" font-size="3.8" font-weight="bold" text-anchor="end" fill="#333">1</text>
<line x1="446.4" y1="225.6" x2="447.9" y2="225.6" stroke="#000" stroke-width="0.6"/>
<text x="445.5" y="226.96" font-size="3.8" font-weight="bold" text-anchor="end" fill="#333">2</text>
<line x1="446.4" y1="212.4" x2="447.9" y2="212.4" stroke="#000" stroke-width="0.6"/>
<text x="445.5" y="213.76" font-size="3.8" font-weight="bold" text-anchor="end" fill="#333">3</text>
<line x1="446.4" y1="199.2" x2="447.9" y2="199.2" stroke="#000" stroke-width="0.6"/>
<text x="445.5" y="200.56" font-size="3.8" font-weight="bold" text-anchor="end" fill="#333">4</text>
<line x1="459" y1="252" x2="459" y2="253.5" stroke="#000" stroke-width="0.6"/>
<text x="459" y="259.26" font-size="3.8" font-weight="bold" text-anchor="middle" fill="#333">1d</text>
<line x1="469.3" y1="252" x2="469.3" y2="253.5" stroke="#000" stroke-width="0.6"/>
<text x="469.3" y="259.26" font-size="3.8" font-weight="bold" text-anchor="middle" fill="#333">2d</text>
<line x1="480.2" y1="252" x2="480.2" y2="253.5" stroke="#000" stroke-width="0.6"/>
<text x="480.2" y="259.26" font-size="3.8" font-weight="bold" text-anchor="middle" fill="#333">3d</text>
<line x1="491.1" y1="252" x2="491.1" y2="253.5" stroke="#000" stroke-width="0.6"/>
<text x="491.1" y="259.26" font-size="3.8" font-weight="bold" text-anchor="middle" fill="#333">4d</text>
<line x1="502" y1="252" x2="502" y2="253.5" stroke="#000" stroke-width="0.6"/>
<text x="502" y="259.26" font-size="3.8" font-weight="bold" text-anchor="middle" fill="#333">5d</text>
<polyline points="459,249.36 469.3,248.3 480.2,247.64 491.1,244.74 502,237.22" fill="none" stroke="#111" stroke-width="0.8"/>
<circle cx="459" cy="249.36" r="1.1" fill="#111"/>
<circle cx="469.3" cy="248.3" r="1.1" fill="#111"/>
<circle cx="480.2" cy="247.64" r="1.1" fill="#111"/>
<circle cx="491.1" cy="244.74" r="1.1" fill="#111"/>
<circle cx="502" cy="237.22" r="1.1" fill="#111"/>
<polyline points="459,249.1 469.3,247.38 480.2,242.1 491.1,230.88 502,216.62" fill="none" stroke="#f03030" stroke-width="0.8"/>
<circle cx="459" cy="249.1" r="1.1" fill="#f03030"/>
<circle cx="469.3" cy="247.38" r="1.1" fill="#f03030"/>
<circle cx="480.2" cy="242.1" r="1.1" fill="#f03030"/>
<circle cx="491.1" cy="230.88" r="1.1" fill="#f03030"/>
<circle cx="502" cy="216.62" r="1.1" fill="#f03030"/>
<polyline points="459,248.83 469.3,246.06 480.2,238.14 491.1,227.84 502,213.72" fill="none" stroke="#3a3af0" stroke-width="0.8"/>
<circle cx="459" cy="248.83" r="1.1" fill="#3a3af0"/>
<circle cx="469.3" cy="246.06" r="1.1" fill="#3a3af0"/>
<circle cx="480.2" cy="238.14" r="1.1" fill="#3a3af0"/>
<circle cx="491.1" cy="227.84" r="1.1" fill="#3a3af0"/>
<circle cx="502" cy="213.72" r="1.1" fill="#3a3af0"/>
<line x1="502" y1="213.72" x2="502" y2="210.42" stroke="#3a3af0" stroke-width="0.6"/>
<line x1="491.1" y1="233.52" x2="491.1" y2="229.56" stroke="#f03030" stroke-width="0.5"/>
<path d="M503.1 217.7 H504.6 V237.4 H503.1" fill="none" stroke="#000" stroke-width="0.6"/>
<text x="507.3" y="227.8" font-size="7" font-weight="bold" text-anchor="middle" fill="#000" transform="rotate(90 507.3 227.8)" dy="2.6" stroke="#000" stroke-width="0.18">***</text>
<path d="M510.3 212 H512.9 V238.3 H510.3" fill="none" stroke="#000" stroke-width="0.6"/>
<text x="515" y="225" font-size="7" font-weight="bold" text-anchor="middle" fill="#000" transform="rotate(90 515 225)" dy="2.6" stroke="#000" stroke-width="0.18">***</text>
<text x="441.06" y="226.9" font-size="6.6" font-weight="bold" text-anchor="middle" fill="#000" transform="rotate(-90 441.06 226.9)" textLength="57" lengthAdjust="spacingAndGlyphs" stroke="#000" stroke-width="0.18">Absorbance (450 nm)</text>
<line x1="518.4" y1="203.3" x2="523.4" y2="203.3" stroke="#111" stroke-width="0.8"/>
<circle cx="520.9" cy="203.3" r="1" fill="#111"/>
<text x="525.4" y="204.73" font-size="4" font-weight="bold" text-anchor="start" fill="#000" textLength="13.7" lengthAdjust="spacingAndGlyphs">KD-CON</text>
<line x1="518.4" y1="211.6" x2="523.4" y2="211.6" stroke="#f03030" stroke-width="0.8"/>
<circle cx="520.9" cy="211.6" r="1" fill="#f03030"/>
<text x="525.4" y="213.03" font-size="4" font-weight="bold" text-anchor="start" fill="#000" textLength="6.5" lengthAdjust="spacingAndGlyphs">KD1</text>
<line x1="518.4" y1="219.3" x2="523.4" y2="219.3" stroke="#3a3af0" stroke-width="0.8"/>
<circle cx="520.9" cy="219.3" r="1" fill="#3a3af0"/>
<text x="525.4" y="220.73" font-size="4" font-weight="bold" text-anchor="start" fill="#000" textLength="6.5" lengthAdjust="spacingAndGlyphs">KD2</text>
<text x="35.6" y="289.29" font-size="12" font-weight="bold">E</text>
<text x="57.3" y="299.08" font-size="5.8" font-weight="bold" text-anchor="start" fill="#000" textLength="20.4" lengthAdjust="spacingAndGlyphs" stroke="#000" stroke-width="0.18">Control</text>
<text x="92" y="300.45" font-size="6" font-weight="bold" text-anchor="start" fill="#000" textLength="11.1" lengthAdjust="spacingAndGlyphs" stroke="#000" stroke-width="0.18">KD1</text>
<text x="125.5" y="300.45" font-size="6" font-weight="bold" text-anchor="start" fill="#000" textLength="11.5" lengthAdjust="spacingAndGlyphs" stroke="#000" stroke-width="0.18">KD2</text>
<rect x="52.1" y="303.9" width="29.7" height="32.5" fill="#e2e2e2"/>
<circle cx="66.8" cy="320" r="14.6" fill="#f4f4f4" stroke="#aaa" stroke-width="0.7"/>
<path d="M59.19 310.18h1.16v1.16h-1.16zM74.74 324.49h0.83v0.83h-0.83zM79.38 322.73h0.58v0.58h-0.58zM60.25 329.26h0.9v0.9h-0.9zM61.88 328.94h1.14v1.14h-1.14zM78.58 316.04h0.6v0.6h-0.6zM65.33 328.89h1.11v1.11h-1.11zM60.48 331.62h1.11v1.11h-1.11zM68.7 308.84h0.97v0.97h-0.97zM67.9 308.08h1.18v1.18h-1.18zM77.2 318.2h0.62v0.62h-0.62zM67.51 330.27h0.92v0.92h-0.92zM58.61 313.5h0.72v0.72h-0.72zM77.15 320.3h0.84v0.84h-0.84zM78.75 314.41h0.52v0.52h-0.52zM75.05 323.78h1.05v1.05h-1.05zM58.15 317.36h0.53v0.53h-0.53zM68.22 310.26h1.03v1.03h-1.03zM75.81 325.35h0.75v0.75h-0.75zM62 311.84h1.02v1.02h-1.02zM75.06 323.95h1.16v1.16h-1.16zM57.21 326.57h1.14v1.14h-1.14zM67.12 308.66h0.72v0.72h-0.72zM63.56 328.75h0.6v0.6h-0.6zM69.68 310.74h0.53v0.53h-0.53zM77.5 320.93h0.67v0.67h-0.67zM63.14 309.67h0.8v0.8h-0.8zM66.78 310.86h0.85v0.85h-0.85zM70 331h2v1.5h-2z" fill="#222"/>
<rect x="83.8" y="303.9" width="30.1" height="32.7" fill="#e2e2e2"/>
<circle cx="98.7" cy="320.4" r="14.5" fill="#f4f4f4" stroke="#aaa" stroke-width="0.7"/>
<path d="M94.8 316.9h0M101.0 321.4h0M100.0 312.9h0M92.7 313.1h0M96.4 333.5h0M94.1 313.9h0M103.6 324.9h0M106.4 313.8h0M102.8 331.0h0M92.5 326.0h0M92.4 327.0h0M105.2 312.0h0M96.0 322.8h0M105.8 327.7h0M100.8 325.2h0M98.7 326.2h0M91.6 326.4h0M106.6 324.3h0M93.3 317.8h0M106.4 324.0h0M102.4 328.9h0M106.1 323.5h0M100.6 320.0h0M97.8 312.9h0M91.8 324.2h0M104.6 314.2h0M102.3 320.7h0M89.4 317.9h0M100.4 321.4h0M95.3 324.1h0M106.9 312.5h0M99.3 326.1h0M105.4 318.2h0M102.0 314.2h0M97.2 328.2h0M104.2 322.2h0M94.1 311.1h0M92.4 324.8h0M102.0 308.2h0M95.2 315.5h0M92.6 323.7h0M85.8 321.0h0M89.5 324.1h0M110.6 316.9h0M101.7 329.7h0M103.3 320.1h0M101.3 312.4h0M105.4 325.8h0M106.8 328.9h0M94.9 308.5h0M90.4 325.4h0M105.1 313.1h0M104.9 312.0h0M102.7 331.4h0M103.0 325.3h0M90.4 315.5h0M96.4 315.1h0M104.2 327.1h0M102.4 318.6h0M89.9 329.7h0M98.0 333.1h0M99.5 312.0h0M95.2 309.3h0M99.5 309.7h0M107.8 325.1h0M106.4 317.3h0M98.7 318.2h0M100.5 327.2h0M99.6 323.3h0M95.4 313.1h0M98.1 313.9h0M100.7 323.4h0M88.0 320.3h0M95.4 313.2h0M92.3 327.0h0M93.8 320.6h0M87.3 324.3h0M98.6 312.1h0M100.8 327.1h0M106.1 320.8h0M106.1 327.8h0M92.1 325.4h0M93.1 326.5h0M98.3 322.3h0M92.2 326.2h0M94.9 313.3h0M89.0 320.8h0M92.6 313.0h0M91.1 324.5h0M105.4 325.9h0M105.6 323.1h0M105.8 331.0h0M107.9 321.4h0M101.3 327.9h0M88.1 327.9h0M99.2 323.3h0M110.6 325.0h0M106.1 315.4h0M94.6 317.1h0M106.5 330.4h0M105.6 320.1h0M106.6 326.0h0M104.7 323.8h0M99.7 327.9h0M102.0 321.9h0M104.8 312.7h0M93.6 314.1h0M99.0 310.5h0M95.6 323.3h0M104.0 323.8h0M90.2 324.6h0" stroke="#000" stroke-width="0.8" stroke-linecap="round"/>
<path d="M86.8 315.7h0M102.3 315.8h0M99.8 316.5h0M91.9 312.6h0M96.2 326.2h0M91.0 316.2h0M106.4 323.0h0M93.3 318.0h0M98.1 321.9h0M103.5 328.0h0M99.2 330.7h0M100.8 322.0h0M105.9 317.7h0M106.8 316.2h0M105.5 316.4h0M89.3 315.8h0M111.2 319.9h0M97.7 310.3h0M89.1 312.0h0M98.9 312.6h0M99.2 328.8h0M91.1 327.1h0M105.8 316.4h0M87.9 319.0h0M93.9 323.7h0M91.3 312.6h0M96.3 315.0h0M105.2 315.2h0M89.8 311.4h0M93.3 312.7h0M108.9 314.6h0M93.3 314.9h0M93.3 314.3h0M106.6 315.8h0M104.2 312.1h0M104.9 328.0h0M111.6 322.7h0M107.6 324.3h0M104.8 326.7h0M103.5 329.3h0M99.0 329.8h0M105.5 327.0h0M93.4 326.0h0M96.5 315.7h0M103.1 319.5h0M110.2 322.2h0M106.8 315.4h0M90.0 319.6h0M95.0 312.6h0M93.5 315.0h0M102.4 329.9h0M88.3 327.4h0M91.7 327.9h0M101.1 318.7h0M94.8 313.7h0M90.6 318.7h0M93.9 312.0h0M91.7 328.7h0M86.6 314.9h0M88.8 317.7h0M90.2 325.0h0M96.3 330.9h0M93.0 314.1h0M92.0 326.3h0M97.1 312.7h0M101.9 325.2h0M107.2 316.5h0M95.3 329.2h0M101.9 321.2h0M93.1 313.1h0M91.2 309.5h0M94.3 329.2h0M87.7 321.4h0M87.1 320.8h0M103.6 329.2h0M107.0 327.9h0M101.1 313.5h0M93.5 318.3h0M86.8 315.0h0M106.0 316.4h0M92.6 325.2h0M106.0 316.1h0M102.9 309.0h0M91.3 326.6h0M89.4 322.1h0M89.7 328.6h0M107.9 316.9h0M91.5 326.8h0M97.4 316.8h0M96.3 321.3h0M105.4 330.5h0M90.5 326.0h0M106.8 321.0h0M104.8 329.0h0M102.1 326.9h0M88.3 316.0h0M104.1 328.3h0M88.0 325.1h0M102.3 312.9h0" stroke="#000" stroke-width="1.8" stroke-linecap="round"/>
<rect x="115.7" y="303.9" width="30.3" height="32.7" fill="#e2e2e2"/>
<circle cx="130.9" cy="320.4" r="14.5" fill="#f4f4f4" stroke="#aaa" stroke-width="0.7"/>
<path d="M124.9 311.3h0M122.9 314.5h0M125.7 326.1h0M132.1 316.6h0M137.5 326.0h0M138.2 313.7h0M120.7 322.4h0M133.8 329.1h0M135.2 325.7h0M132.1 327.7h0M132.7 315.1h0M127.5 314.3h0M134.7 326.5h0M131.7 320.5h0M126.9 323.9h0M132.9 312.5h0M138.0 323.9h0M121.3 326.8h0M128.2 313.7h0M131.6 327.9h0M128.1 321.5h0M127.6 313.3h0M139.9 314.5h0M124.9 327.2h0M142.1 316.0h0M133.9 332.5h0M142.4 323.6h0M122.2 318.4h0M142.9 322.6h0M118.6 321.1h0M128.4 322.9h0M135.9 327.7h0M133.0 319.4h0M120.7 314.2h0M130.8 329.0h0M123.5 325.3h0M135.7 328.3h0M135.8 328.9h0M123.4 323.5h0M134.6 328.2h0M139.2 317.1h0M136.3 315.9h0M123.0 319.0h0M135.3 324.0h0M139.8 317.5h0M119.8 315.3h0M135.5 313.7h0M126.2 325.8h0M132.9 316.4h0M137.6 329.9h0M131.4 314.4h0M123.0 328.0h0M135.9 326.2h0M124.9 321.2h0M125.0 325.3h0M126.4 311.2h0M128.2 307.5h0M138.3 317.5h0M136.9 331.1h0M136.9 328.1h0M123.3 312.7h0M137.9 314.9h0M118.0 323.7h0M138.8 317.3h0M142.6 323.5h0M122.9 311.9h0M130.1 318.8h0M135.5 326.0h0M123.4 312.8h0M135.2 320.7h0M123.8 328.5h0M123.3 315.9h0M126.6 324.5h0M123.2 321.4h0M131.7 312.2h0" stroke="#000" stroke-width="0.8" stroke-linecap="round"/>
<path d="M121.6 326.3h0M138.0 328.5h0M127.6 315.1h0M127.1 320.2h0M136.0 323.3h0M125.2 324.6h0M138.5 316.1h0M125.5 326.4h0M129.5 311.0h0M121.6 326.7h0M135.3 326.8h0M131.0 324.9h0M128.8 320.4h0M136.2 316.1h0M137.6 314.7h0M122.7 326.7h0M140.3 324.0h0M122.0 325.4h0M124.0 316.6h0M134.6 308.4h0M133.5 326.8h0M137.8 327.3h0M133.4 323.5h0M135.2 323.8h0M127.8 316.1h0M138.9 320.8h0M129.2 315.3h0M132.3 330.1h0M135.5 325.6h0M123.4 328.8h0M121.8 313.0h0M126.7 313.9h0M135.7 325.9h0M142.4 324.4h0M141.0 314.5h0M126.7 324.7h0M143.5 322.1h0M133.9 311.4h0M125.4 314.2h0M127.3 312.5h0M125.3 329.6h0M122.6 327.2h0M142.5 319.4h0M129.7 311.6h0M136.9 328.8h0M131.3 312.7h0M139.7 312.3h0M125.6 326.7h0M137.7 327.4h0M139.0 318.0h0M122.0 328.0h0M128.0 318.3h0M140.6 316.6h0M135.7 326.4h0M135.1 328.2h0M123.1 315.5h0M138.6 317.2h0M132.9 311.4h0M124.5 326.6h0M125.0 325.3h0M134.8 325.4h0M140.2 321.7h0M139.4 325.4h0M137.8 309.9h0M123.9 312.5h0M137.6 318.1h0M132.8 309.6h0M125.4 325.8h0M134.4 330.0h0M136.1 310.1h0M126.5 326.1h0M125.8 328.1h0M130.3 307.2h0M132.5 311.8h0M124.3 310.1h0M135.9 310.7h0M139.6 316.5h0M136.0 315.8h0M138.8 313.2h0M122.9 315.0h0M132.7 319.3h0M118.8 325.6h0M133.7 323.4h0M128.4 315.2h0M139.2 310.8h0" stroke="#000" stroke-width="1.8" stroke-linecap="round"/>
<text x="83.6" y="346.81" font-size="8.4" font-weight="bold" text-anchor="start" fill="#000" textLength="45.5" lengthAdjust="spacingAndGlyphs" stroke="#000" stroke-width="0.18">Cal 27 cells</text>
<line x1="180.4" y1="291.5" x2="180.4" y2="343.7" stroke="#000" stroke-width="0.7"/>
<line x1="178.6" y1="343.7" x2="180.4" y2="343.7" stroke="#000" stroke-width="0.7"/>
<text x="178" y="345.06" font-size="3.8" font-weight="bold" text-anchor="end" fill="#222">0</text>
<line x1="178.6" y1="330.87" x2="180.4" y2="330.87" stroke="#000" stroke-width="0.7"/>
<text x="178" y="332.23" font-size="3.8" font-weight="bold" text-anchor="end" fill="#222">20</text>
<line x1="178.6" y1="318.05" x2="180.4" y2="318.05" stroke="#000" stroke-width="0.7"/>
<text x="178" y="319.41" font-size="3.8" font-weight="bold" text-anchor="end" fill="#222">40</text>
<line x1="178.6" y1="305.22" x2="180.4" y2="305.22" stroke="#000" stroke-width="0.7"/>
<text x="178" y="306.58" font-size="3.8" font-weight="bold" text-anchor="end" fill="#222">60</text>
<line x1="178.6" y1="292.4" x2="180.4" y2="292.4" stroke="#000" stroke-width="0.7"/>
<text x="178" y="293.76" font-size="3.8" font-weight="bold" text-anchor="end" fill="#222">80</text>
<line x1="180.4" y1="343.7" x2="214.5" y2="343.7" stroke="#000" stroke-width="0.7"/>
<rect x="183.3" y="337.29" width="7" height="6.41" fill="#000" stroke="#111" stroke-width="0.6"/>
<line x1="186.8" y1="337.29" x2="186.8" y2="335.36" stroke="#000" stroke-width="0.6"/>
<line x1="185.3" y1="335.36" x2="188.3" y2="335.36" stroke="#000" stroke-width="0.6"/>
<rect x="194.2" y="319.97" width="6.5" height="23.73" fill="#b4b4b4" stroke="#111" stroke-width="0.6"/>
<line x1="197.45" y1="319.97" x2="197.45" y2="317.41" stroke="#000" stroke-width="0.6"/>
<line x1="195.95" y1="317.41" x2="198.95" y2="317.41" stroke="#000" stroke-width="0.6"/>
<rect x="204.1" y="302.02" width="6.8" height="41.68" fill="#8c8c8c" stroke="#111" stroke-width="0.6"/>
<line x1="207.5" y1="302.02" x2="207.5" y2="298.17" stroke="#000" stroke-width="0.6"/>
<line x1="206" y1="298.17" x2="209" y2="298.17" stroke="#000" stroke-width="0.6"/>
<path d="M186.2 295.6 V292.8 H208 V295.6" fill="none" stroke="#000" stroke-width="0.8"/>
<text x="197.1" y="286.2" font-size="7" font-weight="bold" text-anchor="middle" fill="#000" dy="4.34" stroke="#000" stroke-width="0.18">*</text>
<path d="M186.2 302.2 V298.2 H198.1 V302.2" fill="none" stroke="#000" stroke-width="0.8"/>
<text x="191.7" y="292.3" font-size="7" font-weight="bold" text-anchor="middle" fill="#000" dy="4.34" stroke="#000" stroke-width="0.18">*</text>
<rect x="216" y="292.4" width="5.1" height="2.8" fill="#000" stroke="#222" stroke-width="0.4"/>
<rect x="216" y="299.4" width="5.1" height="2.8" fill="#b4b4b4" stroke="#222" stroke-width="0.4"/>
<rect x="216" y="306.2" width="5.1" height="2.8" fill="#8c8c8c" stroke="#222" stroke-width="0.4"/>
<text x="223.6" y="295.52" font-size="4.8" font-weight="bold" text-anchor="start" fill="#000" textLength="14.9" lengthAdjust="spacingAndGlyphs">Control</text>
<text x="223.6" y="302.52" font-size="4.8" font-weight="bold" text-anchor="start" fill="#000" textLength="7" lengthAdjust="spacingAndGlyphs">KD1</text>
<text x="223.6" y="309.32" font-size="4.8" font-weight="bold" text-anchor="start" fill="#000" textLength="7.2" lengthAdjust="spacingAndGlyphs">KD2</text>
<text x="170.51" y="317.1" font-size="7" font-weight="bold" text-anchor="middle" fill="#000" transform="rotate(-90 170.51 317.1)" textLength="40.8" lengthAdjust="spacingAndGlyphs" stroke="#000" stroke-width="0.18">Colony number</text>
<text x="187.71" y="348.11" font-size="4.4" font-weight="bold" text-anchor="end" fill="#000" transform="rotate(-45 187.71 348.11)" textLength="14" lengthAdjust="spacingAndGlyphs">Control</text>
<text x="198.41" y="348.11" font-size="4.4" font-weight="bold" text-anchor="end" fill="#000" transform="rotate(-45 198.41 348.11)" textLength="7" lengthAdjust="spacingAndGlyphs">KD1</text>
<text x="209.01" y="348.11" font-size="4.4" font-weight="bold" text-anchor="end" fill="#000" transform="rotate(-45 209.01 348.11)" textLength="7" lengthAdjust="spacingAndGlyphs">KD2</text>
<text x="299.9" y="300.28" font-size="5.8" font-weight="bold" text-anchor="start" fill="#000" textLength="20.6" lengthAdjust="spacingAndGlyphs" stroke="#000" stroke-width="0.18">Control</text>
<text x="334.3" y="299.45" font-size="6" font-weight="bold" text-anchor="start" fill="#000" textLength="11.1" lengthAdjust="spacingAndGlyphs" stroke="#000" stroke-width="0.18">KD1</text>
<text x="364.5" y="300.75" font-size="6" font-weight="bold" text-anchor="start" fill="#000" textLength="11.4" lengthAdjust="spacingAndGlyphs" stroke="#000" stroke-width="0.18">KD2</text>
<rect x="296.7" y="303.7" width="90.7" height="32.1" fill="#d6d6d6"/>
<rect x="296.7" y="303.7" width="90.7" height="2.8" fill="#e4e4e4"/>
<circle cx="311" cy="320.3" r="14.2" fill="#dadada" stroke="#777" stroke-width="0.6"/>
<path d="M314.3 311.6h0M321.5 325.2h0M322.1 321.9h0M305.4 320.8h0M299.4 322.5h0M312.1 314.5h0M314.4 320.4h0M304.4 317.1h0M311.1 325.6h0M312.3 312.5h0M305.5 309.3h0M300.2 327.4h0M304.7 309.4h0M317.9 323.5h0M306.0 308.6h0M310.3 327.7h0M306.4 310.0h0M313.7 323.3h0M315.0 329.9h0M301.3 327.7h0M316.0 331.2h0M308.6 311.0h0M303.7 314.7h0M316.4 314.1h0M310.8 313.9h0M314.9 319.0h0M308.3 330.2h0M321.8 324.9h0M313.8 322.5h0M309.6 311.6h0M305.0 324.7h0M302.4 310.9h0M308.2 327.8h0M310.2 316.5h0M310.6 311.5h0M313.1 327.5h0M298.4 319.1h0M318.5 314.8h0M321.4 327.8h0M320.1 321.4h0M311.1 321.4h0M310.5 320.8h0M308.2 319.8h0M300.4 326.4h0M312.3 319.1h0M321.8 326.3h0M307.9 330.1h0M308.2 315.4h0M302.9 318.3h0M309.7 311.0h0M308.3 325.7h0M309.6 310.3h0M317.3 330.5h0M319.9 314.4h0M306.6 310.8h0M321.7 315.8h0M302.2 313.3h0M316.4 316.9h0M321.8 317.1h0M318.4 314.6h0M312.5 309.1h0M312.6 329.1h0M302.4 318.2h0M314.6 309.8h0M299.5 314.3h0M310.0 318.4h0M303.0 317.0h0M314.3 308.2h0M304.8 316.1h0M310.8 313.8h0M319.1 326.5h0M319.3 315.8h0M312.7 324.9h0M310.1 332.1h0M319.7 328.8h0M305.2 313.7h0M317.3 310.8h0M308.1 324.5h0" stroke="#6a6a6a" stroke-width="0.5" stroke-linecap="round"/>
<path d="M316.5 329.6h0M305.0 321.1h0M311.4 318.8h0M320.5 315.2h0M322.2 320.1h0M309.2 318.7h0M300.5 317.6h0M319.9 329.1h0M316.9 329.7h0M317.4 326.5h0M314.8 332.2h0M307.7 332.6h0M307.3 328.5h0M314.9 321.0h0M313.3 325.2h0M314.8 313.8h0M317.8 314.2h0M312.8 323.2h0M312.4 311.4h0M317.3 322.4h0M317.3 321.7h0M322.2 319.1h0M315.6 321.8h0M316.9 321.4h0M314.4 308.6h0M298.7 321.5h0M307.6 329.2h0M318.1 328.8h0M316.9 312.3h0M315.0 322.3h0M317.7 327.1h0M311.3 319.2h0M314.8 315.3h0M306.5 331.8h0M315.8 309.7h0M299.9 319.7h0M306.5 326.1h0M302.8 312.0h0M298.4 319.9h0M301.8 322.0h0M312.9 321.2h0M317.6 322.1h0M316.3 321.6h0M308.5 308.3h0M303.1 312.2h0M311.4 332.7h0M314.1 325.3h0M317.3 323.7h0M316.3 320.0h0M310.1 332.9h0M305.4 316.3h0M315.5 327.1h0M301.6 324.2h0M305.9 311.0h0M322.4 322.8h0M304.1 325.5h0M317.0 324.3h0M318.7 329.0h0M312.8 331.8h0M316.3 327.8h0M299.6 322.4h0M313.9 324.5h0M308.5 315.2h0M307.9 324.5h0M309.2 331.7h0M313.3 323.8h0M318.8 321.3h0M319.0 318.8h0M315.6 317.5h0M316.3 332.0h0M314.5 332.8h0M312.8 309.3h0M304.6 328.8h0M299.4 314.6h0M310.7 314.3h0M316.6 329.3h0M310.8 328.8h0M312.8 313.0h0M319.0 320.0h0M322.2 322.6h0M298.9 321.4h0M302.2 320.3h0M318.5 311.9h0M304.8 311.1h0M318.2 329.7h0M306.3 319.9h0M313.2 330.9h0M317.3 320.2h0M301.5 321.0h0M309.3 321.1h0M316.1 326.7h0M305.2 322.6h0" stroke="#6a6a6a" stroke-width="1.1" stroke-linecap="round"/>
<circle cx="340.6" cy="320.3" r="14.2" fill="#cdcdcd" stroke="#777" stroke-width="0.6"/>
<path d="M345.3 319.0h0M334.0 314.6h0M339.8 308.1h0M339.9 317.5h0M334.5 316.4h0M342.4 324.2h0M343.9 327.8h0M339.4 326.9h0M333.7 323.5h0M332.3 319.4h0M337.8 327.7h0M350.0 327.0h0M352.1 314.9h0M337.3 322.7h0M346.0 331.5h0M337.5 321.4h0M343.6 310.3h0M338.3 316.9h0M344.9 321.5h0M335.6 314.6h0M342.2 323.5h0M337.9 323.9h0M331.7 318.4h0M343.5 326.5h0M334.4 329.6h0M348.4 322.2h0M334.3 321.7h0M350.1 328.4h0M349.4 322.7h0M338.7 331.5h0M331.9 310.8h0M334.0 330.4h0M337.6 310.6h0M343.2 326.6h0M336.7 309.2h0M333.0 320.3h0M332.6 327.2h0M339.0 322.9h0M343.2 327.7h0M329.4 318.4h0M347.6 326.4h0M344.7 309.2h0M335.9 329.9h0M340.3 319.6h0M350.2 312.2h0M334.6 319.8h0M345.6 310.2h0M334.4 322.5h0M336.1 325.6h0M342.3 313.8h0M330.9 318.0h0M339.7 332.4h0M331.6 315.8h0M343.0 312.7h0M331.6 329.4h0M338.1 316.8h0M347.5 330.9h0M338.8 313.9h0M335.2 321.1h0M341.3 325.8h0M334.7 315.1h0M335.6 319.1h0M332.9 322.7h0M335.2 324.8h0M352.5 315.1h0M336.0 323.5h0M341.5 321.9h0M339.7 312.5h0M328.6 315.7h0M343.7 327.8h0M346.3 325.5h0M343.8 326.1h0M349.7 328.3h0M333.1 330.9h0M335.4 311.0h0M342.5 326.0h0M338.6 324.6h0M346.2 317.7h0M347.0 325.7h0M340.6 312.0h0M341.1 308.9h0M339.4 322.8h0M335.8 310.6h0M347.3 325.4h0M335.6 324.4h0M335.5 318.6h0M327.6 320.9h0M341.4 328.8h0M351.1 317.3h0M340.7 309.2h0M337.7 320.9h0M348.3 319.5h0M337.8 319.9h0M351.7 318.2h0M330.1 315.3h0M348.5 322.2h0M351.5 318.0h0M352.3 319.2h0M335.3 319.1h0M344.1 328.3h0M333.3 317.7h0M340.7 332.8h0M337.7 330.6h0M331.9 311.4h0M347.0 317.3h0M329.3 320.1h0M329.4 314.5h0M331.5 323.9h0M339.4 314.9h0M333.6 311.3h0M347.2 311.7h0M340.6 327.5h0" stroke="#666" stroke-width="0.5" stroke-linecap="round"/>
<path d="M342.1 333.0h0M346.0 319.5h0M337.4 310.7h0M334.9 323.5h0M337.7 329.9h0M341.2 308.0h0M351.6 327.1h0M345.2 328.8h0M330.6 326.6h0M329.4 313.7h0M337.3 320.8h0M344.8 319.1h0M342.2 319.7h0M333.7 313.0h0M331.7 315.3h0M343.7 331.1h0M350.9 323.6h0M346.1 331.8h0M349.2 323.5h0M332.6 323.3h0M345.9 330.7h0M338.4 332.1h0M333.9 329.8h0M339.6 316.6h0M329.3 315.0h0M328.0 319.9h0M332.2 316.0h0M350.1 313.5h0M352.3 324.7h0M347.5 325.5h0M345.1 317.8h0M333.9 324.2h0M337.3 329.3h0M347.9 315.3h0M342.5 316.3h0M338.1 325.0h0M347.5 323.5h0M347.8 328.1h0M331.9 324.1h0M336.0 309.5h0M344.7 318.6h0M340.7 316.6h0M353.0 321.9h0M347.5 317.2h0M330.2 323.8h0M336.3 312.7h0M342.1 329.7h0M335.7 316.2h0M335.2 317.3h0M350.3 323.2h0M337.3 322.8h0M345.9 320.7h0M337.0 310.3h0M333.4 318.6h0M345.0 311.8h0M335.3 314.9h0M341.0 316.3h0M339.8 330.1h0M348.1 330.1h0M328.3 319.4h0M339.2 322.0h0M352.0 323.3h0M343.6 328.2h0M335.7 315.0h0M344.9 309.7h0M340.5 319.0h0M328.5 318.4h0M342.8 325.9h0M342.7 320.9h0M332.4 310.6h0M342.6 310.3h0M340.4 324.8h0M352.8 318.0h0M330.3 314.4h0M340.5 318.4h0M350.3 326.1h0M341.4 330.0h0M341.1 324.9h0M338.8 319.3h0M349.4 317.1h0M332.1 329.7h0M346.5 324.2h0M337.5 326.3h0M338.4 307.7h0M341.9 307.5h0M343.7 314.1h0M351.9 317.9h0M344.2 312.2h0M328.5 324.6h0M347.2 324.3h0M346.0 324.9h0M351.3 315.8h0M328.1 317.2h0M335.3 323.9h0M332.0 329.2h0M339.4 321.6h0M328.0 321.6h0M347.1 320.7h0M351.7 322.2h0M336.7 318.0h0M344.9 323.3h0M337.7 330.2h0M348.3 320.3h0M336.7 319.6h0M349.6 329.3h0M340.2 331.6h0M336.4 331.9h0M344.7 323.6h0M338.0 324.7h0M335.2 314.4h0M352.3 323.7h0M340.2 316.4h0M341.3 309.9h0M351.8 315.3h0M344.8 319.9h0M338.7 324.4h0M348.1 316.8h0M345.8 319.2h0" stroke="#666" stroke-width="1.1" stroke-linecap="round"/>
<circle cx="372.1" cy="320.3" r="14.2" fill="#bababa" stroke="#777" stroke-width="0.6"/>
<path d="M383.4 314.5h0M367.5 319.4h0M370.1 322.7h0M363.2 314.7h0M361.6 315.1h0M369.7 315.6h0M361.7 318.1h0M365.8 318.3h0M372.8 329.9h0M377.1 318.5h0M380.0 323.2h0M375.3 325.6h0M383.6 318.4h0M359.6 317.2h0M377.9 318.4h0M362.3 316.7h0M371.9 328.7h0M383.6 325.7h0M373.4 310.7h0M374.1 316.5h0M372.2 333.0h0M366.4 329.5h0M380.1 320.5h0M372.1 312.1h0M361.4 321.6h0M365.1 319.1h0M378.9 326.0h0M370.1 331.5h0M376.3 315.2h0M375.1 329.6h0M371.1 323.8h0M376.5 321.4h0M376.9 319.9h0M361.8 315.5h0M379.7 321.7h0M383.4 319.7h0M367.2 312.2h0M361.9 323.2h0M368.6 325.1h0M374.1 328.3h0M363.6 329.7h0M368.0 312.7h0M380.8 319.3h0M365.9 325.4h0M371.2 315.5h0M367.7 319.1h0M373.4 321.5h0M366.2 329.8h0M374.6 310.8h0M382.7 324.8h0M376.3 319.5h0M378.2 309.1h0M369.7 307.8h0M382.5 319.8h0M381.4 315.2h0M369.5 316.4h0M361.0 321.1h0M375.2 310.4h0M367.2 329.7h0M375.0 315.1h0M375.1 324.1h0M365.7 314.7h0M375.5 311.6h0M375.7 314.6h0M377.0 310.4h0M378.5 325.9h0M372.6 316.2h0M367.1 321.6h0M367.1 328.7h0M373.9 309.3h0M379.3 323.7h0M372.6 311.6h0M364.2 328.1h0M362.5 316.1h0M381.9 316.9h0M365.9 324.7h0M372.9 321.9h0M378.5 315.8h0M371.6 332.8h0M367.2 308.4h0M380.1 314.3h0M376.4 322.1h0M378.5 326.0h0M383.4 313.9h0M374.6 320.2h0M362.0 317.6h0M373.9 310.9h0M369.0 315.5h0M369.9 331.7h0M382.1 328.5h0M367.0 323.1h0M377.1 331.0h0M363.8 319.6h0M367.2 323.3h0M376.3 308.7h0M369.0 310.9h0M376.8 316.3h0M372.8 315.6h0M376.1 321.9h0M363.1 318.7h0M378.8 313.3h0M372.6 330.4h0M365.9 331.2h0M372.8 332.6h0M367.6 308.8h0M361.3 314.4h0M373.5 328.7h0M363.7 318.0h0M368.5 320.7h0M360.1 318.4h0M383.5 322.6h0M377.6 318.3h0M379.4 311.4h0M378.1 329.6h0M379.6 330.3h0M372.8 311.6h0M364.1 316.7h0M373.7 325.3h0M375.2 322.0h0M373.3 330.3h0M372.2 327.8h0M365.5 318.8h0M376.6 320.7h0M362.6 313.5h0M369.1 330.1h0M372.8 309.5h0M377.0 326.3h0M365.9 325.8h0M382.8 317.9h0M380.6 325.1h0M371.3 324.6h0M363.9 330.1h0M373.6 331.0h0M368.9 313.3h0M382.5 317.0h0M377.1 312.4h0M366.0 326.4h0M367.9 311.8h0M369.1 330.6h0M366.8 328.7h0M373.4 325.0h0M370.8 333.2h0M365.0 327.5h0M377.5 309.7h0M361.8 323.7h0M368.3 329.3h0M369.9 311.7h0M379.2 321.0h0M364.4 320.7h0M372.0 319.6h0M381.2 313.3h0M383.9 324.5h0M373.0 330.8h0M370.7 328.9h0M383.9 324.6h0" stroke="#505050" stroke-width="0.5" stroke-linecap="round"/>
<path d="M379.3 321.1h0M371.9 321.8h0M375.5 317.8h0M363.9 324.7h0M379.8 318.9h0M378.9 318.9h0M370.1 310.5h0M368.9 318.5h0M378.7 322.0h0M375.3 313.5h0M379.8 314.7h0M368.8 317.2h0M364.8 330.9h0M369.6 320.4h0M366.5 321.5h0M364.9 322.9h0M376.9 309.0h0M364.0 317.9h0M367.3 328.7h0M373.0 330.0h0M376.1 308.0h0M376.1 328.0h0M380.2 317.9h0M372.6 323.5h0M370.9 321.5h0M366.6 316.0h0M362.4 326.7h0M379.5 318.4h0M383.9 323.6h0M372.6 308.1h0M369.2 312.8h0M377.1 319.9h0M372.3 333.2h0M383.4 323.4h0M376.0 328.7h0M378.5 317.4h0M364.1 314.3h0M375.8 315.7h0M360.3 317.8h0M371.7 307.8h0M364.1 330.4h0M373.4 318.0h0M382.9 323.1h0M376.5 311.3h0M365.8 325.0h0M381.4 318.4h0M374.3 315.2h0M382.6 319.1h0M371.4 311.9h0M383.1 318.5h0M372.2 308.6h0M362.5 325.3h0M366.4 319.2h0M373.6 313.2h0M360.9 325.6h0M369.9 316.5h0M365.3 319.8h0M371.3 332.8h0M372.7 310.5h0M373.0 321.5h0M381.2 320.8h0M374.7 329.1h0M378.3 328.6h0M378.5 330.8h0M371.5 311.5h0M368.5 331.4h0M373.1 316.2h0M384.0 322.1h0M370.6 316.3h0M368.2 322.8h0M359.5 318.5h0M369.6 315.4h0M377.1 309.1h0M360.5 316.6h0M364.7 330.4h0M366.0 310.0h0M362.7 313.3h0M364.7 320.7h0M367.0 328.4h0M373.8 317.9h0M369.6 323.6h0M367.2 328.8h0M378.9 311.2h0M370.6 308.5h0M373.2 321.4h0M382.3 314.1h0M374.4 314.1h0M376.9 329.3h0M383.9 315.4h0M380.2 328.0h0M372.3 321.4h0M372.0 319.6h0M381.7 322.7h0M383.4 316.2h0M381.3 320.7h0M372.3 320.0h0M368.3 320.6h0M378.1 311.2h0M365.2 312.3h0M369.1 331.2h0M378.7 323.6h0M364.2 318.6h0M375.4 313.1h0M383.9 323.8h0M372.7 326.3h0M363.6 315.6h0M376.5 331.1h0M362.0 323.0h0M366.1 329.9h0M382.5 317.7h0M376.1 316.2h0M374.9 319.6h0M375.3 329.2h0M376.8 318.5h0M372.2 316.1h0M377.4 316.9h0M367.7 317.0h0M366.3 314.6h0M367.8 331.6h0M375.3 316.9h0M371.0 312.3h0M373.0 313.8h0M364.3 310.3h0M372.6 324.7h0M371.5 318.5h0M365.6 312.7h0M379.5 326.7h0M375.3 312.6h0M371.1 308.2h0M372.6 309.3h0M379.1 317.1h0M366.6 315.3h0M376.4 324.6h0M372.8 319.1h0M377.7 329.2h0M363.9 320.2h0M367.7 319.3h0M365.5 322.6h0M381.6 327.3h0M380.2 313.9h0M367.4 310.0h0M381.6 316.4h0M375.7 321.3h0M366.3 309.8h0M373.0 312.9h0" stroke="#505050" stroke-width="1.1" stroke-linecap="round"/>
<text x="326.8" y="346.61" font-size="8.4" font-weight="bold" text-anchor="start" fill="#000" textLength="46.2" lengthAdjust="spacingAndGlyphs" stroke="#000" stroke-width="0.18">SCC-9 cells</text>
<line x1="434.2" y1="291.6" x2="434.2" y2="341.8" stroke="#000" stroke-width="0.7"/>
<line x1="432.4" y1="341.8" x2="434.2" y2="341.8" stroke="#000" stroke-width="0.7"/>
<text x="431.8" y="343.16" font-size="3.8" font-weight="bold" text-anchor="end" fill="#222">0</text>
<line x1="432.4" y1="331.91" x2="434.2" y2="331.91" stroke="#000" stroke-width="0.7"/>
<text x="431.8" y="333.27" font-size="3.8" font-weight="bold" text-anchor="end" fill="#222">20</text>
<line x1="432.4" y1="322.02" x2="434.2" y2="322.02" stroke="#000" stroke-width="0.7"/>
<text x="431.8" y="323.38" font-size="3.8" font-weight="bold" text-anchor="end" fill="#222">40</text>
<line x1="432.4" y1="312.13" x2="434.2" y2="312.13" stroke="#000" stroke-width="0.7"/>
<text x="431.8" y="313.49" font-size="3.8" font-weight="bold" text-anchor="end" fill="#222">60</text>
<line x1="432.4" y1="302.24" x2="434.2" y2="302.24" stroke="#000" stroke-width="0.7"/>
<text x="431.8" y="303.6" font-size="3.8" font-weight="bold" text-anchor="end" fill="#222">80</text>
<line x1="432.4" y1="292.35" x2="434.2" y2="292.35" stroke="#000" stroke-width="0.7"/>
<text x="431.8" y="293.71" font-size="3.8" font-weight="bold" text-anchor="end" fill="#222">100</text>
<line x1="434.2" y1="341.8" x2="467" y2="341.8" stroke="#000" stroke-width="0.7"/>
<rect x="438.8" y="335.87" width="6.1" height="5.93" fill="#000" stroke="#111" stroke-width="0.6"/>
<line x1="441.85" y1="335.87" x2="441.85" y2="333.39" stroke="#000" stroke-width="0.6"/>
<line x1="440.35" y1="333.39" x2="443.35" y2="333.39" stroke="#000" stroke-width="0.6"/>
<rect x="448.7" y="323.01" width="6.3" height="18.79" fill="#b4b4b4" stroke="#111" stroke-width="0.6"/>
<line x1="451.85" y1="323.01" x2="451.85" y2="321.03" stroke="#000" stroke-width="0.6"/>
<line x1="450.35" y1="321.03" x2="453.35" y2="321.03" stroke="#000" stroke-width="0.6"/>
<rect x="458.9" y="301.75" width="6.3" height="40.05" fill="#8c8c8c" stroke="#111" stroke-width="0.6"/>
<line x1="462.05" y1="301.75" x2="462.05" y2="299.77" stroke="#000" stroke-width="0.6"/>
<line x1="460.55" y1="299.77" x2="463.55" y2="299.77" stroke="#000" stroke-width="0.6"/>
<path d="M441.8 295.5 V292.9 H462.2 V295.5" fill="none" stroke="#000" stroke-width="0.8"/>
<text x="452" y="286.6" font-size="7" font-weight="bold" text-anchor="middle" fill="#000" dy="4.34" stroke="#000" stroke-width="0.18">*</text>
<path d="M441.8 304.3 V300.5 H450.7 V304.3" fill="none" stroke="#000" stroke-width="0.8"/>
<text x="446.4" y="294.2" font-size="7" font-weight="bold" text-anchor="middle" fill="#000" dy="4.34" stroke="#000" stroke-width="0.18">*</text>
<rect x="469" y="291" width="6" height="2.8" fill="#000" stroke="#222" stroke-width="0.4"/>
<rect x="469" y="298.4" width="6" height="2.8" fill="#b4b4b4" stroke="#222" stroke-width="0.4"/>
<rect x="469" y="305.5" width="6" height="2.8" fill="#8c8c8c" stroke="#222" stroke-width="0.4"/>
<text x="476.7" y="294.12" font-size="4.8" font-weight="bold" text-anchor="start" fill="#000" textLength="15" lengthAdjust="spacingAndGlyphs">Control</text>
<text x="476.7" y="301.52" font-size="4.8" font-weight="bold" text-anchor="start" fill="#000" textLength="7" lengthAdjust="spacingAndGlyphs">KD1</text>
<text x="476.7" y="308.62" font-size="4.8" font-weight="bold" text-anchor="start" fill="#000" textLength="7.2" lengthAdjust="spacingAndGlyphs">KD2</text>
<text x="426.31" y="317.6" font-size="7" font-weight="bold" text-anchor="middle" fill="#000" transform="rotate(-90 426.31 317.6)" textLength="41.9" lengthAdjust="spacingAndGlyphs" stroke="#000" stroke-width="0.18">Colony number</text>
<text x="443.11" y="346.11" font-size="4.4" font-weight="bold" text-anchor="end" fill="#000" transform="rotate(-45 443.11 346.11)" textLength="14" lengthAdjust="spacingAndGlyphs">Control</text>
<text x="453.11" y="346.11" font-size="4.4" font-weight="bold" text-anchor="end" fill="#000" transform="rotate(-45 453.11 346.11)" textLength="7" lengthAdjust="spacingAndGlyphs">KD1</text>
<text x="463.11" y="346.11" font-size="4.4" font-weight="bold" text-anchor="end" fill="#000" transform="rotate(-45 463.11 346.11)" textLength="7" lengthAdjust="spacingAndGlyphs">KD2</text>
<text x="37.7" y="381.29" font-size="12" font-weight="bold">F</text>
<text x="51.8" y="391.72" font-size="6.2" font-weight="bold" text-anchor="start" fill="#000" textLength="20.4" lengthAdjust="spacingAndGlyphs" stroke="#000" stroke-width="0.18">Control</text>
<text x="131.8" y="392.42" font-size="6.2" font-weight="bold" text-anchor="middle" fill="#000" textLength="11.6" lengthAdjust="spacingAndGlyphs" stroke="#000" stroke-width="0.18">KD1</text>
<text x="190.9" y="393.12" font-size="6.2" font-weight="bold" text-anchor="middle" fill="#000" textLength="11.8" lengthAdjust="spacingAndGlyphs" stroke="#000" stroke-width="0.18">KD2</text>
<g clip-path="url(#cw1)">
<rect x="39" y="396.3" width="58.8" height="36.5" fill="#7e84a0"/>
<rect x="39" y="396.3" width="58.8" height="36.5" fill="#000" filter="url(#nW)"/>
<rect x="39" y="396.3" width="58.8" height="36.5" fill="#000" filter="url(#nWd)"/>
<rect x="50.4" y="396.3" width="36" height="36.5" fill="url(#g1)"/>
</g>
<line x1="50.4" y1="396.3" x2="50.4" y2="432.8" stroke="#111" stroke-width="1"/>
<line x1="86.4" y1="396.3" x2="86.4" y2="432.8" stroke="#111" stroke-width="1"/>
<g clip-path="url(#cw2)">
<rect x="39" y="436.6" width="58.8" height="37.7" fill="#9ca0b6"/>
<rect x="39" y="436.6" width="58.8" height="37.7" fill="#000" filter="url(#nW)"/>
<rect x="39" y="436.6" width="58.8" height="37.7" fill="#000" filter="url(#nWd)"/>
<rect x="54.2" y="436.6" width="31" height="37.7" fill="url(#g2)"/>
</g>
<line x1="54.2" y1="436.6" x2="54.2" y2="474.3" stroke="#111" stroke-width="1"/>
<line x1="85.2" y1="436.6" x2="85.2" y2="474.3" stroke="#111" stroke-width="1"/>
<g clip-path="url(#cw3)">
<rect x="102.4" y="396.8" width="54.4" height="37.1" fill="#9aa0bc"/>
<rect x="102.4" y="396.8" width="54.4" height="37.1" fill="#000" filter="url(#nW)"/>
<rect x="102.4" y="396.8" width="54.4" height="37.1" fill="#000" filter="url(#nWd)"/>
<rect x="111.4" y="396.8" width="33.6" height="37.1" fill="url(#g3)"/>
</g>
<line x1="111.4" y1="396.8" x2="111.4" y2="433.9" stroke="#111" stroke-width="1"/>
<line x1="145" y1="396.8" x2="145" y2="433.9" stroke="#111" stroke-width="1"/>
<g clip-path="url(#cw4)">
<rect x="102.4" y="436.2" width="54.4" height="37.4" fill="#9c9ca6"/>
<rect x="102.4" y="436.2" width="54.4" height="37.4" fill="#000" filter="url(#nW)"/>
<rect x="102.4" y="436.2" width="54.4" height="37.4" fill="#000" filter="url(#nWd)"/>
<rect x="117" y="436.2" width="27.8" height="37.4" fill="url(#g4)"/>
</g>
<line x1="117" y1="436.2" x2="117" y2="473.6" stroke="#111" stroke-width="1"/>
<line x1="144.8" y1="436.2" x2="144.8" y2="473.6" stroke="#111" stroke-width="1"/>
<g clip-path="url(#cw5)">
<rect x="160.9" y="396.8" width="57.4" height="37.1" fill="#787486"/>
<rect x="160.9" y="396.8" width="57.4" height="37.1" fill="#000" filter="url(#nWs)"/>
<rect x="160.9" y="396.8" width="57.4" height="37.1" fill="#000" filter="url(#nWsd)"/>
<rect x="175.5" y="396.8" width="31.3" height="37.1" fill="#827e8e"/>
</g>
<line x1="175.5" y1="396.8" x2="175.5" y2="433.9" stroke="#111" stroke-width="1"/>
<line x1="206.8" y1="396.8" x2="206.8" y2="433.9" stroke="#111" stroke-width="1"/>
<g clip-path="url(#cw6)">
<rect x="160.9" y="436.2" width="57.4" height="37.4" fill="#8c888f"/>
<rect x="177.7" y="436.2" width="21.8" height="37.4" fill="#8f8b93"/>
</g>
<line x1="177.7" y1="436.2" x2="177.7" y2="473.6" stroke="#111" stroke-width="1"/>
<line x1="199.5" y1="436.2" x2="199.5" y2="473.6" stroke="#111" stroke-width="1"/>
<line x1="244.2" y1="401" x2="244.2" y2="453.6" stroke="#000" stroke-width="0.7"/>
<line x1="242.4" y1="453.6" x2="244.2" y2="453.6" stroke="#000" stroke-width="0.7"/>
<text x="241.8" y="454.96" font-size="3.8" font-weight="bold" text-anchor="end" fill="#222">0</text>
<line x1="242.4" y1="443.24" x2="244.2" y2="443.24" stroke="#000" stroke-width="0.7"/>
<text x="241.8" y="444.6" font-size="3.8" font-weight="bold" text-anchor="end" fill="#222">10</text>
<line x1="242.4" y1="432.88" x2="244.2" y2="432.88" stroke="#000" stroke-width="0.7"/>
<text x="241.8" y="434.24" font-size="3.8" font-weight="bold" text-anchor="end" fill="#222">20</text>
<line x1="242.4" y1="422.52" x2="244.2" y2="422.52" stroke="#000" stroke-width="0.7"/>
<text x="241.8" y="423.88" font-size="3.8" font-weight="bold" text-anchor="end" fill="#222">30</text>
<line x1="242.4" y1="412.16" x2="244.2" y2="412.16" stroke="#000" stroke-width="0.7"/>
<text x="241.8" y="413.52" font-size="3.8" font-weight="bold" text-anchor="end" fill="#222">40</text>
<line x1="242.4" y1="401.8" x2="244.2" y2="401.8" stroke="#000" stroke-width="0.7"/>
<text x="241.8" y="403.16" font-size="3.8" font-weight="bold" text-anchor="end" fill="#222">50</text>
<line x1="244.2" y1="453.6" x2="278.7" y2="453.6" stroke="#000" stroke-width="0.7"/>
<rect x="247.3" y="439.1" width="6.7" height="14.5" fill="#000" stroke="#111" stroke-width="0.6"/>
<line x1="250.65" y1="439.1" x2="250.65" y2="437.54" stroke="#000" stroke-width="0.6"/>
<line x1="249.15" y1="437.54" x2="252.15" y2="437.54" stroke="#000" stroke-width="0.6"/>
<rect x="258.2" y="420.45" width="6.3" height="33.15" fill="#b0b0b0" stroke="#111" stroke-width="0.6"/>
<line x1="261.35" y1="420.45" x2="261.35" y2="417.34" stroke="#000" stroke-width="0.6"/>
<line x1="259.85" y1="417.34" x2="262.85" y2="417.34" stroke="#000" stroke-width="0.6"/>
<rect x="268.5" y="411.12" width="6.4" height="42.48" fill="#8c8c8c" stroke="#111" stroke-width="0.6"/>
<line x1="271.7" y1="411.12" x2="271.7" y2="409.05" stroke="#000" stroke-width="0.6"/>
<line x1="270.2" y1="409.05" x2="273.2" y2="409.05" stroke="#000" stroke-width="0.6"/>
<path d="M250.4 405.8 V403.3 H271.5 V405.8" fill="none" stroke="#000" stroke-width="0.8"/>
<text x="261.3" y="397.5" font-size="7" font-weight="bold" text-anchor="middle" fill="#000" dy="4.34" stroke="#000" stroke-width="0.18">*</text>
<path d="M250.4 417.7 V414.5 H260.5 V417.7" fill="none" stroke="#000" stroke-width="0.8"/>
<text x="255" y="409" font-size="7" font-weight="bold" text-anchor="middle" fill="#000" dy="4.34" stroke="#000" stroke-width="0.18">*</text>
<rect x="279.5" y="403.5" width="6.5" height="3" fill="#000" stroke="#222" stroke-width="0.4"/>
<rect x="279.5" y="411.2" width="6.5" height="3" fill="#b0b0b0" stroke="#222" stroke-width="0.4"/>
<rect x="279.5" y="418" width="6.5" height="3" fill="#8c8c8c" stroke="#222" stroke-width="0.4"/>
<text x="287.8" y="406.65" font-size="4.6" font-weight="bold" text-anchor="start" fill="#000" textLength="14.5" lengthAdjust="spacingAndGlyphs">Control</text>
<text x="287.8" y="414.35" font-size="4.6" font-weight="bold" text-anchor="start" fill="#000" textLength="7" lengthAdjust="spacingAndGlyphs">KD1</text>
<text x="287.8" y="421.15" font-size="4.6" font-weight="bold" text-anchor="start" fill="#000" textLength="7.2" lengthAdjust="spacingAndGlyphs">KD2</text>
<text x="229.49" y="430.5" font-size="6.4" font-weight="bold" text-anchor="middle" fill="#000" transform="rotate(-90 229.49 430.5)" textLength="50.6" lengthAdjust="spacingAndGlyphs" stroke="#000" stroke-width="0.18">Width ration(0:24h)</text>
<text x="251.61" y="458.11" font-size="4.4" font-weight="bold" text-anchor="end" fill="#000" transform="rotate(-45 251.61 458.11)" textLength="14" lengthAdjust="spacingAndGlyphs">Control</text>
<text x="262.41" y="458.11" font-size="4.4" font-weight="bold" text-anchor="end" fill="#000" transform="rotate(-45 262.41 458.11)" textLength="7" lengthAdjust="spacingAndGlyphs">KD1</text>
<text x="272.81" y="458.11" font-size="4.4" font-weight="bold" text-anchor="end" fill="#000" transform="rotate(-45 272.81 458.11)" textLength="7" lengthAdjust="spacingAndGlyphs">KD2</text>
<text x="110.5" y="495.79" font-size="9.2" font-weight="bold" text-anchor="start" fill="#000" textLength="45.9" lengthAdjust="spacingAndGlyphs" stroke="#000" stroke-width="0.18">Cal 27 cells</text>
<text x="339.6" y="390.66" font-size="6.6" font-weight="bold" text-anchor="middle" fill="#000" textLength="22" lengthAdjust="spacingAndGlyphs" stroke="#000" stroke-width="0.18">Control</text>
<text x="385.4" y="390.66" font-size="6.6" font-weight="bold" text-anchor="middle" fill="#000" textLength="12" lengthAdjust="spacingAndGlyphs" stroke="#000" stroke-width="0.18">KD1</text>
<text x="436.8" y="390.66" font-size="6.6" font-weight="bold" text-anchor="middle" fill="#000" textLength="12" lengthAdjust="spacingAndGlyphs" stroke="#000" stroke-width="0.18">KD2</text>
<g clip-path="url(#cw7)">
<rect x="307.8" y="394.2" width="47.8" height="37.6" fill="#837a94"/>
<rect x="307.8" y="394.2" width="47.8" height="37.6" fill="#000" filter="url(#nWs)"/>
<rect x="307.8" y="394.2" width="47.8" height="37.6" fill="#000" filter="url(#nWsd)"/>
<rect x="319.3" y="394.2" width="25.4" height="37.6" fill="#8a8298"/>
</g>
<line x1="319.3" y1="394.2" x2="319.3" y2="431.8" stroke="#111" stroke-width="1"/>
<line x1="344.7" y1="394.2" x2="344.7" y2="431.8" stroke="#111" stroke-width="1"/>
<g clip-path="url(#cw8)">
<rect x="307.8" y="436.6" width="47.8" height="37.7" fill="#8a8492"/>
<rect x="307.8" y="436.6" width="47.8" height="37.7" fill="#000" filter="url(#nWs)"/>
<rect x="323" y="436.6" width="21.7" height="37.7" fill="#8e8896"/>
</g>
<line x1="323" y1="436.6" x2="323" y2="474.3" stroke="#111" stroke-width="1"/>
<line x1="344.7" y1="436.6" x2="344.7" y2="474.3" stroke="#111" stroke-width="1"/>
<g clip-path="url(#cw9)">
<rect x="362" y="394.2" width="47.6" height="37.6" fill="#887e98"/>
<rect x="362" y="394.2" width="47.6" height="37.6" fill="#000" filter="url(#nWs)"/>
<rect x="362" y="394.2" width="47.6" height="37.6" fill="#000" filter="url(#nWsd)"/>
<rect x="374.5" y="394.2" width="25.5" height="37.6" fill="#8c849c"/>
</g>
<line x1="374.5" y1="394.2" x2="374.5" y2="431.8" stroke="#111" stroke-width="1"/>
<line x1="400" y1="394.2" x2="400" y2="431.8" stroke="#111" stroke-width="1"/>
<g clip-path="url(#cw10)">
<rect x="362" y="436.6" width="47.6" height="37.7" fill="#7a8684"/>
<rect x="362" y="436.6" width="47.6" height="37.7" fill="#000" filter="url(#nWs)"/>
<rect x="362" y="436.6" width="47.6" height="37.7" fill="#000" filter="url(#nWsd)"/>
<rect x="379.6" y="436.6" width="13.4" height="37.7" fill="#84908e"/>
<rect x="379.6" y="436.6" width="13.4" height="37.7" fill="#000" filter="url(#nWs)"/>
</g>
<line x1="379.6" y1="436.6" x2="379.6" y2="474.3" stroke="#111" stroke-width="1"/>
<line x1="393" y1="436.6" x2="393" y2="474.3" stroke="#111" stroke-width="1"/>
<g clip-path="url(#cw11)">
<rect x="414.2" y="394.2" width="48" height="38" fill="#857a92"/>
<rect x="414.2" y="394.2" width="48" height="38" fill="#000" filter="url(#nWs)"/>
<rect x="424.5" y="394.2" width="28.1" height="38" fill="#897f95"/>
</g>
<line x1="424.5" y1="394.2" x2="424.5" y2="432.2" stroke="#111" stroke-width="1"/>
<line x1="452.6" y1="394.2" x2="452.6" y2="432.2" stroke="#111" stroke-width="1"/>
<g clip-path="url(#cw12)">
<rect x="414.2" y="435.4" width="48" height="38.2" fill="#a0a6a0"/>
<rect x="414.2" y="435.4" width="48" height="38.2" fill="#000" filter="url(#nWs)"/>
<rect x="433.3" y="435.4" width="12.2" height="38.2" fill="#a6aca6"/>
</g>
<line x1="433.3" y1="435.4" x2="433.3" y2="473.6" stroke="#111" stroke-width="1"/>
<line x1="445.5" y1="435.4" x2="445.5" y2="473.6" stroke="#111" stroke-width="1"/>
<line x1="485" y1="402.5" x2="485" y2="451" stroke="#000" stroke-width="0.7"/>
<line x1="483.2" y1="451" x2="485" y2="451" stroke="#000" stroke-width="0.7"/>
<text x="482.6" y="452.36" font-size="3.8" font-weight="bold" text-anchor="end" fill="#222">0</text>
<line x1="483.2" y1="439.13" x2="485" y2="439.13" stroke="#000" stroke-width="0.7"/>
<text x="482.6" y="440.49" font-size="3.8" font-weight="bold" text-anchor="end" fill="#222">20</text>
<line x1="483.2" y1="427.25" x2="485" y2="427.25" stroke="#000" stroke-width="0.7"/>
<text x="482.6" y="428.61" font-size="3.8" font-weight="bold" text-anchor="end" fill="#222">40</text>
<line x1="483.2" y1="415.38" x2="485" y2="415.38" stroke="#000" stroke-width="0.7"/>
<text x="482.6" y="416.74" font-size="3.8" font-weight="bold" text-anchor="end" fill="#222">60</text>
<line x1="483.2" y1="403.5" x2="485" y2="403.5" stroke="#000" stroke-width="0.7"/>
<text x="482.6" y="404.86" font-size="3.8" font-weight="bold" text-anchor="end" fill="#222">80</text>
<line x1="485" y1="451" x2="516" y2="451" stroke="#000" stroke-width="0.7"/>
<rect x="488.6" y="437.94" width="6.3" height="13.06" fill="#000" stroke="#111" stroke-width="0.6"/>
<line x1="491.75" y1="437.94" x2="491.75" y2="435.56" stroke="#000" stroke-width="0.6"/>
<line x1="490.25" y1="435.56" x2="493.25" y2="435.56" stroke="#000" stroke-width="0.6"/>
<rect x="498.2" y="420.13" width="6" height="30.87" fill="#b0b0b0" stroke="#111" stroke-width="0.6"/>
<line x1="501.2" y1="420.13" x2="501.2" y2="417.75" stroke="#000" stroke-width="0.6"/>
<line x1="499.7" y1="417.75" x2="502.7" y2="417.75" stroke="#000" stroke-width="0.6"/>
<rect x="507.7" y="414.19" width="6.3" height="36.81" fill="#8c8c8c" stroke="#111" stroke-width="0.6"/>
<line x1="510.85" y1="414.19" x2="510.85" y2="412.41" stroke="#000" stroke-width="0.6"/>
<line x1="509.35" y1="412.41" x2="512.35" y2="412.41" stroke="#000" stroke-width="0.6"/>
<path d="M490.8 406.5 V404 H511.3 V406.5" fill="none" stroke="#000" stroke-width="0.8"/>
<text x="500.9" y="398.6" font-size="7" font-weight="bold" text-anchor="middle" fill="#000" dy="4.34" stroke="#000" stroke-width="0.18">*</text>
<path d="M490.8 414.7 V411.5 H501.4 V414.7" fill="none" stroke="#000" stroke-width="0.8"/>
<text x="496" y="405.7" font-size="7" font-weight="bold" text-anchor="middle" fill="#000" dy="4.34" stroke="#000" stroke-width="0.18">*</text>
<rect x="518.6" y="406" width="4.7" height="2.8" fill="#000" stroke="#222" stroke-width="0.4"/>
<rect x="518.6" y="412.2" width="4.7" height="2.8" fill="#b0b0b0" stroke="#222" stroke-width="0.4"/>
<rect x="518.6" y="419" width="4.7" height="2.8" fill="#8c8c8c" stroke="#222" stroke-width="0.4"/>
<text x="525.4" y="408.98" font-size="4.4" font-weight="bold" text-anchor="start" fill="#000" textLength="14" lengthAdjust="spacingAndGlyphs">Control</text>
<text x="525.4" y="415.18" font-size="4.4" font-weight="bold" text-anchor="start" fill="#000" textLength="6.5" lengthAdjust="spacingAndGlyphs">KD1</text>
<text x="525.4" y="421.98" font-size="4.4" font-weight="bold" text-anchor="start" fill="#000" textLength="6.8" lengthAdjust="spacingAndGlyphs">KD2</text>
<text x="473.32" y="428.4" font-size="6.2" font-weight="bold" text-anchor="middle" fill="#000" transform="rotate(-90 473.32 428.4)" textLength="49" lengthAdjust="spacingAndGlyphs" stroke="#000" stroke-width="0.18">Width ratio (0:24h)</text>
<text x="493.11" y="455.41" font-size="4.4" font-weight="bold" text-anchor="end" fill="#000" transform="rotate(-45 493.11 455.41)" textLength="14" lengthAdjust="spacingAndGlyphs">Control</text>
<text x="502.61" y="455.41" font-size="4.4" font-weight="bold" text-anchor="end" fill="#000" transform="rotate(-45 502.61 455.41)" textLength="7" lengthAdjust="spacingAndGlyphs">KD1</text>
<text x="512.11" y="455.41" font-size="4.4" font-weight="bold" text-anchor="end" fill="#000" transform="rotate(-45 512.11 455.41)" textLength="7" lengthAdjust="spacingAndGlyphs">KD2</text>
<text x="361.8" y="494.49" font-size="9.2" font-weight="bold" text-anchor="start" fill="#000" textLength="46.4" lengthAdjust="spacingAndGlyphs" stroke="#000" stroke-width="0.18">SCC-9 cells</text>
<text x="38.5" y="530.46" font-size="11.4" font-weight="normal">G</text>
<line x1="83.6" y1="532.2" x2="83.6" y2="595.5" stroke="#000" stroke-width="0.7"/>
<line x1="81.8" y1="595.5" x2="83.6" y2="595.5" stroke="#000" stroke-width="0.7"/>
<text x="81.2" y="596.79" font-size="3.6" font-weight="normal" text-anchor="end" fill="#222">0</text>
<line x1="81.8" y1="582.94" x2="83.6" y2="582.94" stroke="#000" stroke-width="0.7"/>
<text x="81.2" y="584.23" font-size="3.6" font-weight="normal" text-anchor="end" fill="#222">200</text>
<line x1="81.8" y1="570.38" x2="83.6" y2="570.38" stroke="#000" stroke-width="0.7"/>
<text x="81.2" y="571.67" font-size="3.6" font-weight="normal" text-anchor="end" fill="#222">400</text>
<line x1="81.8" y1="557.82" x2="83.6" y2="557.82" stroke="#000" stroke-width="0.7"/>
<text x="81.2" y="559.11" font-size="3.6" font-weight="normal" text-anchor="end" fill="#222">600</text>
<line x1="81.8" y1="545.26" x2="83.6" y2="545.26" stroke="#000" stroke-width="0.7"/>
<text x="81.2" y="546.55" font-size="3.6" font-weight="normal" text-anchor="end" fill="#222">800</text>
<line x1="81.8" y1="532.7" x2="83.6" y2="532.7" stroke="#000" stroke-width="0.7"/>
<text x="81.2" y="533.99" font-size="3.6" font-weight="normal" text-anchor="end" fill="#222">1000</text>
<line x1="83.6" y1="595.5" x2="157" y2="595.5" stroke="#000" stroke-width="0.7"/>
<line x1="88.9" y1="595.5" x2="88.9" y2="597" stroke="#000" stroke-width="0.5"/>
<text x="88.9" y="601.59" font-size="3.6" font-weight="bold" text-anchor="middle" fill="#000" textLength="6.4" lengthAdjust="spacingAndGlyphs">10d</text>
<line x1="96" y1="595.5" x2="96" y2="597" stroke="#000" stroke-width="0.5"/>
<text x="96" y="601.59" font-size="3.6" font-weight="bold" text-anchor="middle" fill="#000" textLength="6.4" lengthAdjust="spacingAndGlyphs">13d</text>
<line x1="103.1" y1="595.5" x2="103.1" y2="597" stroke="#000" stroke-width="0.5"/>
<text x="103.1" y="601.59" font-size="3.6" font-weight="bold" text-anchor="middle" fill="#000" textLength="6.4" lengthAdjust="spacingAndGlyphs">16d</text>
<line x1="110.2" y1="595.5" x2="110.2" y2="597" stroke="#000" stroke-width="0.5"/>
<text x="110.2" y="601.59" font-size="3.6" font-weight="bold" text-anchor="middle" fill="#000" textLength="6.4" lengthAdjust="spacingAndGlyphs">19d</text>
<line x1="117.3" y1="595.5" x2="117.3" y2="597" stroke="#000" stroke-width="0.5"/>
<text x="117.3" y="601.59" font-size="3.6" font-weight="bold" text-anchor="middle" fill="#000" textLength="6.4" lengthAdjust="spacingAndGlyphs">22d</text>
<line x1="124.4" y1="595.5" x2="124.4" y2="597" stroke="#000" stroke-width="0.5"/>
<text x="124.4" y="601.59" font-size="3.6" font-weight="bold" text-anchor="middle" fill="#000" textLength="6.4" lengthAdjust="spacingAndGlyphs">25d</text>
<line x1="131.5" y1="595.5" x2="131.5" y2="597" stroke="#000" stroke-width="0.5"/>
<text x="131.5" y="601.59" font-size="3.6" font-weight="bold" text-anchor="middle" fill="#000" textLength="6.4" lengthAdjust="spacingAndGlyphs">28d</text>
<line x1="138.6" y1="595.5" x2="138.6" y2="597" stroke="#000" stroke-width="0.5"/>
<text x="138.6" y="601.59" font-size="3.6" font-weight="bold" text-anchor="middle" fill="#000" textLength="6.4" lengthAdjust="spacingAndGlyphs">31d</text>
<line x1="145.7" y1="595.5" x2="145.7" y2="597" stroke="#000" stroke-width="0.5"/>
<text x="145.7" y="601.59" font-size="3.6" font-weight="bold" text-anchor="middle" fill="#000" textLength="6.4" lengthAdjust="spacingAndGlyphs">34d</text>
<line x1="152.8" y1="595.5" x2="152.8" y2="597" stroke="#000" stroke-width="0.5"/>
<text x="152.8" y="601.59" font-size="3.6" font-weight="bold" text-anchor="middle" fill="#000" textLength="6.4" lengthAdjust="spacingAndGlyphs">37d</text>
<line x1="88.9" y1="590.48" x2="88.9" y2="589.22" stroke="#f02020" stroke-width="0.6"/>
<line x1="96" y1="589.85" x2="96" y2="588.59" stroke="#f02020" stroke-width="0.6"/>
<line x1="103.1" y1="588.59" x2="103.1" y2="586.71" stroke="#f02020" stroke-width="0.6"/>
<line x1="110.2" y1="588.28" x2="110.2" y2="582" stroke="#f02020" stroke-width="0.6"/>
<line x1="117.3" y1="584.82" x2="117.3" y2="581.06" stroke="#f02020" stroke-width="0.6"/>
<line x1="124.4" y1="582.31" x2="124.4" y2="574.78" stroke="#f02020" stroke-width="0.6"/>
<line x1="131.5" y1="577.29" x2="131.5" y2="573.52" stroke="#f02020" stroke-width="0.6"/>
<line x1="138.6" y1="568.5" x2="138.6" y2="563.47" stroke="#f02020" stroke-width="0.6"/>
<line x1="145.7" y1="559.08" x2="145.7" y2="556.56" stroke="#f02020" stroke-width="0.6"/>
<line x1="152.8" y1="547.14" x2="152.8" y2="539.61" stroke="#f02020" stroke-width="0.6"/>
<line x1="88.9" y1="590.6" x2="88.9" y2="589.35" stroke="#2040f0" stroke-width="0.6"/>
<line x1="96" y1="590.35" x2="96" y2="589.09" stroke="#2040f0" stroke-width="0.6"/>
<line x1="103.1" y1="589.85" x2="103.1" y2="587.96" stroke="#2040f0" stroke-width="0.6"/>
<line x1="110.2" y1="589.22" x2="110.2" y2="586.71" stroke="#2040f0" stroke-width="0.6"/>
<line x1="117.3" y1="588.28" x2="117.3" y2="585.77" stroke="#2040f0" stroke-width="0.6"/>
<line x1="124.4" y1="586.71" x2="124.4" y2="583.57" stroke="#2040f0" stroke-width="0.6"/>
<line x1="131.5" y1="584.51" x2="131.5" y2="582" stroke="#2040f0" stroke-width="0.6"/>
<line x1="138.6" y1="582.31" x2="138.6" y2="579.17" stroke="#2040f0" stroke-width="0.6"/>
<line x1="145.7" y1="578.54" x2="145.7" y2="573.52" stroke="#2040f0" stroke-width="0.6"/>
<line x1="152.8" y1="571.32" x2="152.8" y2="567.55" stroke="#2040f0" stroke-width="0.6"/>
<polyline points="88.9,589.85 96,589.22 103.1,587.65 110.2,585.14 117.3,582.94 124.4,578.54 131.5,575.4 138.6,565.98 145.7,557.82 152.8,543.38" fill="none" stroke="#f02020" stroke-width="1"/>
<circle cx="88.9" cy="589.85" r="1.5" fill="#f02020"/>
<circle cx="96" cy="589.22" r="1.5" fill="#f02020"/>
<circle cx="103.1" cy="587.65" r="1.5" fill="#f02020"/>
<circle cx="110.2" cy="585.14" r="1.5" fill="#f02020"/>
<circle cx="117.3" cy="582.94" r="1.5" fill="#f02020"/>
<circle cx="124.4" cy="578.54" r="1.5" fill="#f02020"/>
<circle cx="131.5" cy="575.4" r="1.5" fill="#f02020"/>
<circle cx="138.6" cy="565.98" r="1.5" fill="#f02020"/>
<circle cx="145.7" cy="557.82" r="1.5" fill="#f02020"/>
<circle cx="152.8" cy="543.38" r="1.5" fill="#f02020"/>
<polyline points="88.9,589.97 96,589.72 103.1,588.91 110.2,587.96 117.3,587.02 124.4,585.14 131.5,583.25 138.6,580.74 145.7,576.03 152.8,569.44" fill="none" stroke="#2040f0" stroke-width="1"/>
<circle cx="88.9" cy="589.97" r="1.5" fill="#2040f0"/>
<circle cx="96" cy="589.72" r="1.5" fill="#2040f0"/>
<circle cx="103.1" cy="588.91" r="1.5" fill="#2040f0"/>
<circle cx="110.2" cy="587.96" r="1.5" fill="#2040f0"/>
<circle cx="117.3" cy="587.02" r="1.5" fill="#2040f0"/>
<circle cx="124.4" cy="585.14" r="1.5" fill="#2040f0"/>
<circle cx="131.5" cy="583.25" r="1.5" fill="#2040f0"/>
<circle cx="138.6" cy="580.74" r="1.5" fill="#2040f0"/>
<circle cx="145.7" cy="576.03" r="1.5" fill="#2040f0"/>
<circle cx="152.8" cy="569.44" r="1.5" fill="#2040f0"/>
<path d="M155 543.4 H158.5 V569.3 H155" fill="none" stroke="#000" stroke-width="0.7"/>
<text x="162.7" y="556.4" font-size="8" font-weight="bold" text-anchor="middle" fill="#000" transform="rotate(90 162.7 556.4)" dy="2.8" stroke="#000" stroke-width="0.18">**</text>
<line x1="169" y1="537.3" x2="174.2" y2="537.3" stroke="#2040f0" stroke-width="0.8"/>
<circle cx="171.6" cy="537.3" r="1" fill="#2040f0"/>
<line x1="169" y1="545.4" x2="174.2" y2="545.4" stroke="#f02020" stroke-width="0.8"/>
<circle cx="171.6" cy="545.4" r="1" fill="#f02020"/>
<text x="176.7" y="538.88" font-size="4.4" font-weight="normal" text-anchor="start" fill="#000" textLength="28" lengthAdjust="spacingAndGlyphs">Cal27-KD-CON</text>
<text x="176.7" y="546.98" font-size="4.4" font-weight="normal" text-anchor="start" fill="#000" textLength="17.5" lengthAdjust="spacingAndGlyphs">Cal27-KD</text>
<text x="64.49" y="566.5" font-size="6.4" font-weight="bold" text-anchor="middle" fill="#000" transform="rotate(-90 64.49 566.5)" xml:space="preserve" textLength="60.8" lengthAdjust="spacingAndGlyphs" stroke="#000" stroke-width="0.18">Tumor Volume  (mm3)</text>
<text x="260" y="530.38" font-size="11" font-weight="normal">H</text>
<text x="231" y="554.66" font-size="8" font-weight="bold" text-anchor="start" fill="#000" textLength="29" lengthAdjust="spacingAndGlyphs" stroke="#000" stroke-width="0.18">Control</text>
<text x="227.6" y="578.86" font-size="8" font-weight="bold" text-anchor="start" fill="#000" textLength="36.9" lengthAdjust="spacingAndGlyphs" stroke="#000" stroke-width="0.18">DDX5-KD</text>
<g clip-path="url(#cH)">
<rect x="282.3" y="546.4" width="122.7" height="40.9" fill="#8ea2b0"/>
<rect x="282.3" y="546.4" width="122.7" height="32.1" fill="url(#gH)"/>
<rect x="402.5" y="546.4" width="2.5" height="10.6" fill="#303030"/>
<rect x="404" y="546.4" width="1" height="32.6" fill="#505860"/>
<rect x="282.3" y="578.5" width="122.7" height="8.8" fill="#d8d0c2"/>
<line x1="284" y1="585" x2="284" y2="583.5" stroke="#555" stroke-width="0.3"/>
<line x1="286" y1="585" x2="286" y2="587.3" stroke="#555" stroke-width="0.3"/>
<line x1="288" y1="585" x2="288" y2="587.3" stroke="#555" stroke-width="0.3"/>
<line x1="290" y1="585" x2="290" y2="587.3" stroke="#555" stroke-width="0.3"/>
<line x1="292" y1="585" x2="292" y2="587.3" stroke="#555" stroke-width="0.3"/>
<line x1="294" y1="585" x2="294" y2="583.5" stroke="#555" stroke-width="0.3"/>
<line x1="296" y1="585" x2="296" y2="587.3" stroke="#555" stroke-width="0.3"/>
<line x1="298" y1="585" x2="298" y2="587.3" stroke="#555" stroke-width="0.3"/>
<line x1="300" y1="585" x2="300" y2="587.3" stroke="#555" stroke-width="0.3"/>
<line x1="302" y1="585" x2="302" y2="587.3" stroke="#555" stroke-width="0.3"/>
<line x1="304" y1="585" x2="304" y2="583.5" stroke="#555" stroke-width="0.3"/>
<line x1="306" y1="585" x2="306" y2="587.3" stroke="#555" stroke-width="0.3"/>
<line x1="308" y1="585" x2="308" y2="587.3" stroke="#555" stroke-width="0.3"/>
<line x1="310" y1="585" x2="310" y2="587.3" stroke="#555" stroke-width="0.3"/>
<line x1="312" y1="585" x2="312" y2="587.3" stroke="#555" stroke-width="0.3"/>
<line x1="314" y1="585" x2="314" y2="583.5" stroke="#555" stroke-width="0.3"/>
<line x1="316" y1="585" x2="316" y2="587.3" stroke="#555" stroke-width="0.3"/>
<line x1="318" y1="585" x2="318" y2="587.3" stroke="#555" stroke-width="0.3"/>
<line x1="320" y1="585" x2="320" y2="587.3" stroke="#555" stroke-width="0.3"/>
<line x1="322" y1="585" x2="322" y2="587.3" stroke="#555" stroke-width="0.3"/>
<line x1="324" y1="585" x2="324" y2="583.5" stroke="#555" stroke-width="0.3"/>
<line x1="326" y1="585" x2="326" y2="587.3" stroke="#555" stroke-width="0.3"/>
<line x1="328" y1="585" x2="328" y2="587.3" stroke="#555" stroke-width="0.3"/>
<line x1="330" y1="585" x2="330" y2="587.3" stroke="#555" stroke-width="0.3"/>
<line x1="332" y1="585" x2="332" y2="587.3" stroke="#555" stroke-width="0.3"/>
<line x1="334" y1="585" x2="334" y2="583.5" stroke="#555" stroke-width="0.3"/>
<line x1="336" y1="585" x2="336" y2="587.3" stroke="#555" stroke-width="0.3"/>
<line x1="338" y1="585" x2="338" y2="587.3" stroke="#555" stroke-width="0.3"/>
<line x1="340" y1="585" x2="340" y2="587.3" stroke="#555" stroke-width="0.3"/>
<line x1="342" y1="585" x2="342" y2="587.3" stroke="#555" stroke-width="0.3"/>
<line x1="344" y1="585" x2="344" y2="583.5" stroke="#555" stroke-width="0.3"/>
<line x1="346" y1="585" x2="346" y2="587.3" stroke="#555" stroke-width="0.3"/>
<line x1="348" y1="585" x2="348" y2="587.3" stroke="#555" stroke-width="0.3"/>
<line x1="350" y1="585" x2="350" y2="587.3" stroke="#555" stroke-width="0.3"/>
<line x1="352" y1="585" x2="352" y2="587.3" stroke="#555" stroke-width="0.3"/>
<line x1="354" y1="585" x2="354" y2="583.5" stroke="#555" stroke-width="0.3"/>
<line x1="356" y1="585" x2="356" y2="587.3" stroke="#555" stroke-width="0.3"/>
<line x1="358" y1="585" x2="358" y2="587.3" stroke="#555" stroke-width="0.3"/>
<line x1="360" y1="585" x2="360" y2="587.3" stroke="#555" stroke-width="0.3"/>
<line x1="362" y1="585" x2="362" y2="587.3" stroke="#555" stroke-width="0.3"/>
<line x1="364" y1="585" x2="364" y2="583.5" stroke="#555" stroke-width="0.3"/>
<line x1="366" y1="585" x2="366" y2="587.3" stroke="#555" stroke-width="0.3"/>
<line x1="368" y1="585" x2="368" y2="587.3" stroke="#555" stroke-width="0.3"/>
<line x1="370" y1="585" x2="370" y2="587.3" stroke="#555" stroke-width="0.3"/>
<line x1="372" y1="585" x2="372" y2="587.3" stroke="#555" stroke-width="0.3"/>
<line x1="374" y1="585" x2="374" y2="583.5" stroke="#555" stroke-width="0.3"/>
<line x1="376" y1="585" x2="376" y2="587.3" stroke="#555" stroke-width="0.3"/>
<line x1="378" y1="585" x2="378" y2="587.3" stroke="#555" stroke-width="0.3"/>
<line x1="380" y1="585" x2="380" y2="587.3" stroke="#555" stroke-width="0.3"/>
<line x1="382" y1="585" x2="382" y2="587.3" stroke="#555" stroke-width="0.3"/>
<line x1="384" y1="585" x2="384" y2="583.5" stroke="#555" stroke-width="0.3"/>
<line x1="386" y1="585" x2="386" y2="587.3" stroke="#555" stroke-width="0.3"/>
<line x1="388" y1="585" x2="388" y2="587.3" stroke="#555" stroke-width="0.3"/>
<line x1="390" y1="585" x2="390" y2="587.3" stroke="#555" stroke-width="0.3"/>
<line x1="392" y1="585" x2="392" y2="587.3" stroke="#555" stroke-width="0.3"/>
<line x1="394" y1="585" x2="394" y2="583.5" stroke="#555" stroke-width="0.3"/>
<line x1="396" y1="585" x2="396" y2="587.3" stroke="#555" stroke-width="0.3"/>
<line x1="398" y1="585" x2="398" y2="587.3" stroke="#555" stroke-width="0.3"/>
<line x1="400" y1="585" x2="400" y2="587.3" stroke="#555" stroke-width="0.3"/>
<line x1="402" y1="585" x2="402" y2="587.3" stroke="#555" stroke-width="0.3"/>
<line x1="282.3" y1="578.7" x2="405" y2="578.7" stroke="#888" stroke-width="0.4"/>
<text x="286" y="583.06" font-size="2.4" font-weight="normal" text-anchor="middle" fill="#666">1</text>
<text x="292.2" y="583.06" font-size="2.4" font-weight="normal" text-anchor="middle" fill="#666">2</text>
<text x="298.4" y="583.06" font-size="2.4" font-weight="normal" text-anchor="middle" fill="#666">3</text>
<text x="304.6" y="583.06" font-size="2.4" font-weight="normal" text-anchor="middle" fill="#666">4</text>
<text x="310.8" y="583.06" font-size="2.4" font-weight="normal" text-anchor="middle" fill="#666">5</text>
<text x="317" y="583.06" font-size="2.4" font-weight="normal" text-anchor="middle" fill="#666">6</text>
<text x="323.2" y="583.06" font-size="2.4" font-weight="normal" text-anchor="middle" fill="#666">7</text>
<text x="329.4" y="583.06" font-size="2.4" font-weight="normal" text-anchor="middle" fill="#666">8</text>
<text x="335.6" y="583.06" font-size="2.4" font-weight="normal" text-anchor="middle" fill="#666">9</text>
<text x="341.8" y="583.06" font-size="2.4" font-weight="normal" text-anchor="middle" fill="#666">10</text>
<text x="348" y="583.06" font-size="2.4" font-weight="normal" text-anchor="middle" fill="#666">11</text>
<text x="354.2" y="583.06" font-size="2.4" font-weight="normal" text-anchor="middle" fill="#666">12</text>
<text x="360.4" y="583.06" font-size="2.4" font-weight="normal" text-anchor="middle" fill="#666">13</text>
<text x="366.6" y="583.06" font-size="2.4" font-weight="normal" text-anchor="middle" fill="#666">14</text>
<text x="372.8" y="583.06" font-size="2.4" font-weight="normal" text-anchor="middle" fill="#666">15</text>
<text x="379" y="583.06" font-size="2.4" font-weight="normal" text-anchor="middle" fill="#666">16</text>
<text x="385.2" y="583.06" font-size="2.4" font-weight="normal" text-anchor="middle" fill="#666">17</text>
<text x="391.4" y="583.06" font-size="2.4" font-weight="normal" text-anchor="middle" fill="#666">18</text>
<text x="397.6" y="583.06" font-size="2.4" font-weight="normal" text-anchor="middle" fill="#666">19</text>
</g>
<g filter="url(#b04)"><path d="M292.8 550.9Q293.3 551.7 292.8 552.2Q292.3 552.7 291.4 553.5Q290.6 554.2 289.9 554.7Q289.2 555.1 288.1 554.6Q286.9 554.1 286.4 553.3Q285.9 552.5 285.8 551.8Q285.8 551.0 286.6 550.1Q287.4 549.1 288.3 548.7Q289.2 548.4 289.9 548.4Q290.6 548.5 291.5 549.3Q292.4 550.1 292.8 550.9Z" fill="#de9474"/><path d="M308.0 551.8Q308.8 552.6 308.3 553.6Q307.8 554.7 306.7 554.8Q305.6 555.0 304.4 555.4Q303.2 555.8 302.3 555.2Q301.3 554.5 301.1 553.8Q300.8 553.1 300.7 552.2Q300.6 551.3 301.3 550.9Q301.9 550.6 303.0 549.7Q304.1 548.9 304.9 549.1Q305.6 549.3 306.4 550.1Q307.2 550.9 308.0 551.8Z" fill="#de9474"/><path d="M324.2 551.5Q324.3 552.3 324.1 553.3Q323.9 554.3 323.0 554.9Q322.2 555.5 321.1 555.8Q320.0 556.1 319.1 555.5Q318.3 554.9 317.9 554.0Q317.4 553.1 317.0 552.3Q316.6 551.6 317.4 550.7Q318.3 549.9 319.0 549.6Q319.7 549.4 320.9 549.7Q322.1 549.9 323.0 550.3Q324.0 550.7 324.2 551.5Z" fill="#de9474"/><path d="M337.7 551.4Q337.9 552.0 337.6 553.0Q337.3 553.9 336.9 554.3Q336.5 554.8 335.3 554.8Q334.2 554.8 333.5 554.6Q332.8 554.5 332.2 553.6Q331.5 552.7 331.7 551.9Q332.0 551.1 332.1 550.5Q332.3 549.9 333.5 549.5Q334.7 549.2 335.3 549.4Q335.8 549.7 336.6 550.2Q337.4 550.7 337.7 551.4Z" fill="#de9474"/><path d="M352.8 551.6Q353.4 552.2 352.9 553.4Q352.4 554.6 351.6 554.9Q350.8 555.3 349.9 555.4Q349.0 555.5 348.1 555.4Q347.1 555.3 346.3 554.5Q345.4 553.7 345.2 552.8Q345.1 551.9 345.9 550.7Q346.7 549.5 347.9 549.2Q349.2 548.8 349.9 549.4Q350.7 550.0 351.5 550.5Q352.3 551.1 352.8 551.6Z" fill="#de9474"/><path d="M366.4 550.5Q366.9 551.2 366.6 552.0Q366.2 552.8 365.1 553.2Q363.9 553.6 363.3 553.7Q362.7 553.8 361.7 553.6Q360.7 553.4 359.4 552.6Q358.1 551.9 358.3 551.4Q358.6 551.0 359.3 550.3Q360.0 549.6 360.9 549.1Q361.9 548.6 363.2 548.9Q364.5 549.1 365.1 549.5Q365.8 549.8 366.4 550.5Z" fill="#de9474"/><path d="M378.8 551.0Q379.6 552.1 379.3 552.7Q379.1 553.4 377.9 553.8Q376.8 554.3 376.0 554.3Q375.3 554.3 374.2 554.0Q373.1 553.8 372.5 553.0Q372.0 552.2 372.1 551.4Q372.2 550.6 373.0 550.2Q373.8 549.7 374.6 549.5Q375.4 549.2 376.1 548.9Q376.9 548.6 377.4 549.3Q378.0 550.0 378.8 551.0Z" fill="#de9474"/><path d="M395.6 550.6Q396.1 551.1 395.5 552.0Q395.0 552.9 394.3 553.3Q393.6 553.7 392.5 553.9Q391.4 554.0 390.5 553.8Q389.5 553.7 388.7 552.7Q387.8 551.7 388.1 551.0Q388.3 550.4 388.7 549.6Q389.1 548.8 390.2 548.6Q391.4 548.4 392.5 548.5Q393.6 548.6 394.3 549.4Q395.1 550.2 395.6 550.6Z" fill="#de9474"/><path d="M292.9 565.6Q292.9 566.7 292.3 568.0Q291.6 569.3 290.5 570.3Q289.3 571.3 288.1 571.3Q286.9 571.4 285.1 570.9Q283.4 570.4 283.0 569.3Q282.6 568.1 282.3 566.6Q282.0 565.1 282.9 564.2Q283.8 563.3 285.8 562.8Q287.8 562.4 288.6 562.7Q289.5 563.0 291.2 563.8Q292.9 564.6 292.9 565.6Z" fill="#cc6a4c"/><path d="M311.1 565.6Q311.5 566.9 310.7 568.5Q309.9 570.2 308.9 570.5Q307.9 570.9 306.7 571.5Q305.6 572.1 304.1 571.9Q302.6 571.6 302.0 569.8Q301.5 567.9 301.4 566.7Q301.3 565.5 302.0 564.4Q302.6 563.2 303.7 562.9Q304.9 562.5 306.8 562.6Q308.7 562.7 309.7 563.5Q310.7 564.3 311.1 565.6Z" fill="#cc6a4c"/><path d="M328.7 566.0Q328.9 566.7 329.1 568.4Q329.2 570.1 327.9 570.9Q326.7 571.7 325.2 571.5Q323.7 571.3 321.9 571.2Q320.2 571.2 319.6 570.1Q319.0 569.0 318.6 567.5Q318.1 566.0 319.3 565.0Q320.6 563.9 321.9 563.2Q323.2 562.5 325.0 562.9Q326.8 563.3 327.7 564.3Q328.5 565.3 328.7 566.0Z" fill="#cc6a4c"/><path d="M346.5 566.0Q347.1 567.2 346.9 568.9Q346.7 570.5 344.8 571.0Q343.0 571.5 341.3 571.7Q339.5 571.9 338.1 571.5Q336.7 571.1 335.9 570.3Q335.1 569.5 335.3 567.5Q335.5 565.5 336.3 564.5Q337.2 563.4 338.4 562.9Q339.6 562.3 341.1 562.3Q342.7 562.4 344.3 563.6Q346.0 564.7 346.5 566.0Z" fill="#cc6a4c"/><path d="M362.9 566.3Q363.8 567.6 362.8 568.8Q361.7 570.0 360.9 570.6Q360.1 571.3 358.7 571.7Q357.2 572.1 355.3 571.9Q353.4 571.7 352.7 570.4Q352.1 569.0 352.2 567.6Q352.4 566.2 352.8 565.0Q353.3 563.7 355.0 563.5Q356.6 563.4 358.7 563.3Q360.8 563.2 361.4 564.1Q362.0 565.0 362.9 566.3Z" fill="#cc6a4c"/><path d="M376.4 565.7Q377.5 566.4 376.5 567.7Q375.5 569.0 374.5 569.9Q373.6 570.8 372.2 571.1Q370.8 571.4 370.1 570.9Q369.3 570.3 368.2 569.2Q367.2 568.1 367.1 566.8Q367.1 565.5 368.1 564.6Q369.1 563.6 369.9 563.4Q370.7 563.1 372.5 563.1Q374.3 563.0 374.8 564.0Q375.2 564.9 376.4 565.7Z" fill="#cc6a4c"/><path d="M391.1 565.4Q391.4 566.7 391.4 568.4Q391.4 570.1 390.3 570.8Q389.3 571.4 387.2 571.8Q385.1 572.2 383.7 571.6Q382.3 571.0 381.9 569.7Q381.5 568.4 381.1 567.1Q380.7 565.7 381.9 564.6Q383.2 563.5 384.1 562.6Q385.0 561.7 387.0 561.9Q388.9 562.1 389.8 563.1Q390.7 564.1 391.1 565.4Z" fill="#cc6a4c"/><path d="M403.3 565.7Q403.2 567.2 403.4 568.4Q403.7 569.5 402.1 570.2Q400.6 570.8 399.5 571.7Q398.5 572.6 397.2 571.8Q395.8 571.1 394.7 570.0Q393.5 568.9 393.5 567.5Q393.5 566.0 394.8 565.3Q396.0 564.5 396.9 564.2Q397.9 563.9 399.5 564.1Q401.1 564.2 402.3 564.2Q403.4 564.1 403.3 565.7Z" fill="#cc6a4c"/><path d="M291.0 550.8Q291.3 551.1 291.1 551.6Q290.9 552.2 290.3 552.5Q289.8 552.8 289.2 552.8Q288.6 552.7 288.1 552.5Q287.7 552.3 287.3 551.9Q286.9 551.6 287.1 551.3Q287.4 551.1 287.4 550.6Q287.5 550.1 288.1 549.9Q288.8 549.7 289.3 549.8Q289.8 549.9 290.2 550.2Q290.7 550.5 291.0 550.8Z" fill="#f4c4a8" opacity="0.55"/><path d="M306.0 551.5Q306.2 552.0 305.8 552.5Q305.3 553.0 305.0 553.2Q304.6 553.4 304.0 553.5Q303.5 553.6 302.8 553.4Q302.1 553.3 301.8 553.0Q301.5 552.6 301.8 552.2Q302.1 551.8 302.4 551.5Q302.7 551.1 303.1 550.9Q303.4 550.7 304.1 550.8Q304.8 550.9 305.2 551.0Q305.7 551.0 306.0 551.5Z" fill="#f4c4a8" opacity="0.55"/><path d="M322.2 551.5Q322.4 551.9 322.3 552.5Q322.1 553.1 321.7 553.4Q321.3 553.7 320.6 553.6Q319.9 553.5 319.5 553.5Q319.1 553.6 318.8 553.0Q318.5 552.4 318.4 552.0Q318.3 551.7 318.6 551.3Q319.0 551.0 319.4 550.8Q319.9 550.6 320.5 550.7Q321.1 550.8 321.6 550.9Q322.1 551.1 322.2 551.5Z" fill="#f4c4a8" opacity="0.55"/><path d="M336.4 551.6Q336.5 552.0 336.2 552.3Q336.0 552.5 335.5 553.0Q335.0 553.4 334.5 553.3Q334.0 553.3 333.7 553.2Q333.4 553.0 333.0 552.6Q332.7 552.2 332.7 551.8Q332.6 551.5 332.9 551.2Q333.2 550.8 333.8 550.7Q334.4 550.5 334.7 550.4Q335.0 550.2 335.7 550.7Q336.4 551.1 336.4 551.6Z" fill="#f4c4a8" opacity="0.55"/><path d="M350.8 551.6Q351.1 552.1 350.8 552.6Q350.6 553.1 350.1 553.4Q349.5 553.8 349.1 553.7Q348.7 553.7 348.1 553.5Q347.4 553.3 347.2 552.9Q347.0 552.5 346.9 552.2Q346.8 551.9 347.3 551.4Q347.8 551.0 348.3 550.7Q348.8 550.3 349.4 550.5Q350.0 550.6 350.3 550.8Q350.5 551.1 350.8 551.6Z" fill="#f4c4a8" opacity="0.55"/><path d="M364.5 550.7Q364.6 551.0 364.3 551.4Q364.1 551.9 363.7 552.0Q363.4 552.2 362.7 552.4Q362.1 552.5 361.4 552.3Q360.7 552.0 360.3 551.7Q360.0 551.4 360.1 551.1Q360.2 550.8 360.4 550.4Q360.7 550.0 361.3 549.9Q361.9 549.7 362.5 549.8Q363.2 550.0 363.8 550.2Q364.4 550.4 364.5 550.7Z" fill="#f4c4a8" opacity="0.55"/><path d="M377.2 550.8Q377.4 551.2 377.1 551.6Q376.7 552.0 376.3 552.3Q375.8 552.6 375.3 552.8Q374.8 552.9 374.3 552.7Q373.7 552.5 373.5 552.2Q373.3 551.8 373.3 551.5Q373.3 551.1 373.6 550.7Q374.0 550.2 374.4 550.0Q374.8 549.8 375.5 550.1Q376.2 550.3 376.5 550.4Q376.9 550.5 377.2 550.8Z" fill="#f4c4a8" opacity="0.55"/><path d="M393.4 550.5Q393.8 550.8 393.5 551.4Q393.2 551.9 392.8 552.1Q392.5 552.4 391.9 552.3Q391.3 552.3 390.7 552.2Q390.0 552.2 389.7 551.8Q389.4 551.4 389.2 550.9Q388.9 550.4 389.3 550.2Q389.7 549.9 390.3 549.7Q391.0 549.4 391.6 549.6Q392.3 549.8 392.6 550.0Q392.9 550.3 393.4 550.5Z" fill="#f4c4a8" opacity="0.55"/><path d="M290.2 566.1Q290.8 566.8 290.3 567.1Q289.8 567.5 289.2 567.9Q288.6 568.4 287.5 568.8Q286.5 569.1 285.7 568.6Q285.0 568.0 284.6 567.4Q284.2 566.8 284.0 566.3Q283.8 565.7 284.4 565.3Q285.1 564.9 286.1 564.5Q287.1 564.1 287.8 564.0Q288.5 564.0 289.0 564.7Q289.6 565.4 290.2 566.1Z" fill="#eeaa8a" opacity="0.5"/><path d="M308.5 566.3Q308.7 567.2 308.2 567.6Q307.7 568.0 307.2 568.5Q306.7 569.0 305.7 569.2Q304.7 569.4 304.1 568.9Q303.5 568.5 302.8 567.9Q302.2 567.4 302.0 566.8Q301.9 566.2 302.8 565.6Q303.7 565.0 304.5 564.8Q305.4 564.5 306.0 564.4Q306.7 564.3 307.4 564.9Q308.2 565.5 308.5 566.3Z" fill="#eeaa8a" opacity="0.5"/><path d="M326.5 565.6Q326.5 566.4 326.7 567.1Q326.9 567.8 325.8 568.3Q324.7 568.7 324.1 568.9Q323.4 569.0 322.2 568.8Q321.0 568.6 320.6 567.8Q320.2 567.1 320.3 566.6Q320.4 566.1 320.8 565.5Q321.1 564.8 322.2 564.5Q323.2 564.3 324.1 564.1Q324.9 564.0 325.6 564.4Q326.4 564.8 326.5 565.6Z" fill="#eeaa8a" opacity="0.5"/><path d="M343.9 566.1Q344.5 566.7 343.6 567.5Q342.8 568.2 342.2 568.8Q341.6 569.3 341.0 569.3Q340.4 569.3 339.5 568.9Q338.6 568.6 337.6 568.0Q336.5 567.5 336.5 566.7Q336.6 566.0 337.5 565.4Q338.5 564.7 339.4 564.3Q340.3 563.8 341.3 564.0Q342.4 564.2 342.9 564.8Q343.3 565.4 343.9 566.1Z" fill="#eeaa8a" opacity="0.5"/><path d="M360.2 566.4Q360.5 567.3 360.0 567.8Q359.5 568.3 359.1 569.1Q358.8 569.8 357.8 569.9Q356.8 569.9 355.9 569.6Q355.1 569.2 354.4 568.7Q353.8 568.2 353.9 567.5Q354.0 566.8 354.3 566.2Q354.6 565.6 355.5 565.3Q356.5 564.9 357.2 564.8Q357.9 564.7 358.9 565.1Q360.0 565.6 360.2 566.4Z" fill="#eeaa8a" opacity="0.5"/><path d="M374.0 566.3Q374.6 566.8 373.9 567.4Q373.2 567.9 372.9 568.2Q372.5 568.5 371.8 568.7Q371.0 568.8 370.2 568.9Q369.4 568.9 368.9 568.0Q368.4 567.1 368.4 566.3Q368.4 565.6 368.7 565.0Q369.1 564.4 370.1 564.4Q371.1 564.5 371.7 564.4Q372.2 564.2 372.9 565.0Q373.5 565.7 374.0 566.3Z" fill="#eeaa8a" opacity="0.5"/><path d="M388.7 565.3Q389.2 566.0 388.9 566.7Q388.7 567.4 387.8 568.2Q387.0 569.0 386.3 568.9Q385.7 568.8 384.6 568.5Q383.4 568.3 382.8 567.6Q382.3 566.9 382.3 566.2Q382.4 565.5 383.2 564.9Q384.0 564.3 384.6 564.2Q385.3 564.1 386.3 563.8Q387.2 563.5 387.8 564.0Q388.3 564.6 388.7 565.3Z" fill="#eeaa8a" opacity="0.5"/><path d="M401.2 566.4Q401.7 566.7 401.4 567.4Q401.0 568.0 400.5 568.6Q400.0 569.3 398.8 569.4Q397.7 569.4 396.8 569.2Q395.9 568.9 395.6 568.3Q395.3 567.8 395.5 567.1Q395.7 566.4 396.1 565.7Q396.5 565.0 397.3 564.9Q398.2 564.8 398.9 564.8Q399.6 564.8 400.1 565.4Q400.6 566.0 401.2 566.4Z" fill="#eeaa8a" opacity="0.5"/></g>
<text x="316.9" y="602.65" font-size="8.8" font-weight="bold" text-anchor="start" fill="#000" textLength="46.4" lengthAdjust="spacingAndGlyphs" stroke="#000" stroke-width="0.18">Cal 27 cells</text>
<text x="424.7" y="528.96" font-size="10" font-weight="bold">I</text>
<line x1="458.5" y1="533.5" x2="458.5" y2="585.6" stroke="#000" stroke-width="0.7"/>
<line x1="456.7" y1="585.6" x2="458.5" y2="585.6" stroke="#000" stroke-width="0.7"/>
<text x="456.1" y="586.96" font-size="3.8" font-weight="bold" text-anchor="end" fill="#222">0.0</text>
<line x1="456.7" y1="568.26" x2="458.5" y2="568.26" stroke="#000" stroke-width="0.7"/>
<text x="456.1" y="569.63" font-size="3.8" font-weight="bold" text-anchor="end" fill="#222">0.5</text>
<line x1="456.7" y1="550.93" x2="458.5" y2="550.93" stroke="#000" stroke-width="0.7"/>
<text x="456.1" y="552.29" font-size="3.8" font-weight="bold" text-anchor="end" fill="#222">1.0</text>
<line x1="456.7" y1="533.6" x2="458.5" y2="533.6" stroke="#000" stroke-width="0.7"/>
<text x="456.1" y="534.96" font-size="3.8" font-weight="bold" text-anchor="end" fill="#222">1.5</text>
<line x1="458.5" y1="585.6" x2="493.3" y2="585.6" stroke="#000" stroke-width="0.7"/>
<rect x="463.7" y="575.89" width="10.2" height="9.71" fill="#000" stroke="#111" stroke-width="0.6"/>
<line x1="468.8" y1="575.89" x2="468.8" y2="574.85" stroke="#000" stroke-width="0.6"/>
<line x1="467.3" y1="574.85" x2="470.3" y2="574.85" stroke="#000" stroke-width="0.6"/>
<rect x="478.6" y="546.77" width="10" height="38.83" fill="#a8a8b0" stroke="#111" stroke-width="0.6"/>
<line x1="483.6" y1="546.77" x2="483.6" y2="543.3" stroke="#000" stroke-width="0.6"/>
<line x1="482.1" y1="543.3" x2="485.1" y2="543.3" stroke="#000" stroke-width="0.6"/>
<path d="M468.5 533 V530.1 H484.3 V533" fill="none" stroke="#000" stroke-width="0.8"/>
<text x="476.3" y="524.2" font-size="7.5" font-weight="bold" text-anchor="middle" fill="#000" dy="4.65" stroke="#000" stroke-width="0.18">***</text>
<text x="440.81" y="563.8" font-size="7" font-weight="bold" text-anchor="middle" fill="#000" transform="rotate(-90 440.81 563.8)" textLength="46.8" lengthAdjust="spacingAndGlyphs" stroke="#000" stroke-width="0.18">Tumor weight (g )</text>
<text x="470.56" y="590.56" font-size="4.2" font-weight="bold" text-anchor="end" fill="#000" transform="rotate(-45 470.56 590.56)" textLength="25" lengthAdjust="spacingAndGlyphs">Cal27-KD-CON</text>
<text x="485.56" y="590.56" font-size="4.2" font-weight="bold" text-anchor="end" fill="#000" transform="rotate(-45 485.56 590.56)" textLength="16" lengthAdjust="spacingAndGlyphs">Cal27-KD</text></svg></body></html>
